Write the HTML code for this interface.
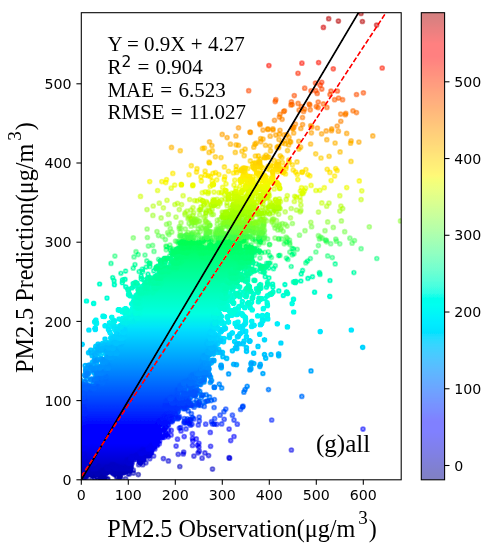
<!DOCTYPE html><html><head><meta charset="utf-8"><title>PM2.5 scatter</title><style>
html,body{margin:0;padding:0;background:#fff}svg{display:block}
.t{font-family:"DejaVu Sans","Liberation Sans",sans-serif;font-size:14.2px;fill:#000}
.s{font-family:"Liberation Serif","Times New Roman",serif;fill:#000}
</style></head><body>
<svg width="489" height="550" viewBox="0 0 489 550">
<rect width="489" height="550" fill="#fff"/>
<defs>
<linearGradient id="cb" gradientUnits="userSpaceOnUse" x1="0" y1="479.8" x2="0" y2="12.7">
<stop offset="0.0000" stop-color="#8080bf"/>
<stop offset="0.0156" stop-color="#8080c8"/>
<stop offset="0.0312" stop-color="#8080d1"/>
<stop offset="0.0469" stop-color="#8080db"/>
<stop offset="0.0625" stop-color="#8080e4"/>
<stop offset="0.0781" stop-color="#8080ed"/>
<stop offset="0.0938" stop-color="#8080f6"/>
<stop offset="0.1094" stop-color="#8080ff"/>
<stop offset="0.1250" stop-color="#8080ff"/>
<stop offset="0.1406" stop-color="#8088ff"/>
<stop offset="0.1562" stop-color="#8090ff"/>
<stop offset="0.1719" stop-color="#8098ff"/>
<stop offset="0.1875" stop-color="#80a0ff"/>
<stop offset="0.2031" stop-color="#80a8ff"/>
<stop offset="0.2188" stop-color="#80b0ff"/>
<stop offset="0.2344" stop-color="#80b8ff"/>
<stop offset="0.2500" stop-color="#80c0ff"/>
<stop offset="0.2656" stop-color="#80c8ff"/>
<stop offset="0.2812" stop-color="#80d0ff"/>
<stop offset="0.2969" stop-color="#80d8ff"/>
<stop offset="0.3125" stop-color="#80e0ff"/>
<stop offset="0.3281" stop-color="#80e8ff"/>
<stop offset="0.3438" stop-color="#80f0fd"/>
<stop offset="0.3594" stop-color="#84f8f6"/>
<stop offset="0.3750" stop-color="#8afff0"/>
<stop offset="0.3906" stop-color="#91ffea"/>
<stop offset="0.4062" stop-color="#97ffe3"/>
<stop offset="0.4219" stop-color="#9effdd"/>
<stop offset="0.4375" stop-color="#a4ffd6"/>
<stop offset="0.4531" stop-color="#abffd0"/>
<stop offset="0.4688" stop-color="#b1ffc9"/>
<stop offset="0.4844" stop-color="#b8ffc3"/>
<stop offset="0.5000" stop-color="#beffbc"/>
<stop offset="0.5156" stop-color="#c4ffb6"/>
<stop offset="0.5312" stop-color="#cbffaf"/>
<stop offset="0.5469" stop-color="#d1ffa9"/>
<stop offset="0.5625" stop-color="#d8ffa3"/>
<stop offset="0.5781" stop-color="#deff9c"/>
<stop offset="0.5938" stop-color="#e5ff96"/>
<stop offset="0.6094" stop-color="#ebff8f"/>
<stop offset="0.6250" stop-color="#f2ff89"/>
<stop offset="0.6406" stop-color="#f8fe82"/>
<stop offset="0.6562" stop-color="#fff680"/>
<stop offset="0.6719" stop-color="#ffef80"/>
<stop offset="0.6875" stop-color="#ffe780"/>
<stop offset="0.7031" stop-color="#ffe080"/>
<stop offset="0.7188" stop-color="#ffd880"/>
<stop offset="0.7344" stop-color="#ffd180"/>
<stop offset="0.7500" stop-color="#ffca80"/>
<stop offset="0.7656" stop-color="#ffc280"/>
<stop offset="0.7812" stop-color="#ffbb80"/>
<stop offset="0.7969" stop-color="#ffb380"/>
<stop offset="0.8125" stop-color="#ffac80"/>
<stop offset="0.8281" stop-color="#ffa580"/>
<stop offset="0.8438" stop-color="#ff9d80"/>
<stop offset="0.8594" stop-color="#ff9680"/>
<stop offset="0.8750" stop-color="#ff8e80"/>
<stop offset="0.8906" stop-color="#fd8780"/>
<stop offset="0.9062" stop-color="#f48080"/>
<stop offset="0.9219" stop-color="#ea8080"/>
<stop offset="0.9375" stop-color="#e18080"/>
<stop offset="0.9531" stop-color="#d88080"/>
<stop offset="0.9688" stop-color="#cf8080"/>
<stop offset="0.9844" stop-color="#c68080"/>
<stop offset="1.0000" stop-color="#bf8080"/>
</linearGradient>
<linearGradient id="jg" gradientUnits="userSpaceOnUse" x1="0" y1="494.21" x2="0" y2="12.28">
<stop offset="0.0000" stop-color="#000080"/>
<stop offset="0.0156" stop-color="#000092"/>
<stop offset="0.0312" stop-color="#0000a4"/>
<stop offset="0.0469" stop-color="#0000b6"/>
<stop offset="0.0625" stop-color="#0000c8"/>
<stop offset="0.0781" stop-color="#0000da"/>
<stop offset="0.0938" stop-color="#0000ed"/>
<stop offset="0.1094" stop-color="#0000ff"/>
<stop offset="0.1250" stop-color="#0000ff"/>
<stop offset="0.1406" stop-color="#0010ff"/>
<stop offset="0.1562" stop-color="#0020ff"/>
<stop offset="0.1719" stop-color="#0030ff"/>
<stop offset="0.1875" stop-color="#0040ff"/>
<stop offset="0.2031" stop-color="#0050ff"/>
<stop offset="0.2188" stop-color="#0060ff"/>
<stop offset="0.2344" stop-color="#0070ff"/>
<stop offset="0.2500" stop-color="#0080ff"/>
<stop offset="0.2656" stop-color="#0090ff"/>
<stop offset="0.2812" stop-color="#00a0ff"/>
<stop offset="0.2969" stop-color="#00b0ff"/>
<stop offset="0.3125" stop-color="#00c0ff"/>
<stop offset="0.3281" stop-color="#00d0ff"/>
<stop offset="0.3438" stop-color="#00e0fb"/>
<stop offset="0.3594" stop-color="#09f0ee"/>
<stop offset="0.3750" stop-color="#16ffe1"/>
<stop offset="0.3906" stop-color="#23ffd4"/>
<stop offset="0.4062" stop-color="#30ffc7"/>
<stop offset="0.4219" stop-color="#3cffba"/>
<stop offset="0.4375" stop-color="#49ffad"/>
<stop offset="0.4531" stop-color="#56ffa0"/>
<stop offset="0.4688" stop-color="#63ff94"/>
<stop offset="0.4844" stop-color="#70ff87"/>
<stop offset="0.5000" stop-color="#7dff7a"/>
<stop offset="0.5156" stop-color="#8aff6d"/>
<stop offset="0.5312" stop-color="#97ff60"/>
<stop offset="0.5469" stop-color="#a4ff53"/>
<stop offset="0.5625" stop-color="#b1ff46"/>
<stop offset="0.5781" stop-color="#beff39"/>
<stop offset="0.5938" stop-color="#caff2c"/>
<stop offset="0.6094" stop-color="#d7ff1f"/>
<stop offset="0.6250" stop-color="#e4ff13"/>
<stop offset="0.6406" stop-color="#f1fc06"/>
<stop offset="0.6562" stop-color="#feed00"/>
<stop offset="0.6719" stop-color="#ffde00"/>
<stop offset="0.6875" stop-color="#ffd000"/>
<stop offset="0.7031" stop-color="#ffc100"/>
<stop offset="0.7188" stop-color="#ffb200"/>
<stop offset="0.7344" stop-color="#ffa300"/>
<stop offset="0.7500" stop-color="#ff9400"/>
<stop offset="0.7656" stop-color="#ff8600"/>
<stop offset="0.7812" stop-color="#ff7700"/>
<stop offset="0.7969" stop-color="#ff6800"/>
<stop offset="0.8125" stop-color="#ff5900"/>
<stop offset="0.8281" stop-color="#ff4a00"/>
<stop offset="0.8438" stop-color="#ff3b00"/>
<stop offset="0.8594" stop-color="#ff2d00"/>
<stop offset="0.8750" stop-color="#ff1e00"/>
<stop offset="0.8906" stop-color="#fa0f00"/>
<stop offset="0.9062" stop-color="#e80000"/>
<stop offset="0.9219" stop-color="#d60000"/>
<stop offset="0.9375" stop-color="#c40000"/>
<stop offset="0.9531" stop-color="#b20000"/>
<stop offset="0.9688" stop-color="#9f0000"/>
<stop offset="0.9844" stop-color="#8d0000"/>
<stop offset="1.0000" stop-color="#800000"/>
</linearGradient>
<filter id="ad" filterUnits="userSpaceOnUse" x="0" y="0" width="489" height="550" color-interpolation-filters="sRGB"><feComponentTransfer><feFuncR type="gamma" exponent="2.2"/><feFuncG type="gamma" exponent="2.2"/><feFuncB type="gamma" exponent="2.2"/></feComponentTransfer><feColorMatrix type="matrix" values="1.39828 -0.39828 0 0 0  0 1 0 0 0  0 -0.04294 1.04294 0 0  0 0 0 1 0"/><feComponentTransfer><feFuncR type="gamma" amplitude="1.057" exponent="0.41667" offset="-0.055"/><feFuncG type="gamma" amplitude="1.057" exponent="0.41667" offset="-0.055"/><feFuncB type="gamma" amplitude="1.057" exponent="0.41667" offset="-0.055"/></feComponentTransfer></filter>
<clipPath id="ax"><rect x="81.3" y="12.7" width="319.9" height="467.1"/></clipPath>
</defs>
<g filter="url(#ad)">
<g clip-path="url(#ax)">
<rect x="79.3" y="10.7" width="323.9" height="471.1" fill="#fff"/>
<path d="M238 207h1v1.2h-1zM237 208h3v1.2h-3zM236 209h5v1.2h-5zM236 210h5v1.2h-5zM235 211h6v1.2h-6zM234 212h7v1.2h-7zM234 213h7v1.2h-7zM233 214h8v1.2h-8zM233 215h8v1.2h-8zM232 216h8v1.2h-8zM231 217h9v1.2h-9zM231 218h9v1.2h-9zM231 219h9v1.2h-9zM230 220h10v1.2h-10zM230 221h10v1.2h-10zM227 222h13v1.2h-13zM226 223h13v1.2h-13zM246 223h5v1.2h-5zM227 224h11v1.2h-11zM244 224h8v1.2h-8zM228 225h10v1.2h-10zM243 225h10v1.2h-10zM230 226h8v1.2h-8zM243 226h10v1.2h-10zM232 227h6v1.2h-6zM243 227h10v1.2h-10zM234 228h4v1.2h-4zM243 228h10v1.2h-10zM235 229h2v1.2h-2zM243 229h9v1.2h-9zM217 230h4v1.2h-4zM243 230h8v1.2h-8zM216 231h6v1.2h-6zM244 231h6v1.2h-6zM216 232h7v1.2h-7zM245 232h3v1.2h-3zM217 233h6v1.2h-6zM217 234h6v1.2h-6zM218 235h4v1.2h-4zM219 236h2v1.2h-2zM243 237h1v1.2h-1zM242 238h3v1.2h-3zM243 239h1v1.2h-1zM189 241h2v1.2h-2zM187 242h5v1.2h-5zM185 243h9v1.2h-9zM184 244h12v1.2h-12zM185 245h12v1.2h-12zM226 245h3v1.2h-3zM187 246h11v1.2h-11zM225 246h6v1.2h-6zM188 247h11v1.2h-11zM211 247h5v1.2h-5zM224 247h10v1.2h-10zM188 248h11v1.2h-11zM210 248h7v1.2h-7zM223 248h12v1.2h-12zM178 249h3v1.2h-3zM188 249h14v1.2h-14zM210 249h8v1.2h-8zM223 249h12v1.2h-12zM177 250h5v1.2h-5zM187 250h16v1.2h-16zM211 250h24v1.2h-24zM176 251h7v1.2h-7zM187 251h16v1.2h-16zM214 251h21v1.2h-21zM176 252h27v1.2h-27zM215 252h20v1.2h-20zM177 253h26v1.2h-26zM215 253h20v1.2h-20zM177 254h27v1.2h-27zM213 254h24v1.2h-24zM239 254h5v1.2h-5zM178 255h67v1.2h-67zM179 256h65v1.2h-65zM180 257h64v1.2h-64zM180 258h64v1.2h-64zM179 259h64v1.2h-64zM177 260h66v1.2h-66zM175 261h67v1.2h-67zM174 262h68v1.2h-68zM173 263h69v1.2h-69zM173 264h69v1.2h-69zM173 265h69v1.2h-69zM165 266h4v1.2h-4zM173 266h68v1.2h-68zM164 267h7v1.2h-7zM173 267h68v1.2h-68zM164 268h77v1.2h-77zM164 269h76v1.2h-76zM164 270h73v1.2h-73zM165 271h70v1.2h-70zM165 272h69v1.2h-69zM164 273h70v1.2h-70zM161 274h73v1.2h-73zM159 275h75v1.2h-75zM158 276h76v1.2h-76zM158 277h76v1.2h-76zM157 278h78v1.2h-78zM157 279h78v1.2h-78zM157 280h78v1.2h-78zM157 281h78v1.2h-78zM157 282h77v1.2h-77zM157 283h69v1.2h-69zM228 283h5v1.2h-5zM156 284h69v1.2h-69zM229 284h2v1.2h-2zM155 285h70v1.2h-70zM155 286h70v1.2h-70zM154 287h72v1.2h-72zM144 288h3v1.2h-3zM154 288h72v1.2h-72zM143 289h6v1.2h-6zM153 289h74v1.2h-74zM142 290h85v1.2h-85zM141 291h86v1.2h-86zM140 292h88v1.2h-88zM140 293h88v1.2h-88zM139 294h88v1.2h-88zM139 295h88v1.2h-88zM138 296h88v1.2h-88zM138 297h88v1.2h-88zM138 298h88v1.2h-88zM138 299h88v1.2h-88zM138 300h87v1.2h-87zM137 301h88v1.2h-88zM137 302h87v1.2h-87zM137 303h87v1.2h-87zM137 304h87v1.2h-87zM137 305h87v1.2h-87zM137 306h88v1.2h-88zM137 307h87v1.2h-87zM137 308h86v1.2h-86zM136 309h86v1.2h-86zM136 310h84v1.2h-84zM136 311h83v1.2h-83zM136 312h82v1.2h-82zM136 313h82v1.2h-82zM136 314h82v1.2h-82zM136 315h82v1.2h-82zM136 316h82v1.2h-82zM135 317h84v1.2h-84zM133 318h86v1.2h-86zM127 319h92v1.2h-92zM126 320h93v1.2h-93zM125 321h93v1.2h-93zM124 322h94v1.2h-94zM123 323h94v1.2h-94zM122 324h95v1.2h-95zM121 325h96v1.2h-96zM121 326h95v1.2h-95zM121 327h95v1.2h-95zM121 328h94v1.2h-94zM121 329h94v1.2h-94zM121 330h93v1.2h-93zM121 331h93v1.2h-93zM121 332h93v1.2h-93zM121 333h94v1.2h-94zM121 334h94v1.2h-94zM121 335h94v1.2h-94zM121 336h93v1.2h-93zM121 337h91v1.2h-91zM120 338h91v1.2h-91zM120 339h91v1.2h-91zM120 340h91v1.2h-91zM112 341h5v1.2h-5zM120 341h91v1.2h-91zM111 342h100v1.2h-100zM110 343h101v1.2h-101zM110 344h102v1.2h-102zM110 345h102v1.2h-102zM110 346h102v1.2h-102zM111 347h102v1.2h-102zM112 348h101v1.2h-101zM113 349h99v1.2h-99zM113 350h99v1.2h-99zM114 351h97v1.2h-97zM114 352h96v1.2h-96zM114 353h95v1.2h-95zM113 354h95v1.2h-95zM108 355h99v1.2h-99zM107 356h100v1.2h-100zM106 357h100v1.2h-100zM105 358h101v1.2h-101zM104 359h102v1.2h-102zM104 360h102v1.2h-102zM104 361h103v1.2h-103zM104 362h103v1.2h-103zM104 363h104v1.2h-104zM105 364h103v1.2h-103zM105 365h102v1.2h-102zM105 366h101v1.2h-101zM106 367h99v1.2h-99zM105 368h100v1.2h-100zM105 369h100v1.2h-100zM103 370h101v1.2h-101zM102 371h102v1.2h-102zM101 372h102v1.2h-102zM100 373h103v1.2h-103zM100 374h102v1.2h-102zM101 375h100v1.2h-100zM102 376h98v1.2h-98zM102 377h93v1.2h-93zM103 378h89v1.2h-89zM103 379h88v1.2h-88zM98 380h3v1.2h-3zM102 380h89v1.2h-89zM97 381h94v1.2h-94zM96 382h95v1.2h-95zM95 383h96v1.2h-96zM94 384h97v1.2h-97zM93 385h92v1.2h-92zM186 385h5v1.2h-5zM82 386h101v1.2h-101zM187 386h3v1.2h-3zM81 387h102v1.2h-102zM81 388h101v1.2h-101zM81 389h100v1.2h-100zM81 390h100v1.2h-100zM81 391h100v1.2h-100zM81 392h99v1.2h-99zM81 393h99v1.2h-99zM81 394h99v1.2h-99zM81 395h98v1.2h-98zM81 396h98v1.2h-98zM81 397h98v1.2h-98zM81 398h99v1.2h-99zM81 399h99v1.2h-99zM81 400h99v1.2h-99zM81 401h89v1.2h-89zM173 401h8v1.2h-8zM81 402h88v1.2h-88zM173 402h8v1.2h-8zM81 403h88v1.2h-88zM173 403h7v1.2h-7zM81 404h87v1.2h-87zM173 404h7v1.2h-7zM81 405h87v1.2h-87zM173 405h7v1.2h-7zM81 406h87v1.2h-87zM173 406h6v1.2h-6zM81 407h87v1.2h-87zM173 407h5v1.2h-5zM81 408h87v1.2h-87zM172 408h5v1.2h-5zM81 409h88v1.2h-88zM172 409h4v1.2h-4zM81 410h90v1.2h-90zM173 410h1v1.2h-1zM81 411h91v1.2h-91zM81 412h91v1.2h-91zM81 413h90v1.2h-90zM81 414h90v1.2h-90zM81 415h90v1.2h-90zM81 416h89v1.2h-89zM81 417h89v1.2h-89zM81 418h88v1.2h-88zM81 419h84v1.2h-84zM81 420h83v1.2h-83zM81 421h82v1.2h-82zM81 422h82v1.2h-82zM81 423h81v1.2h-81zM81 424h80v1.2h-80zM81 425h79v1.2h-79zM81 426h79v1.2h-79zM81 427h79v1.2h-79zM81 428h79v1.2h-79zM81 429h79v1.2h-79zM81 430h79v1.2h-79zM81 431h78v1.2h-78zM81 432h77v1.2h-77zM81 433h77v1.2h-77zM81 434h77v1.2h-77zM81 435h77v1.2h-77zM81 436h77v1.2h-77zM81 437h77v1.2h-77zM81 438h77v1.2h-77zM81 439h77v1.2h-77zM81 440h76v1.2h-76zM81 441h76v1.2h-76zM81 442h75v1.2h-75zM81 443h75v1.2h-75zM81 444h75v1.2h-75zM81 445h74v1.2h-74zM81 446h73v1.2h-73zM81 447h71v1.2h-71zM81 448h70v1.2h-70zM81 449h69v1.2h-69zM81 450h68v1.2h-68zM81 451h68v1.2h-68zM81 452h67v1.2h-67zM81 453h61v1.2h-61zM81 454h60v1.2h-60zM81 455h60v1.2h-60zM81 456h60v1.2h-60zM81 457h59v1.2h-59zM81 458h51v1.2h-51zM81 459h50v1.2h-50zM81 460h50v1.2h-50zM81 461h49v1.2h-49zM81 462h48v1.2h-48zM81 463h47v1.2h-47zM81 464h47v1.2h-47zM81 465h13v1.2h-13zM95 465h34v1.2h-34zM81 466h13v1.2h-13zM96 466h33v1.2h-33zM81 467h48v1.2h-48zM81 468h30v1.2h-30zM116 468h12v1.2h-12zM81 469h28v1.2h-28zM117 469h10v1.2h-10zM81 470h27v1.2h-27zM120 470h6v1.2h-6zM81 471h25v1.2h-25zM121 471h2v1.2h-2zM81 472h25v1.2h-25zM81 473h14v1.2h-14zM97 473h8v1.2h-8zM81 474h7v1.2h-7zM100 474h5v1.2h-5zM82 475h3v1.2h-3zM101 475h3v1.2h-3zM101 476h4v1.2h-4zM101 477h4v1.2h-4zM102 478h2v1.2h-2z" fill="url(#jg)"/>
<g class="p" fill-opacity=".5" stroke-opacity=".5" stroke-width="1.6">
<g fill="#00009b" stroke="#00009b"><circle cx="81.3" cy="479.8" r="2.05"/><circle cx="83.4" cy="479.6" r="2.05"/><circle cx="98.2" cy="479.9" r="2.05"/><circle cx="101.4" cy="479.5" r="2.05"/><circle cx="86.6" cy="479.6" r="2.05"/><circle cx="107.9" cy="479.2" r="2.05"/><circle cx="103.6" cy="479.6" r="2.05"/><circle cx="91.9" cy="479.5" r="2.05"/></g>
<g fill="#0000a8" stroke="#0000a8"><circle cx="83.8" cy="478.5" r="2.05"/><circle cx="138.3" cy="474.6" r="2.05"/><circle cx="125.6" cy="478.8" r="2.05"/><circle cx="100.1" cy="477.6" r="2.05"/><circle cx="94.2" cy="478.0" r="2.05"/><circle cx="82.7" cy="476.1" r="2.05"/><circle cx="83.1" cy="475.9" r="2.05"/><circle cx="85.5" cy="477.9" r="2.05"/><circle cx="100.9" cy="475.8" r="2.05"/><circle cx="97.0" cy="477.5" r="2.05"/><circle cx="104.7" cy="475.6" r="2.05"/><circle cx="81.2" cy="475.3" r="2.05"/><circle cx="83.6" cy="476.1" r="2.05"/><circle cx="107.2" cy="478.9" r="2.05"/><circle cx="103.5" cy="478.7" r="2.05"/><circle cx="84.5" cy="475.8" r="2.05"/><circle cx="82.5" cy="477.7" r="2.05"/><circle cx="99.7" cy="474.9" r="2.05"/><circle cx="101.3" cy="475.7" r="2.05"/><circle cx="83.8" cy="474.7" r="2.05"/><circle cx="120.4" cy="474.7" r="2.05"/><circle cx="101.6" cy="475.4" r="2.05"/><circle cx="103.4" cy="477.2" r="2.05"/><circle cx="92.6" cy="475.5" r="2.05"/><circle cx="120.5" cy="477.8" r="2.05"/><circle cx="102.1" cy="477.9" r="2.05"/><circle cx="100.7" cy="477.9" r="2.05"/><circle cx="99.7" cy="474.4" r="2.05"/><circle cx="101.6" cy="478.8" r="2.05"/><circle cx="95.4" cy="474.5" r="2.05"/><circle cx="87.1" cy="475.3" r="2.05"/><circle cx="95.7" cy="474.2" r="2.05"/><circle cx="101.9" cy="475.6" r="2.05"/><circle cx="87.0" cy="474.9" r="2.05"/><circle cx="84.7" cy="476.3" r="2.05"/><circle cx="119.7" cy="476.7" r="2.05"/><circle cx="90.5" cy="474.5" r="2.05"/><circle cx="101.3" cy="476.3" r="2.05"/><circle cx="103.2" cy="475.0" r="2.05"/><circle cx="84.5" cy="474.8" r="2.05"/><circle cx="114.6" cy="474.2" r="2.05"/><circle cx="91.4" cy="474.8" r="2.05"/><circle cx="88.5" cy="474.5" r="2.05"/><circle cx="104.8" cy="478.9" r="2.05"/><circle cx="117.3" cy="477.2" r="2.05"/><circle cx="101.1" cy="474.3" r="2.05"/><circle cx="119.8" cy="476.4" r="2.05"/><circle cx="94.6" cy="475.1" r="2.05"/><circle cx="116.3" cy="476.4" r="2.05"/></g>
<g fill="#0000b6" stroke="#0000b6"><circle cx="84.3" cy="471.1" r="2.05"/><circle cx="85.3" cy="473.7" r="2.05"/><circle cx="106.6" cy="472.7" r="2.05"/><circle cx="124.4" cy="471.4" r="2.05"/><circle cx="106.2" cy="469.1" r="2.05"/><circle cx="106.9" cy="472.6" r="2.05"/><circle cx="113.5" cy="473.8" r="2.05"/><circle cx="107.2" cy="471.5" r="2.05"/><circle cx="129.3" cy="474.0" r="2.05"/><circle cx="93.3" cy="471.5" r="2.05"/><circle cx="99.3" cy="472.4" r="2.05"/><circle cx="87.9" cy="472.3" r="2.05"/><circle cx="122.4" cy="472.1" r="2.05"/><circle cx="107.4" cy="469.4" r="2.05"/><circle cx="96.4" cy="472.2" r="2.05"/><circle cx="117.1" cy="469.8" r="2.05"/><circle cx="119.8" cy="469.8" r="2.05"/><circle cx="93.3" cy="471.2" r="2.05"/><circle cx="93.5" cy="471.0" r="2.05"/><circle cx="123.9" cy="472.6" r="2.05"/><circle cx="90.8" cy="473.4" r="2.05"/><circle cx="133.4" cy="473.1" r="2.05"/><circle cx="111.6" cy="471.1" r="2.05"/><circle cx="90.8" cy="472.9" r="2.05"/><circle cx="120.2" cy="473.4" r="2.05"/><circle cx="82.1" cy="471.3" r="2.05"/><circle cx="87.9" cy="471.6" r="2.05"/><circle cx="86.7" cy="471.5" r="2.05"/><circle cx="119.5" cy="471.4" r="2.05"/><circle cx="116.1" cy="472.0" r="2.05"/><circle cx="120.5" cy="472.2" r="2.05"/><circle cx="126.2" cy="471.4" r="2.05"/><circle cx="133.3" cy="470.2" r="2.05"/><circle cx="91.7" cy="470.2" r="2.05"/><circle cx="103.9" cy="470.6" r="2.05"/><circle cx="119.4" cy="469.4" r="2.05"/><circle cx="124.9" cy="471.6" r="2.05"/><circle cx="110.0" cy="470.6" r="2.05"/><circle cx="84.8" cy="473.7" r="2.05"/><circle cx="120.7" cy="471.2" r="2.05"/><circle cx="107.0" cy="471.0" r="2.05"/><circle cx="118.4" cy="469.3" r="2.05"/><circle cx="126.8" cy="470.4" r="2.05"/><circle cx="81.9" cy="473.9" r="2.05"/><circle cx="88.9" cy="470.4" r="2.05"/><circle cx="128.3" cy="470.2" r="2.05"/><circle cx="117.3" cy="469.8" r="2.05"/><circle cx="88.1" cy="473.4" r="2.05"/><circle cx="90.4" cy="470.8" r="2.05"/><circle cx="128.3" cy="470.4" r="2.05"/><circle cx="113.1" cy="472.4" r="2.05"/><circle cx="96.9" cy="474.0" r="2.05"/><circle cx="96.1" cy="469.5" r="2.05"/><circle cx="122.2" cy="470.1" r="2.05"/><circle cx="112.8" cy="470.6" r="2.05"/><circle cx="88.8" cy="470.3" r="2.05"/><circle cx="104.1" cy="472.8" r="2.05"/><circle cx="89.8" cy="473.3" r="2.05"/><circle cx="111.3" cy="472.6" r="2.05"/><circle cx="95.1" cy="470.0" r="2.05"/><circle cx="97.5" cy="473.8" r="2.05"/><circle cx="123.4" cy="472.8" r="2.05"/><circle cx="86.5" cy="472.6" r="2.05"/><circle cx="119.7" cy="471.0" r="2.05"/><circle cx="108.1" cy="471.2" r="2.05"/><circle cx="109.9" cy="470.3" r="2.05"/><circle cx="112.9" cy="472.4" r="2.05"/><circle cx="91.4" cy="471.4" r="2.05"/><circle cx="128.2" cy="473.8" r="2.05"/><circle cx="119.9" cy="471.3" r="2.05"/><circle cx="130.1" cy="470.6" r="2.05"/><circle cx="121.2" cy="469.8" r="2.05"/><circle cx="91.5" cy="470.1" r="2.05"/><circle cx="106.0" cy="473.3" r="2.05"/><circle cx="103.0" cy="470.2" r="2.05"/><circle cx="118.5" cy="472.6" r="2.05"/><circle cx="120.0" cy="469.7" r="2.05"/></g>
<g fill="#0000bf" stroke="#0000bf"><circle cx="82.2" cy="468.9" r="2.05"/><circle cx="93.1" cy="469.1" r="2.05"/><circle cx="93.1" cy="467.5" r="2.05"/><circle cx="94.4" cy="467.5" r="2.05"/><circle cx="95.0" cy="464.5" r="2.05"/><circle cx="130.5" cy="466.1" r="2.05"/><circle cx="118.5" cy="469.0" r="2.05"/><circle cx="116.3" cy="467.8" r="2.05"/><circle cx="112.3" cy="464.3" r="2.05"/><circle cx="114.6" cy="467.9" r="2.05"/><circle cx="107.8" cy="468.4" r="2.05"/><circle cx="93.7" cy="468.4" r="2.05"/><circle cx="138.7" cy="464.7" r="2.05"/><circle cx="119.5" cy="467.3" r="2.05"/><circle cx="129.0" cy="467.9" r="2.05"/><circle cx="116.8" cy="466.2" r="2.05"/><circle cx="116.4" cy="467.9" r="2.05"/><circle cx="91.3" cy="467.0" r="2.05"/><circle cx="92.9" cy="465.7" r="2.05"/><circle cx="121.6" cy="468.7" r="2.05"/><circle cx="111.1" cy="465.7" r="2.05"/><circle cx="127.8" cy="464.5" r="2.05"/><circle cx="126.4" cy="467.7" r="2.05"/><circle cx="127.3" cy="465.0" r="2.05"/><circle cx="118.9" cy="468.8" r="2.05"/><circle cx="109.2" cy="468.6" r="2.05"/><circle cx="93.0" cy="468.7" r="2.05"/><circle cx="130.9" cy="468.7" r="2.05"/><circle cx="125.8" cy="469.1" r="2.05"/><circle cx="142.7" cy="464.7" r="2.05"/><circle cx="97.1" cy="467.9" r="2.05"/><circle cx="128.7" cy="468.0" r="2.05"/><circle cx="127.4" cy="466.0" r="2.05"/><circle cx="93.3" cy="466.0" r="2.05"/><circle cx="106.3" cy="467.2" r="2.05"/><circle cx="106.7" cy="467.3" r="2.05"/><circle cx="107.0" cy="467.9" r="2.05"/><circle cx="125.1" cy="468.3" r="2.05"/><circle cx="115.6" cy="468.1" r="2.05"/><circle cx="129.6" cy="469.0" r="2.05"/><circle cx="117.2" cy="467.1" r="2.05"/><circle cx="114.3" cy="465.2" r="2.05"/><circle cx="93.3" cy="464.8" r="2.05"/><circle cx="122.7" cy="468.9" r="2.05"/><circle cx="96.4" cy="468.1" r="2.05"/><circle cx="92.0" cy="465.5" r="2.05"/><circle cx="126.6" cy="467.4" r="2.05"/><circle cx="91.1" cy="465.7" r="2.05"/><circle cx="107.3" cy="468.3" r="2.05"/><circle cx="129.7" cy="467.4" r="2.05"/><circle cx="116.0" cy="468.1" r="2.05"/><circle cx="95.6" cy="468.8" r="2.05"/><circle cx="131.1" cy="466.6" r="2.05"/><circle cx="130.7" cy="466.2" r="2.05"/><circle cx="113.4" cy="465.0" r="2.05"/><circle cx="110.3" cy="467.3" r="2.05"/><circle cx="130.8" cy="464.8" r="2.05"/><circle cx="94.8" cy="466.1" r="2.05"/><circle cx="81.4" cy="465.5" r="2.05"/><circle cx="129.8" cy="466.1" r="2.05"/><circle cx="129.1" cy="465.1" r="2.05"/><circle cx="98.1" cy="465.9" r="2.05"/><circle cx="120.8" cy="468.7" r="2.05"/><circle cx="95.4" cy="468.4" r="2.05"/><circle cx="179.8" cy="466.5" r="2.05"/><circle cx="212.5" cy="469.1" r="2.05"/></g>
<g fill="#0000cd" stroke="#0000cd"><circle cx="140.5" cy="462.4" r="2.05"/><circle cx="127.1" cy="459.8" r="2.05"/><circle cx="143.1" cy="460.1" r="2.05"/><circle cx="93.2" cy="463.6" r="2.05"/><circle cx="82.9" cy="463.9" r="2.05"/><circle cx="144.2" cy="459.4" r="2.05"/><circle cx="127.8" cy="460.8" r="2.05"/><circle cx="128.8" cy="461.8" r="2.05"/><circle cx="83.7" cy="460.7" r="2.05"/><circle cx="140.3" cy="459.1" r="2.05"/><circle cx="140.2" cy="459.4" r="2.05"/><circle cx="139.4" cy="461.0" r="2.05"/><circle cx="134.3" cy="459.3" r="2.05"/><circle cx="139.8" cy="459.5" r="2.05"/><circle cx="81.4" cy="462.8" r="2.05"/><circle cx="94.8" cy="461.8" r="2.05"/><circle cx="83.8" cy="459.6" r="2.05"/><circle cx="140.3" cy="463.0" r="2.05"/><circle cx="145.9" cy="462.8" r="2.05"/><circle cx="129.0" cy="459.3" r="2.05"/><circle cx="130.4" cy="459.4" r="2.05"/><circle cx="81.4" cy="459.2" r="2.05"/><circle cx="84.8" cy="463.7" r="2.05"/><circle cx="129.4" cy="461.2" r="2.05"/><circle cx="94.8" cy="462.4" r="2.05"/><circle cx="82.7" cy="460.4" r="2.05"/><circle cx="84.1" cy="459.7" r="2.05"/><circle cx="92.3" cy="463.4" r="2.05"/><circle cx="81.4" cy="459.9" r="2.05"/><circle cx="82.2" cy="463.2" r="2.05"/><circle cx="132.2" cy="463.1" r="2.05"/><circle cx="128.3" cy="463.5" r="2.05"/><circle cx="81.1" cy="462.6" r="2.05"/><circle cx="131.4" cy="461.6" r="2.05"/><circle cx="130.4" cy="460.3" r="2.05"/><circle cx="83.7" cy="462.8" r="2.05"/><circle cx="94.9" cy="462.6" r="2.05"/><circle cx="139.8" cy="461.7" r="2.05"/><circle cx="93.7" cy="463.3" r="2.05"/><circle cx="84.5" cy="461.0" r="2.05"/><circle cx="130.6" cy="463.2" r="2.05"/><circle cx="81.0" cy="462.3" r="2.05"/><circle cx="85.0" cy="460.7" r="2.05"/><circle cx="136.0" cy="459.4" r="2.05"/><circle cx="130.7" cy="462.9" r="2.05"/><circle cx="129.5" cy="463.1" r="2.05"/><circle cx="129.9" cy="461.1" r="2.05"/><circle cx="126.5" cy="461.9" r="2.05"/><circle cx="168.4" cy="460.9" r="2.05"/></g>
<g fill="#0000da" stroke="#0000da"><circle cx="84.0" cy="454.6" r="2.05"/><circle cx="84.2" cy="456.9" r="2.05"/><circle cx="136.1" cy="457.4" r="2.05"/><circle cx="143.4" cy="456.6" r="2.05"/><circle cx="148.3" cy="455.9" r="2.05"/><circle cx="149.7" cy="458.7" r="2.05"/><circle cx="132.2" cy="457.7" r="2.05"/><circle cx="83.7" cy="454.4" r="2.05"/><circle cx="142.3" cy="457.0" r="2.05"/><circle cx="142.8" cy="456.8" r="2.05"/><circle cx="134.6" cy="457.5" r="2.05"/><circle cx="84.5" cy="456.3" r="2.05"/><circle cx="146.2" cy="454.9" r="2.05"/><circle cx="130.5" cy="458.5" r="2.05"/><circle cx="153.6" cy="456.0" r="2.05"/><circle cx="144.6" cy="456.2" r="2.05"/><circle cx="82.6" cy="456.3" r="2.05"/><circle cx="147.9" cy="454.6" r="2.05"/><circle cx="141.2" cy="456.1" r="2.05"/><circle cx="137.8" cy="456.9" r="2.05"/><circle cx="137.2" cy="456.3" r="2.05"/><circle cx="83.6" cy="457.0" r="2.05"/><circle cx="136.7" cy="456.3" r="2.05"/><circle cx="83.1" cy="458.4" r="2.05"/><circle cx="131.4" cy="457.0" r="2.05"/><circle cx="81.1" cy="456.9" r="2.05"/><circle cx="83.6" cy="455.3" r="2.05"/><circle cx="141.1" cy="457.9" r="2.05"/><circle cx="148.5" cy="455.2" r="2.05"/><circle cx="136.9" cy="455.4" r="2.05"/><circle cx="138.7" cy="456.0" r="2.05"/><circle cx="143.7" cy="458.2" r="2.05"/><circle cx="149.7" cy="455.3" r="2.05"/><circle cx="144.4" cy="454.5" r="2.05"/><circle cx="135.7" cy="455.6" r="2.05"/><circle cx="131.8" cy="456.6" r="2.05"/><circle cx="147.7" cy="454.9" r="2.05"/><circle cx="132.2" cy="456.8" r="2.05"/><circle cx="138.2" cy="454.7" r="2.05"/><circle cx="82.9" cy="455.2" r="2.05"/><circle cx="193.9" cy="456.1" r="2.05"/><circle cx="208.6" cy="455.6" r="2.05"/><circle cx="202.1" cy="458.2" r="2.05"/><circle cx="229.1" cy="457.7" r="2.05"/><circle cx="229.6" cy="458.2" r="2.05"/><circle cx="163.4" cy="458.6" r="2.05"/><circle cx="178.2" cy="454.3" r="2.05"/></g>
<g fill="#0000e3" stroke="#0000e3"><circle cx="144.1" cy="451.9" r="2.05"/><circle cx="142.4" cy="452.4" r="2.05"/><circle cx="140.0" cy="452.0" r="2.05"/><circle cx="144.3" cy="451.2" r="2.05"/><circle cx="146.2" cy="452.2" r="2.05"/><circle cx="150.4" cy="451.6" r="2.05"/><circle cx="149.2" cy="449.0" r="2.05"/><circle cx="83.2" cy="452.2" r="2.05"/><circle cx="150.0" cy="452.3" r="2.05"/><circle cx="142.6" cy="449.3" r="2.05"/><circle cx="204.9" cy="452.9" r="2.05"/><circle cx="141.0" cy="453.5" r="2.05"/><circle cx="144.4" cy="452.3" r="2.05"/><circle cx="141.6" cy="451.4" r="2.05"/><circle cx="198.1" cy="452.8" r="2.05"/><circle cx="142.1" cy="452.7" r="2.05"/><circle cx="146.4" cy="450.2" r="2.05"/><circle cx="146.1" cy="451.2" r="2.05"/><circle cx="183.7" cy="452.1" r="2.05"/><circle cx="82.2" cy="451.4" r="2.05"/><circle cx="82.0" cy="449.5" r="2.05"/><circle cx="151.3" cy="452.6" r="2.05"/><circle cx="141.2" cy="453.0" r="2.05"/><circle cx="82.0" cy="453.5" r="2.05"/><circle cx="144.6" cy="450.9" r="2.05"/><circle cx="141.5" cy="453.6" r="2.05"/><circle cx="183.3" cy="454.0" r="2.05"/><circle cx="149.0" cy="451.9" r="2.05"/><circle cx="145.2" cy="450.7" r="2.05"/><circle cx="151.5" cy="452.2" r="2.05"/><circle cx="82.0" cy="453.4" r="2.05"/><circle cx="291.4" cy="450.0" r="2.05"/><circle cx="199.3" cy="451.2" r="2.05"/></g>
<g fill="#0000f1" stroke="#0000f1"><circle cx="148.3" cy="449.0" r="2.05"/><circle cx="176.1" cy="446.1" r="2.05"/><circle cx="150.7" cy="446.4" r="2.05"/><circle cx="154.5" cy="446.6" r="2.05"/><circle cx="148.8" cy="448.7" r="2.05"/><circle cx="154.7" cy="444.3" r="2.05"/><circle cx="153.1" cy="446.1" r="2.05"/><circle cx="151.7" cy="445.1" r="2.05"/><circle cx="83.0" cy="448.9" r="2.05"/><circle cx="152.9" cy="448.9" r="2.05"/><circle cx="192.5" cy="445.5" r="2.05"/><circle cx="153.2" cy="444.5" r="2.05"/><circle cx="157.3" cy="445.5" r="2.05"/><circle cx="153.9" cy="447.5" r="2.05"/><circle cx="81.5" cy="447.8" r="2.05"/><circle cx="154.6" cy="445.1" r="2.05"/><circle cx="151.5" cy="445.7" r="2.05"/><circle cx="148.2" cy="448.8" r="2.05"/><circle cx="154.9" cy="449.0" r="2.05"/><circle cx="197.5" cy="445.3" r="2.05"/><circle cx="81.6" cy="446.3" r="2.05"/><circle cx="153.1" cy="445.1" r="2.05"/><circle cx="157.0" cy="444.5" r="2.05"/><circle cx="83.9" cy="447.6" r="2.05"/><circle cx="154.3" cy="446.3" r="2.05"/><circle cx="82.4" cy="448.8" r="2.05"/><circle cx="198.9" cy="447.0" r="2.05"/><circle cx="151.3" cy="448.5" r="2.05"/><circle cx="152.5" cy="446.7" r="2.05"/><circle cx="150.1" cy="447.2" r="2.05"/><circle cx="83.3" cy="446.2" r="2.05"/><circle cx="83.1" cy="448.3" r="2.05"/><circle cx="210.6" cy="446.3" r="2.05"/></g>
<g fill="#0000ff" stroke="#0000ff"><circle cx="82.6" cy="441.0" r="2.05"/><circle cx="84.8" cy="439.2" r="2.05"/><circle cx="159.3" cy="443.7" r="2.05"/><circle cx="154.4" cy="441.2" r="2.05"/><circle cx="157.1" cy="439.5" r="2.05"/><circle cx="159.7" cy="441.0" r="2.05"/><circle cx="155.0" cy="443.5" r="2.05"/><circle cx="177.5" cy="439.2" r="2.05"/><circle cx="84.3" cy="442.8" r="2.05"/><circle cx="157.8" cy="440.8" r="2.05"/><circle cx="156.2" cy="441.7" r="2.05"/><circle cx="85.0" cy="439.4" r="2.05"/><circle cx="157.5" cy="441.6" r="2.05"/><circle cx="155.3" cy="440.9" r="2.05"/><circle cx="155.8" cy="440.5" r="2.05"/><circle cx="153.4" cy="440.1" r="2.05"/><circle cx="82.0" cy="441.5" r="2.05"/><circle cx="192.8" cy="440.8" r="2.05"/><circle cx="156.1" cy="442.7" r="2.05"/><circle cx="198.9" cy="443.3" r="2.05"/><circle cx="157.8" cy="439.6" r="2.05"/><circle cx="154.8" cy="442.6" r="2.05"/><circle cx="155.1" cy="443.6" r="2.05"/><circle cx="230.7" cy="440.6" r="2.05"/></g>
<g fill="#0000ff" stroke="#0000ff"><circle cx="83.2" cy="434.3" r="2.05"/><circle cx="196.3" cy="438.9" r="2.05"/><circle cx="157.7" cy="437.0" r="2.05"/><circle cx="167.3" cy="434.7" r="2.05"/><circle cx="162.0" cy="437.2" r="2.05"/><circle cx="162.2" cy="436.5" r="2.05"/><circle cx="83.7" cy="435.0" r="2.05"/><circle cx="159.3" cy="434.2" r="2.05"/><circle cx="83.5" cy="436.0" r="2.05"/><circle cx="156.7" cy="434.5" r="2.05"/><circle cx="154.2" cy="434.4" r="2.05"/><circle cx="83.3" cy="435.4" r="2.05"/><circle cx="168.2" cy="436.8" r="2.05"/><circle cx="192.5" cy="438.4" r="2.05"/><circle cx="155.3" cy="436.7" r="2.05"/><circle cx="164.3" cy="437.3" r="2.05"/><circle cx="158.5" cy="434.9" r="2.05"/><circle cx="84.6" cy="437.4" r="2.05"/><circle cx="82.0" cy="437.4" r="2.05"/><circle cx="84.5" cy="434.4" r="2.05"/><circle cx="83.1" cy="435.7" r="2.05"/><circle cx="83.1" cy="438.6" r="2.05"/><circle cx="82.2" cy="435.8" r="2.05"/><circle cx="162.5" cy="437.4" r="2.05"/><circle cx="83.0" cy="437.7" r="2.05"/><circle cx="156.5" cy="436.9" r="2.05"/><circle cx="166.0" cy="434.9" r="2.05"/><circle cx="158.3" cy="437.0" r="2.05"/><circle cx="184.2" cy="436.6" r="2.05"/><circle cx="83.1" cy="434.1" r="2.05"/><circle cx="171.1" cy="435.0" r="2.05"/><circle cx="158.4" cy="437.6" r="2.05"/><circle cx="82.4" cy="438.2" r="2.05"/><circle cx="81.2" cy="437.6" r="2.05"/><circle cx="155.8" cy="434.4" r="2.05"/><circle cx="234.0" cy="436.5" r="2.05"/></g>
<g fill="#0004ff" stroke="#0004ff"><circle cx="154.4" cy="432.1" r="2.05"/><circle cx="162.7" cy="432.2" r="2.05"/><circle cx="82.9" cy="429.6" r="2.05"/><circle cx="156.2" cy="430.8" r="2.05"/><circle cx="82.5" cy="430.5" r="2.05"/><circle cx="192.4" cy="433.7" r="2.05"/><circle cx="165.8" cy="433.0" r="2.05"/><circle cx="164.2" cy="429.2" r="2.05"/><circle cx="156.8" cy="433.2" r="2.05"/><circle cx="161.7" cy="430.6" r="2.05"/><circle cx="84.8" cy="431.6" r="2.05"/><circle cx="157.8" cy="431.1" r="2.05"/><circle cx="168.4" cy="430.3" r="2.05"/><circle cx="82.6" cy="432.7" r="2.05"/><circle cx="157.7" cy="433.0" r="2.05"/><circle cx="159.2" cy="433.8" r="2.05"/><circle cx="83.6" cy="430.8" r="2.05"/><circle cx="158.9" cy="433.1" r="2.05"/><circle cx="157.1" cy="431.9" r="2.05"/><circle cx="155.5" cy="433.4" r="2.05"/><circle cx="84.0" cy="429.6" r="2.05"/><circle cx="81.5" cy="430.3" r="2.05"/><circle cx="171.3" cy="430.4" r="2.05"/><circle cx="82.6" cy="433.4" r="2.05"/><circle cx="84.4" cy="432.8" r="2.05"/><circle cx="83.3" cy="433.8" r="2.05"/><circle cx="163.7" cy="430.0" r="2.05"/><circle cx="156.4" cy="431.5" r="2.05"/><circle cx="159.0" cy="433.6" r="2.05"/><circle cx="83.3" cy="433.6" r="2.05"/><circle cx="83.0" cy="429.3" r="2.05"/><circle cx="82.0" cy="432.7" r="2.05"/><circle cx="181.0" cy="430.9" r="2.05"/><circle cx="82.3" cy="432.1" r="2.05"/><circle cx="83.2" cy="431.9" r="2.05"/><circle cx="83.2" cy="433.7" r="2.05"/><circle cx="158.5" cy="430.2" r="2.05"/><circle cx="363.0" cy="429.1" r="2.05"/><circle cx="229.1" cy="429.1" r="2.05"/><circle cx="210.3" cy="432.4" r="2.05"/></g>
<g fill="#0010ff" stroke="#0010ff"><circle cx="216.8" cy="424.3" r="2.05"/><circle cx="179.4" cy="428.0" r="2.05"/><circle cx="159.3" cy="424.6" r="2.05"/><circle cx="159.4" cy="425.6" r="2.05"/><circle cx="190.5" cy="425.2" r="2.05"/><circle cx="159.3" cy="424.6" r="2.05"/><circle cx="156.9" cy="426.4" r="2.05"/><circle cx="83.2" cy="425.6" r="2.05"/><circle cx="168.4" cy="425.2" r="2.05"/><circle cx="84.3" cy="425.9" r="2.05"/><circle cx="186.0" cy="428.9" r="2.05"/><circle cx="157.0" cy="427.2" r="2.05"/><circle cx="192.0" cy="424.3" r="2.05"/><circle cx="83.5" cy="425.5" r="2.05"/><circle cx="158.2" cy="428.4" r="2.05"/><circle cx="158.2" cy="427.2" r="2.05"/><circle cx="165.9" cy="427.0" r="2.05"/><circle cx="158.6" cy="424.2" r="2.05"/><circle cx="158.3" cy="428.7" r="2.05"/><circle cx="180.7" cy="427.6" r="2.05"/><circle cx="82.3" cy="426.2" r="2.05"/><circle cx="167.8" cy="425.1" r="2.05"/><circle cx="163.8" cy="428.3" r="2.05"/><circle cx="162.1" cy="424.4" r="2.05"/><circle cx="84.9" cy="428.6" r="2.05"/><circle cx="81.1" cy="426.2" r="2.05"/><circle cx="165.5" cy="426.9" r="2.05"/><circle cx="160.3" cy="424.1" r="2.05"/><circle cx="237.3" cy="424.2" r="2.05"/><circle cx="205.7" cy="424.2" r="2.05"/><circle cx="198.3" cy="425.0" r="2.05"/><circle cx="214.4" cy="424.2" r="2.05"/></g>
<g fill="#0018ff" stroke="#0018ff"><circle cx="184.0" cy="423.0" r="2.05"/><circle cx="164.4" cy="423.3" r="2.05"/><circle cx="159.2" cy="421.9" r="2.05"/><circle cx="189.8" cy="419.5" r="2.05"/><circle cx="83.6" cy="420.5" r="2.05"/><circle cx="163.2" cy="422.7" r="2.05"/><circle cx="160.7" cy="422.5" r="2.05"/><circle cx="81.6" cy="420.1" r="2.05"/><circle cx="168.5" cy="421.1" r="2.05"/><circle cx="172.1" cy="421.8" r="2.05"/><circle cx="188.1" cy="420.9" r="2.05"/><circle cx="162.6" cy="423.3" r="2.05"/><circle cx="159.5" cy="421.2" r="2.05"/><circle cx="164.5" cy="423.4" r="2.05"/><circle cx="212.5" cy="423.9" r="2.05"/><circle cx="164.2" cy="420.2" r="2.05"/><circle cx="193.9" cy="418.9" r="2.05"/><circle cx="163.9" cy="421.9" r="2.05"/><circle cx="165.9" cy="421.8" r="2.05"/><circle cx="82.9" cy="421.2" r="2.05"/><circle cx="189.4" cy="423.5" r="2.05"/><circle cx="83.6" cy="419.4" r="2.05"/><circle cx="159.4" cy="421.5" r="2.05"/><circle cx="166.7" cy="420.1" r="2.05"/><circle cx="164.7" cy="422.6" r="2.05"/><circle cx="82.9" cy="419.7" r="2.05"/><circle cx="199.3" cy="420.9" r="2.05"/><circle cx="190.6" cy="420.4" r="2.05"/><circle cx="159.8" cy="422.9" r="2.05"/><circle cx="185.8" cy="422.7" r="2.05"/><circle cx="83.8" cy="423.3" r="2.05"/><circle cx="170.6" cy="421.4" r="2.05"/><circle cx="172.9" cy="420.3" r="2.05"/><circle cx="165.3" cy="418.9" r="2.05"/><circle cx="164.0" cy="419.4" r="2.05"/><circle cx="184.4" cy="421.4" r="2.05"/><circle cx="163.9" cy="420.9" r="2.05"/><circle cx="83.9" cy="422.4" r="2.05"/><circle cx="84.2" cy="421.7" r="2.05"/><circle cx="187.7" cy="422.6" r="2.05"/><circle cx="162.8" cy="419.0" r="2.05"/><circle cx="82.2" cy="423.6" r="2.05"/><circle cx="166.7" cy="423.2" r="2.05"/><circle cx="211.5" cy="421.7" r="2.05"/><circle cx="166.0" cy="420.4" r="2.05"/><circle cx="167.2" cy="420.2" r="2.05"/><circle cx="271.7" cy="420.0" r="2.05"/><circle cx="224.2" cy="419.3" r="2.05"/><circle cx="234.0" cy="420.1" r="2.05"/><circle cx="221.7" cy="423.9" r="2.05"/></g>
<g fill="#0024ff" stroke="#0024ff"><circle cx="179.5" cy="416.7" r="2.05"/><circle cx="165.0" cy="415.7" r="2.05"/><circle cx="169.9" cy="416.3" r="2.05"/><circle cx="175.2" cy="414.3" r="2.05"/><circle cx="84.2" cy="416.0" r="2.05"/><circle cx="170.0" cy="416.1" r="2.05"/><circle cx="83.6" cy="418.9" r="2.05"/><circle cx="170.7" cy="417.9" r="2.05"/><circle cx="178.0" cy="417.7" r="2.05"/><circle cx="169.9" cy="416.6" r="2.05"/><circle cx="175.4" cy="414.3" r="2.05"/><circle cx="178.7" cy="417.7" r="2.05"/><circle cx="184.3" cy="418.6" r="2.05"/><circle cx="81.1" cy="416.5" r="2.05"/><circle cx="81.4" cy="418.8" r="2.05"/><circle cx="168.8" cy="417.6" r="2.05"/><circle cx="171.0" cy="415.0" r="2.05"/><circle cx="83.7" cy="415.1" r="2.05"/><circle cx="174.2" cy="416.8" r="2.05"/><circle cx="171.9" cy="416.9" r="2.05"/><circle cx="172.2" cy="414.9" r="2.05"/><circle cx="162.3" cy="418.5" r="2.05"/><circle cx="187.4" cy="418.8" r="2.05"/><circle cx="163.3" cy="417.1" r="2.05"/><circle cx="199.2" cy="417.0" r="2.05"/><circle cx="166.9" cy="418.0" r="2.05"/><circle cx="177.8" cy="418.9" r="2.05"/><circle cx="84.4" cy="418.9" r="2.05"/><circle cx="171.4" cy="413.9" r="2.05"/><circle cx="82.9" cy="417.3" r="2.05"/><circle cx="167.7" cy="414.5" r="2.05"/><circle cx="174.4" cy="418.6" r="2.05"/><circle cx="168.1" cy="417.9" r="2.05"/><circle cx="169.4" cy="414.1" r="2.05"/><circle cx="192.5" cy="417.6" r="2.05"/><circle cx="220.1" cy="415.2" r="2.05"/><circle cx="232.4" cy="415.2" r="2.05"/><circle cx="214.7" cy="418.5" r="2.05"/></g>
<g fill="#0030ff" stroke="#0030ff"><circle cx="84.4" cy="413.6" r="2.05"/><circle cx="174.3" cy="412.0" r="2.05"/><circle cx="82.9" cy="409.9" r="2.05"/><circle cx="170.9" cy="409.2" r="2.05"/><circle cx="177.6" cy="412.3" r="2.05"/><circle cx="171.0" cy="409.2" r="2.05"/><circle cx="173.6" cy="412.0" r="2.05"/><circle cx="172.7" cy="411.4" r="2.05"/><circle cx="178.3" cy="411.3" r="2.05"/><circle cx="84.9" cy="413.4" r="2.05"/><circle cx="83.5" cy="409.0" r="2.05"/><circle cx="83.7" cy="409.2" r="2.05"/><circle cx="82.9" cy="413.7" r="2.05"/><circle cx="176.8" cy="409.6" r="2.05"/><circle cx="171.3" cy="411.1" r="2.05"/><circle cx="84.8" cy="413.3" r="2.05"/><circle cx="170.9" cy="411.3" r="2.05"/><circle cx="81.5" cy="412.5" r="2.05"/><circle cx="174.9" cy="412.7" r="2.05"/><circle cx="171.0" cy="411.1" r="2.05"/><circle cx="223.9" cy="411.7" r="2.05"/><circle cx="188.2" cy="410.9" r="2.05"/><circle cx="81.4" cy="409.0" r="2.05"/><circle cx="167.5" cy="411.8" r="2.05"/><circle cx="170.3" cy="410.8" r="2.05"/><circle cx="170.5" cy="410.4" r="2.05"/><circle cx="173.3" cy="410.7" r="2.05"/><circle cx="191.4" cy="413.7" r="2.05"/><circle cx="81.9" cy="412.5" r="2.05"/><circle cx="84.5" cy="409.9" r="2.05"/><circle cx="174.6" cy="409.1" r="2.05"/><circle cx="169.4" cy="411.0" r="2.05"/><circle cx="225.8" cy="409.1" r="2.05"/><circle cx="240.6" cy="409.5" r="2.05"/></g>
<g fill="#0038ff" stroke="#0038ff"><circle cx="165.6" cy="407.8" r="2.05"/><circle cx="177.8" cy="407.0" r="2.05"/><circle cx="183.7" cy="406.7" r="2.05"/><circle cx="167.4" cy="405.8" r="2.05"/><circle cx="173.3" cy="407.8" r="2.05"/><circle cx="84.3" cy="403.9" r="2.05"/><circle cx="81.5" cy="404.1" r="2.05"/><circle cx="166.5" cy="408.3" r="2.05"/><circle cx="187.5" cy="405.1" r="2.05"/><circle cx="177.6" cy="405.3" r="2.05"/><circle cx="178.8" cy="407.3" r="2.05"/><circle cx="174.5" cy="406.9" r="2.05"/><circle cx="174.8" cy="408.2" r="2.05"/><circle cx="172.4" cy="404.4" r="2.05"/><circle cx="168.9" cy="408.1" r="2.05"/><circle cx="165.0" cy="405.0" r="2.05"/><circle cx="183.4" cy="408.7" r="2.05"/><circle cx="174.4" cy="406.3" r="2.05"/><circle cx="173.5" cy="405.7" r="2.05"/><circle cx="190.9" cy="405.4" r="2.05"/><circle cx="177.6" cy="406.8" r="2.05"/><circle cx="169.4" cy="405.0" r="2.05"/><circle cx="187.8" cy="404.3" r="2.05"/><circle cx="179.7" cy="407.1" r="2.05"/><circle cx="167.5" cy="405.5" r="2.05"/><circle cx="181.9" cy="404.8" r="2.05"/><circle cx="192.8" cy="405.4" r="2.05"/><circle cx="176.2" cy="404.0" r="2.05"/><circle cx="168.1" cy="404.6" r="2.05"/><circle cx="176.0" cy="405.5" r="2.05"/><circle cx="176.0" cy="404.0" r="2.05"/><circle cx="178.7" cy="408.5" r="2.05"/><circle cx="173.1" cy="408.8" r="2.05"/><circle cx="171.5" cy="408.0" r="2.05"/><circle cx="185.7" cy="405.1" r="2.05"/><circle cx="214.1" cy="407.5" r="2.05"/><circle cx="184.3" cy="408.0" r="2.05"/><circle cx="185.1" cy="408.7" r="2.05"/><circle cx="186.5" cy="407.1" r="2.05"/><circle cx="82.8" cy="408.0" r="2.05"/><circle cx="191.1" cy="404.8" r="2.05"/><circle cx="82.3" cy="404.5" r="2.05"/><circle cx="172.6" cy="405.1" r="2.05"/><circle cx="198.3" cy="405.3" r="2.05"/><circle cx="171.4" cy="405.8" r="2.05"/><circle cx="166.0" cy="405.9" r="2.05"/><circle cx="194.1" cy="407.2" r="2.05"/><circle cx="183.7" cy="405.3" r="2.05"/><circle cx="204.3" cy="406.4" r="2.05"/><circle cx="188.6" cy="405.3" r="2.05"/><circle cx="198.8" cy="404.2" r="2.05"/><circle cx="242.6" cy="406.9" r="2.05"/><circle cx="243.0" cy="406.2" r="2.05"/><circle cx="200.8" cy="405.4" r="2.05"/></g>
<g fill="#0044ff" stroke="#0044ff"><circle cx="188.9" cy="399.4" r="2.05"/><circle cx="183.0" cy="400.1" r="2.05"/><circle cx="171.9" cy="403.0" r="2.05"/><circle cx="171.4" cy="399.6" r="2.05"/><circle cx="183.1" cy="399.8" r="2.05"/><circle cx="172.1" cy="400.9" r="2.05"/><circle cx="188.8" cy="402.6" r="2.05"/><circle cx="166.3" cy="401.0" r="2.05"/><circle cx="173.9" cy="400.1" r="2.05"/><circle cx="211.2" cy="400.6" r="2.05"/><circle cx="179.4" cy="400.8" r="2.05"/><circle cx="179.2" cy="403.8" r="2.05"/><circle cx="183.6" cy="403.7" r="2.05"/><circle cx="84.4" cy="400.1" r="2.05"/><circle cx="175.3" cy="402.3" r="2.05"/><circle cx="186.6" cy="398.9" r="2.05"/><circle cx="174.2" cy="402.3" r="2.05"/><circle cx="167.7" cy="400.1" r="2.05"/><circle cx="84.4" cy="401.5" r="2.05"/><circle cx="172.3" cy="399.4" r="2.05"/><circle cx="173.2" cy="401.9" r="2.05"/><circle cx="188.7" cy="403.0" r="2.05"/><circle cx="81.3" cy="400.1" r="2.05"/><circle cx="173.1" cy="401.8" r="2.05"/><circle cx="84.5" cy="401.5" r="2.05"/><circle cx="204.6" cy="402.0" r="2.05"/><circle cx="196.7" cy="399.9" r="2.05"/><circle cx="174.3" cy="399.4" r="2.05"/><circle cx="188.1" cy="401.2" r="2.05"/><circle cx="83.3" cy="401.5" r="2.05"/><circle cx="189.6" cy="402.8" r="2.05"/><circle cx="173.2" cy="403.3" r="2.05"/><circle cx="178.5" cy="399.5" r="2.05"/><circle cx="199.1" cy="402.2" r="2.05"/><circle cx="193.7" cy="402.7" r="2.05"/><circle cx="178.8" cy="403.4" r="2.05"/><circle cx="180.4" cy="400.2" r="2.05"/><circle cx="185.6" cy="399.5" r="2.05"/><circle cx="199.3" cy="402.2" r="2.05"/><circle cx="197.1" cy="403.6" r="2.05"/><circle cx="172.2" cy="402.6" r="2.05"/><circle cx="184.2" cy="402.4" r="2.05"/><circle cx="207.9" cy="401.0" r="2.05"/><circle cx="188.7" cy="400.8" r="2.05"/><circle cx="182.5" cy="402.7" r="2.05"/><circle cx="214.4" cy="399.6" r="2.05"/><circle cx="206.5" cy="401.0" r="2.05"/></g>
<g fill="#0050ff" stroke="#0050ff"><circle cx="179.4" cy="398.2" r="2.05"/><circle cx="82.9" cy="394.1" r="2.05"/><circle cx="201.6" cy="395.2" r="2.05"/><circle cx="190.7" cy="397.4" r="2.05"/><circle cx="182.0" cy="397.6" r="2.05"/><circle cx="172.4" cy="397.5" r="2.05"/><circle cx="190.5" cy="393.9" r="2.05"/><circle cx="183.8" cy="395.1" r="2.05"/><circle cx="83.6" cy="397.1" r="2.05"/><circle cx="170.5" cy="398.2" r="2.05"/><circle cx="195.2" cy="395.3" r="2.05"/><circle cx="81.9" cy="395.9" r="2.05"/><circle cx="202.9" cy="395.0" r="2.05"/><circle cx="201.4" cy="397.7" r="2.05"/><circle cx="83.4" cy="393.8" r="2.05"/><circle cx="187.1" cy="394.8" r="2.05"/><circle cx="83.4" cy="397.7" r="2.05"/><circle cx="186.7" cy="394.4" r="2.05"/><circle cx="206.1" cy="394.7" r="2.05"/><circle cx="195.2" cy="394.9" r="2.05"/><circle cx="184.1" cy="396.3" r="2.05"/><circle cx="193.2" cy="395.5" r="2.05"/><circle cx="171.2" cy="397.0" r="2.05"/><circle cx="194.5" cy="395.3" r="2.05"/><circle cx="170.1" cy="398.8" r="2.05"/><circle cx="170.3" cy="398.2" r="2.05"/><circle cx="187.3" cy="394.7" r="2.05"/><circle cx="181.0" cy="396.4" r="2.05"/><circle cx="209.6" cy="396.9" r="2.05"/><circle cx="184.8" cy="396.1" r="2.05"/><circle cx="188.3" cy="395.2" r="2.05"/><circle cx="171.0" cy="398.7" r="2.05"/><circle cx="184.9" cy="394.3" r="2.05"/><circle cx="82.8" cy="395.3" r="2.05"/><circle cx="179.2" cy="397.4" r="2.05"/><circle cx="83.6" cy="395.4" r="2.05"/><circle cx="177.2" cy="394.6" r="2.05"/><circle cx="301.8" cy="396.4" r="2.05"/></g>
<g fill="#0058ff" stroke="#0058ff"><circle cx="178.8" cy="390.2" r="2.05"/><circle cx="197.8" cy="390.4" r="2.05"/><circle cx="81.4" cy="393.0" r="2.05"/><circle cx="190.4" cy="390.5" r="2.05"/><circle cx="183.7" cy="393.1" r="2.05"/><circle cx="189.2" cy="392.8" r="2.05"/><circle cx="194.9" cy="392.2" r="2.05"/><circle cx="83.6" cy="391.7" r="2.05"/><circle cx="180.7" cy="389.3" r="2.05"/><circle cx="181.9" cy="388.8" r="2.05"/><circle cx="183.3" cy="393.8" r="2.05"/><circle cx="177.2" cy="390.1" r="2.05"/><circle cx="82.9" cy="390.1" r="2.05"/><circle cx="180.2" cy="390.0" r="2.05"/><circle cx="199.8" cy="391.3" r="2.05"/><circle cx="90.5" cy="389.7" r="2.05"/><circle cx="81.3" cy="390.1" r="2.05"/><circle cx="82.3" cy="390.8" r="2.05"/><circle cx="82.3" cy="392.6" r="2.05"/><circle cx="195.0" cy="392.2" r="2.05"/><circle cx="191.8" cy="389.8" r="2.05"/><circle cx="197.1" cy="393.6" r="2.05"/><circle cx="192.0" cy="391.6" r="2.05"/><circle cx="89.2" cy="389.2" r="2.05"/><circle cx="84.8" cy="391.3" r="2.05"/><circle cx="83.2" cy="390.2" r="2.05"/><circle cx="186.8" cy="393.5" r="2.05"/><circle cx="82.1" cy="393.3" r="2.05"/><circle cx="82.8" cy="388.8" r="2.05"/><circle cx="177.7" cy="390.1" r="2.05"/><circle cx="186.2" cy="393.8" r="2.05"/><circle cx="192.8" cy="392.5" r="2.05"/><circle cx="82.1" cy="391.2" r="2.05"/><circle cx="179.5" cy="392.7" r="2.05"/><circle cx="188.2" cy="388.8" r="2.05"/><circle cx="83.8" cy="391.4" r="2.05"/><circle cx="88.6" cy="389.8" r="2.05"/><circle cx="192.6" cy="393.8" r="2.05"/><circle cx="183.1" cy="392.2" r="2.05"/><circle cx="191.6" cy="392.2" r="2.05"/><circle cx="82.4" cy="390.4" r="2.05"/><circle cx="194.8" cy="390.9" r="2.05"/><circle cx="196.1" cy="390.1" r="2.05"/><circle cx="184.2" cy="390.7" r="2.05"/><circle cx="83.7" cy="392.9" r="2.05"/><circle cx="245.1" cy="389.5" r="2.05"/><circle cx="184.3" cy="390.2" r="2.05"/><circle cx="268.5" cy="389.6" r="2.05"/><circle cx="243.9" cy="392.2" r="2.05"/></g>
<g fill="#0064ff" stroke="#0064ff"><circle cx="83.8" cy="387.2" r="2.05"/><circle cx="86.4" cy="388.7" r="2.05"/><circle cx="191.7" cy="386.3" r="2.05"/><circle cx="196.1" cy="387.1" r="2.05"/><circle cx="91.3" cy="386.4" r="2.05"/><circle cx="219.3" cy="384.2" r="2.05"/><circle cx="83.5" cy="388.0" r="2.05"/><circle cx="86.3" cy="384.1" r="2.05"/><circle cx="188.8" cy="386.9" r="2.05"/><circle cx="180.2" cy="385.7" r="2.05"/><circle cx="84.2" cy="386.8" r="2.05"/><circle cx="96.0" cy="384.7" r="2.05"/><circle cx="89.2" cy="387.3" r="2.05"/><circle cx="91.9" cy="388.2" r="2.05"/><circle cx="185.8" cy="385.7" r="2.05"/><circle cx="91.9" cy="386.7" r="2.05"/><circle cx="81.6" cy="385.6" r="2.05"/><circle cx="81.6" cy="387.9" r="2.05"/><circle cx="183.6" cy="387.9" r="2.05"/><circle cx="214.3" cy="387.4" r="2.05"/><circle cx="185.8" cy="384.0" r="2.05"/><circle cx="199.5" cy="383.9" r="2.05"/><circle cx="88.2" cy="385.3" r="2.05"/><circle cx="85.8" cy="385.6" r="2.05"/><circle cx="96.8" cy="383.9" r="2.05"/><circle cx="87.4" cy="386.9" r="2.05"/><circle cx="189.3" cy="384.8" r="2.05"/><circle cx="179.7" cy="388.7" r="2.05"/><circle cx="94.1" cy="387.9" r="2.05"/><circle cx="190.6" cy="387.6" r="2.05"/><circle cx="180.3" cy="386.7" r="2.05"/><circle cx="200.7" cy="384.6" r="2.05"/><circle cx="94.5" cy="386.9" r="2.05"/><circle cx="81.6" cy="387.5" r="2.05"/><circle cx="87.7" cy="386.4" r="2.05"/><circle cx="85.7" cy="386.5" r="2.05"/><circle cx="85.9" cy="386.2" r="2.05"/><circle cx="83.2" cy="385.8" r="2.05"/><circle cx="193.4" cy="385.6" r="2.05"/><circle cx="190.6" cy="386.0" r="2.05"/><circle cx="191.7" cy="385.3" r="2.05"/><circle cx="194.9" cy="384.5" r="2.05"/><circle cx="95.1" cy="386.0" r="2.05"/><circle cx="196.4" cy="386.8" r="2.05"/><circle cx="191.0" cy="385.3" r="2.05"/><circle cx="82.6" cy="384.1" r="2.05"/><circle cx="214.4" cy="387.2" r="2.05"/><circle cx="184.5" cy="387.3" r="2.05"/><circle cx="85.7" cy="385.9" r="2.05"/><circle cx="94.6" cy="387.6" r="2.05"/><circle cx="91.4" cy="386.5" r="2.05"/><circle cx="94.3" cy="387.7" r="2.05"/><circle cx="93.2" cy="387.8" r="2.05"/><circle cx="83.1" cy="384.3" r="2.05"/><circle cx="90.7" cy="386.2" r="2.05"/><circle cx="247.2" cy="386.3" r="2.05"/><circle cx="221.7" cy="387.9" r="2.05"/></g>
<g fill="#0070ff" stroke="#0070ff"><circle cx="189.2" cy="379.8" r="2.05"/><circle cx="98.3" cy="380.7" r="2.05"/><circle cx="105.1" cy="380.7" r="2.05"/><circle cx="190.4" cy="379.3" r="2.05"/><circle cx="101.5" cy="379.4" r="2.05"/><circle cx="93.6" cy="383.5" r="2.05"/><circle cx="194.8" cy="383.3" r="2.05"/><circle cx="198.7" cy="378.8" r="2.05"/><circle cx="203.4" cy="379.2" r="2.05"/><circle cx="191.2" cy="382.0" r="2.05"/><circle cx="85.1" cy="381.9" r="2.05"/><circle cx="203.1" cy="380.1" r="2.05"/><circle cx="194.6" cy="378.9" r="2.05"/><circle cx="191.4" cy="379.3" r="2.05"/><circle cx="100.0" cy="379.5" r="2.05"/><circle cx="204.1" cy="382.1" r="2.05"/><circle cx="211.6" cy="380.6" r="2.05"/><circle cx="204.3" cy="379.1" r="2.05"/><circle cx="189.9" cy="382.2" r="2.05"/><circle cx="183.8" cy="382.9" r="2.05"/><circle cx="103.3" cy="382.3" r="2.05"/><circle cx="194.4" cy="382.8" r="2.05"/><circle cx="91.5" cy="378.9" r="2.05"/><circle cx="199.3" cy="381.2" r="2.05"/><circle cx="190.5" cy="383.4" r="2.05"/><circle cx="102.3" cy="383.1" r="2.05"/><circle cx="90.7" cy="380.2" r="2.05"/><circle cx="103.5" cy="378.8" r="2.05"/><circle cx="192.3" cy="381.2" r="2.05"/><circle cx="100.8" cy="381.8" r="2.05"/><circle cx="184.6" cy="382.1" r="2.05"/><circle cx="210.4" cy="382.5" r="2.05"/><circle cx="187.8" cy="381.2" r="2.05"/><circle cx="103.1" cy="379.6" r="2.05"/><circle cx="203.8" cy="380.4" r="2.05"/><circle cx="97.2" cy="379.0" r="2.05"/><circle cx="193.3" cy="379.0" r="2.05"/><circle cx="103.1" cy="378.9" r="2.05"/><circle cx="86.6" cy="379.2" r="2.05"/><circle cx="191.5" cy="382.7" r="2.05"/><circle cx="94.2" cy="379.9" r="2.05"/><circle cx="103.2" cy="381.0" r="2.05"/><circle cx="105.3" cy="379.9" r="2.05"/><circle cx="196.1" cy="380.0" r="2.05"/><circle cx="102.6" cy="381.4" r="2.05"/><circle cx="97.0" cy="379.4" r="2.05"/><circle cx="95.4" cy="381.4" r="2.05"/><circle cx="98.1" cy="381.4" r="2.05"/><circle cx="100.7" cy="381.3" r="2.05"/><circle cx="194.1" cy="379.9" r="2.05"/><circle cx="185.2" cy="381.7" r="2.05"/><circle cx="201.1" cy="381.0" r="2.05"/><circle cx="81.1" cy="380.3" r="2.05"/><circle cx="100.2" cy="379.8" r="2.05"/><circle cx="103.5" cy="380.9" r="2.05"/><circle cx="189.8" cy="383.6" r="2.05"/><circle cx="183.6" cy="383.5" r="2.05"/></g>
<g fill="#0078ff" stroke="#0078ff"><circle cx="98.0" cy="375.3" r="2.05"/><circle cx="204.0" cy="374.2" r="2.05"/><circle cx="200.9" cy="378.5" r="2.05"/><circle cx="84.4" cy="375.2" r="2.05"/><circle cx="196.3" cy="374.0" r="2.05"/><circle cx="210.6" cy="377.0" r="2.05"/><circle cx="104.4" cy="376.7" r="2.05"/><circle cx="196.0" cy="375.8" r="2.05"/><circle cx="101.9" cy="378.0" r="2.05"/><circle cx="203.0" cy="374.9" r="2.05"/><circle cx="100.6" cy="375.5" r="2.05"/><circle cx="87.5" cy="374.9" r="2.05"/><circle cx="99.0" cy="374.4" r="2.05"/><circle cx="196.9" cy="376.0" r="2.05"/><circle cx="191.2" cy="375.5" r="2.05"/><circle cx="200.4" cy="373.8" r="2.05"/><circle cx="100.6" cy="374.7" r="2.05"/><circle cx="193.1" cy="374.5" r="2.05"/><circle cx="203.6" cy="374.8" r="2.05"/><circle cx="195.0" cy="377.7" r="2.05"/><circle cx="201.7" cy="373.8" r="2.05"/><circle cx="105.8" cy="376.8" r="2.05"/><circle cx="209.4" cy="375.6" r="2.05"/><circle cx="105.1" cy="376.5" r="2.05"/><circle cx="85.7" cy="375.7" r="2.05"/><circle cx="228.6" cy="373.9" r="2.05"/><circle cx="97.7" cy="375.1" r="2.05"/><circle cx="96.2" cy="376.6" r="2.05"/><circle cx="102.4" cy="376.5" r="2.05"/><circle cx="101.3" cy="375.3" r="2.05"/><circle cx="204.5" cy="376.8" r="2.05"/><circle cx="105.5" cy="376.6" r="2.05"/><circle cx="95.2" cy="378.2" r="2.05"/><circle cx="96.7" cy="378.5" r="2.05"/><circle cx="102.3" cy="375.6" r="2.05"/><circle cx="209.3" cy="374.4" r="2.05"/><circle cx="190.7" cy="377.5" r="2.05"/><circle cx="101.6" cy="375.7" r="2.05"/><circle cx="198.8" cy="374.5" r="2.05"/><circle cx="205.6" cy="374.6" r="2.05"/><circle cx="194.5" cy="377.1" r="2.05"/><circle cx="101.8" cy="376.5" r="2.05"/><circle cx="204.9" cy="374.2" r="2.05"/><circle cx="195.9" cy="375.1" r="2.05"/></g>
<g fill="#0084ff" stroke="#0084ff"><circle cx="200.7" cy="371.0" r="2.05"/><circle cx="98.6" cy="372.4" r="2.05"/><circle cx="103.2" cy="372.1" r="2.05"/><circle cx="196.3" cy="373.3" r="2.05"/><circle cx="99.4" cy="372.0" r="2.05"/><circle cx="102.3" cy="371.1" r="2.05"/><circle cx="208.8" cy="369.2" r="2.05"/><circle cx="97.0" cy="372.6" r="2.05"/><circle cx="90.5" cy="370.7" r="2.05"/><circle cx="87.2" cy="373.7" r="2.05"/><circle cx="92.9" cy="369.9" r="2.05"/><circle cx="105.7" cy="369.4" r="2.05"/><circle cx="93.5" cy="368.8" r="2.05"/><circle cx="207.8" cy="371.4" r="2.05"/><circle cx="202.7" cy="368.8" r="2.05"/><circle cx="95.6" cy="370.1" r="2.05"/><circle cx="205.9" cy="371.8" r="2.05"/><circle cx="200.0" cy="373.3" r="2.05"/><circle cx="98.3" cy="372.2" r="2.05"/><circle cx="198.8" cy="373.7" r="2.05"/><circle cx="85.7" cy="370.1" r="2.05"/><circle cx="205.7" cy="372.4" r="2.05"/><circle cx="204.5" cy="372.5" r="2.05"/><circle cx="106.9" cy="370.6" r="2.05"/><circle cx="97.1" cy="372.6" r="2.05"/><circle cx="94.2" cy="372.9" r="2.05"/><circle cx="99.5" cy="371.5" r="2.05"/><circle cx="204.3" cy="371.4" r="2.05"/><circle cx="106.6" cy="368.8" r="2.05"/><circle cx="88.6" cy="373.2" r="2.05"/><circle cx="100.0" cy="369.7" r="2.05"/><circle cx="87.2" cy="373.0" r="2.05"/><circle cx="102.4" cy="371.9" r="2.05"/><circle cx="100.6" cy="373.2" r="2.05"/><circle cx="96.4" cy="372.8" r="2.05"/><circle cx="96.7" cy="373.6" r="2.05"/><circle cx="200.6" cy="372.9" r="2.05"/><circle cx="204.6" cy="372.1" r="2.05"/><circle cx="203.1" cy="372.6" r="2.05"/><circle cx="198.5" cy="373.6" r="2.05"/><circle cx="205.1" cy="369.5" r="2.05"/><circle cx="201.1" cy="369.3" r="2.05"/><circle cx="207.4" cy="368.8" r="2.05"/><circle cx="99.4" cy="372.7" r="2.05"/><circle cx="208.7" cy="369.3" r="2.05"/><circle cx="204.7" cy="372.7" r="2.05"/><circle cx="96.3" cy="372.0" r="2.05"/><circle cx="85.8" cy="371.6" r="2.05"/><circle cx="103.8" cy="373.0" r="2.05"/><circle cx="101.2" cy="373.4" r="2.05"/><circle cx="104.9" cy="370.2" r="2.05"/><circle cx="204.0" cy="369.2" r="2.05"/><circle cx="311.0" cy="370.9" r="2.05"/><circle cx="262.9" cy="373.5" r="2.05"/><circle cx="249.8" cy="369.9" r="2.05"/></g>
<g fill="#0090ff" stroke="#0090ff"><circle cx="96.1" cy="367.5" r="2.05"/><circle cx="221.1" cy="365.0" r="2.05"/><circle cx="104.7" cy="365.4" r="2.05"/><circle cx="88.3" cy="365.3" r="2.05"/><circle cx="207.9" cy="366.2" r="2.05"/><circle cx="85.1" cy="365.5" r="2.05"/><circle cx="259.8" cy="366.6" r="2.05"/><circle cx="100.9" cy="366.7" r="2.05"/><circle cx="96.7" cy="368.1" r="2.05"/><circle cx="206.5" cy="366.3" r="2.05"/><circle cx="221.3" cy="367.8" r="2.05"/><circle cx="205.8" cy="367.1" r="2.05"/><circle cx="101.6" cy="366.0" r="2.05"/><circle cx="203.2" cy="366.1" r="2.05"/><circle cx="94.0" cy="363.9" r="2.05"/><circle cx="208.1" cy="366.1" r="2.05"/><circle cx="91.0" cy="367.3" r="2.05"/><circle cx="90.2" cy="368.4" r="2.05"/><circle cx="204.3" cy="363.8" r="2.05"/><circle cx="207.6" cy="364.0" r="2.05"/><circle cx="99.7" cy="367.7" r="2.05"/><circle cx="105.9" cy="368.5" r="2.05"/><circle cx="98.6" cy="366.4" r="2.05"/><circle cx="103.3" cy="365.2" r="2.05"/><circle cx="86.2" cy="368.5" r="2.05"/><circle cx="250.9" cy="364.0" r="2.05"/><circle cx="108.4" cy="365.4" r="2.05"/><circle cx="108.6" cy="367.9" r="2.05"/><circle cx="105.7" cy="365.3" r="2.05"/><circle cx="107.3" cy="363.8" r="2.05"/><circle cx="107.0" cy="367.4" r="2.05"/><circle cx="221.1" cy="366.3" r="2.05"/><circle cx="94.8" cy="368.7" r="2.05"/><circle cx="203.4" cy="365.1" r="2.05"/><circle cx="90.8" cy="367.2" r="2.05"/><circle cx="236.5" cy="364.7" r="2.05"/><circle cx="203.4" cy="365.2" r="2.05"/><circle cx="99.9" cy="368.3" r="2.05"/><circle cx="104.5" cy="365.5" r="2.05"/><circle cx="201.2" cy="368.3" r="2.05"/><circle cx="107.2" cy="366.7" r="2.05"/><circle cx="251.0" cy="368.7" r="2.05"/><circle cx="108.5" cy="368.1" r="2.05"/><circle cx="208.6" cy="368.1" r="2.05"/><circle cx="233.6" cy="364.3" r="2.05"/><circle cx="209.2" cy="363.8" r="2.05"/><circle cx="89.7" cy="365.1" r="2.05"/><circle cx="205.4" cy="366.9" r="2.05"/><circle cx="260.3" cy="364.4" r="2.05"/></g>
<g fill="#0098ff" stroke="#0098ff"><circle cx="214.0" cy="360.7" r="2.05"/><circle cx="94.5" cy="360.6" r="2.05"/><circle cx="103.9" cy="360.6" r="2.05"/><circle cx="96.8" cy="360.3" r="2.05"/><circle cx="97.3" cy="359.6" r="2.05"/><circle cx="106.7" cy="359.5" r="2.05"/><circle cx="104.7" cy="360.1" r="2.05"/><circle cx="213.4" cy="360.3" r="2.05"/><circle cx="92.5" cy="362.2" r="2.05"/><circle cx="106.2" cy="362.2" r="2.05"/><circle cx="103.1" cy="362.2" r="2.05"/><circle cx="101.2" cy="359.0" r="2.05"/><circle cx="102.2" cy="361.1" r="2.05"/><circle cx="202.5" cy="360.8" r="2.05"/><circle cx="211.4" cy="362.8" r="2.05"/><circle cx="109.3" cy="358.9" r="2.05"/><circle cx="105.2" cy="362.0" r="2.05"/><circle cx="208.0" cy="363.2" r="2.05"/><circle cx="103.4" cy="361.7" r="2.05"/><circle cx="204.6" cy="358.7" r="2.05"/><circle cx="104.5" cy="361.4" r="2.05"/><circle cx="205.9" cy="358.8" r="2.05"/><circle cx="94.8" cy="358.7" r="2.05"/><circle cx="103.4" cy="362.2" r="2.05"/><circle cx="104.2" cy="359.8" r="2.05"/><circle cx="205.3" cy="363.6" r="2.05"/><circle cx="102.6" cy="359.3" r="2.05"/><circle cx="206.6" cy="361.1" r="2.05"/><circle cx="102.5" cy="362.5" r="2.05"/><circle cx="105.2" cy="360.7" r="2.05"/><circle cx="207.2" cy="358.9" r="2.05"/><circle cx="96.1" cy="363.0" r="2.05"/><circle cx="105.5" cy="361.0" r="2.05"/><circle cx="101.7" cy="359.2" r="2.05"/><circle cx="253.9" cy="363.5" r="2.05"/><circle cx="204.6" cy="359.8" r="2.05"/><circle cx="211.9" cy="360.3" r="2.05"/><circle cx="97.0" cy="360.5" r="2.05"/><circle cx="251.5" cy="362.7" r="2.05"/></g>
<g fill="#00a4ff" stroke="#00a4ff"><circle cx="209.1" cy="354.7" r="2.05"/><circle cx="204.9" cy="355.7" r="2.05"/><circle cx="222.9" cy="356.7" r="2.05"/><circle cx="203.9" cy="357.2" r="2.05"/><circle cx="94.4" cy="354.5" r="2.05"/><circle cx="112.5" cy="356.8" r="2.05"/><circle cx="108.4" cy="357.4" r="2.05"/><circle cx="107.1" cy="356.2" r="2.05"/><circle cx="110.0" cy="357.0" r="2.05"/><circle cx="109.5" cy="356.6" r="2.05"/><circle cx="110.9" cy="355.1" r="2.05"/><circle cx="265.7" cy="358.2" r="2.05"/><circle cx="107.3" cy="356.5" r="2.05"/><circle cx="209.1" cy="354.6" r="2.05"/><circle cx="109.2" cy="357.3" r="2.05"/><circle cx="206.4" cy="355.8" r="2.05"/><circle cx="206.3" cy="355.1" r="2.05"/><circle cx="204.0" cy="357.3" r="2.05"/><circle cx="208.8" cy="354.4" r="2.05"/><circle cx="92.2" cy="355.7" r="2.05"/><circle cx="109.4" cy="355.0" r="2.05"/><circle cx="110.0" cy="354.3" r="2.05"/><circle cx="203.5" cy="357.8" r="2.05"/><circle cx="113.9" cy="355.4" r="2.05"/><circle cx="205.8" cy="355.1" r="2.05"/><circle cx="206.4" cy="355.6" r="2.05"/><circle cx="110.9" cy="357.7" r="2.05"/><circle cx="107.3" cy="356.0" r="2.05"/><circle cx="278.7" cy="355.8" r="2.05"/><circle cx="206.9" cy="355.3" r="2.05"/><circle cx="203.5" cy="355.9" r="2.05"/><circle cx="213.4" cy="354.1" r="2.05"/><circle cx="113.8" cy="356.1" r="2.05"/><circle cx="207.2" cy="358.0" r="2.05"/><circle cx="226.7" cy="358.4" r="2.05"/><circle cx="98.7" cy="357.3" r="2.05"/><circle cx="108.9" cy="355.7" r="2.05"/><circle cx="110.2" cy="357.2" r="2.05"/><circle cx="112.6" cy="354.9" r="2.05"/><circle cx="203.5" cy="357.4" r="2.05"/><circle cx="278.6" cy="353.9" r="2.05"/><circle cx="271.0" cy="354.5" r="2.05"/><circle cx="264.5" cy="354.5" r="2.05"/></g>
<g fill="#00b0ff" stroke="#00b0ff"><circle cx="114.2" cy="349.7" r="2.05"/><circle cx="96.6" cy="353.1" r="2.05"/><circle cx="110.5" cy="353.4" r="2.05"/><circle cx="108.1" cy="352.2" r="2.05"/><circle cx="116.5" cy="353.2" r="2.05"/><circle cx="102.0" cy="349.5" r="2.05"/><circle cx="212.4" cy="352.3" r="2.05"/><circle cx="210.8" cy="351.2" r="2.05"/><circle cx="95.1" cy="349.7" r="2.05"/><circle cx="107.1" cy="351.0" r="2.05"/><circle cx="217.4" cy="352.3" r="2.05"/><circle cx="116.3" cy="351.7" r="2.05"/><circle cx="100.7" cy="350.2" r="2.05"/><circle cx="222.4" cy="352.3" r="2.05"/><circle cx="110.1" cy="353.2" r="2.05"/><circle cx="113.6" cy="349.1" r="2.05"/><circle cx="212.4" cy="351.3" r="2.05"/><circle cx="114.4" cy="351.2" r="2.05"/><circle cx="211.8" cy="349.8" r="2.05"/><circle cx="113.3" cy="350.8" r="2.05"/><circle cx="91.2" cy="352.5" r="2.05"/><circle cx="115.9" cy="351.9" r="2.05"/><circle cx="232.4" cy="350.8" r="2.05"/><circle cx="88.6" cy="352.7" r="2.05"/><circle cx="253.7" cy="353.2" r="2.05"/><circle cx="216.0" cy="350.0" r="2.05"/><circle cx="116.3" cy="353.4" r="2.05"/><circle cx="212.7" cy="350.1" r="2.05"/><circle cx="218.7" cy="349.3" r="2.05"/><circle cx="115.4" cy="352.0" r="2.05"/><circle cx="98.0" cy="353.0" r="2.05"/><circle cx="90.8" cy="350.2" r="2.05"/><circle cx="207.3" cy="352.2" r="2.05"/><circle cx="207.9" cy="351.9" r="2.05"/><circle cx="106.2" cy="351.8" r="2.05"/><circle cx="114.5" cy="353.5" r="2.05"/><circle cx="117.2" cy="353.0" r="2.05"/><circle cx="115.9" cy="349.8" r="2.05"/><circle cx="213.0" cy="349.2" r="2.05"/><circle cx="211.9" cy="350.5" r="2.05"/><circle cx="210.1" cy="350.3" r="2.05"/><circle cx="105.0" cy="349.4" r="2.05"/><circle cx="220.3" cy="352.4" r="2.05"/><circle cx="98.0" cy="349.3" r="2.05"/><circle cx="213.1" cy="349.3" r="2.05"/><circle cx="106.1" cy="350.6" r="2.05"/><circle cx="99.6" cy="350.5" r="2.05"/><circle cx="213.3" cy="349.4" r="2.05"/><circle cx="209.7" cy="352.9" r="2.05"/><circle cx="213.3" cy="353.0" r="2.05"/><circle cx="209.0" cy="349.6" r="2.05"/><circle cx="116.0" cy="352.6" r="2.05"/><circle cx="113.2" cy="350.3" r="2.05"/><circle cx="107.7" cy="351.7" r="2.05"/><circle cx="210.2" cy="350.5" r="2.05"/><circle cx="110.2" cy="351.7" r="2.05"/><circle cx="105.8" cy="349.9" r="2.05"/><circle cx="110.7" cy="352.1" r="2.05"/><circle cx="102.6" cy="353.2" r="2.05"/><circle cx="96.0" cy="352.3" r="2.05"/><circle cx="110.8" cy="349.2" r="2.05"/><circle cx="246.5" cy="351.3" r="2.05"/></g>
<g fill="#00b8ff" stroke="#00b8ff"><circle cx="103.9" cy="344.5" r="2.05"/><circle cx="208.9" cy="345.5" r="2.05"/><circle cx="113.0" cy="347.7" r="2.05"/><circle cx="110.4" cy="348.3" r="2.05"/><circle cx="114.9" cy="344.5" r="2.05"/><circle cx="99.6" cy="345.6" r="2.05"/><circle cx="82.2" cy="344.3" r="2.05"/><circle cx="209.3" cy="346.4" r="2.05"/><circle cx="97.5" cy="347.3" r="2.05"/><circle cx="235.5" cy="347.9" r="2.05"/><circle cx="113.4" cy="348.0" r="2.05"/><circle cx="243.1" cy="343.8" r="2.05"/><circle cx="239.3" cy="343.8" r="2.05"/><circle cx="236.9" cy="348.6" r="2.05"/><circle cx="110.7" cy="346.3" r="2.05"/><circle cx="98.2" cy="344.0" r="2.05"/><circle cx="236.9" cy="344.1" r="2.05"/><circle cx="108.1" cy="344.4" r="2.05"/><circle cx="215.9" cy="344.9" r="2.05"/><circle cx="119.0" cy="344.5" r="2.05"/><circle cx="119.9" cy="344.7" r="2.05"/><circle cx="214.3" cy="346.2" r="2.05"/><circle cx="100.3" cy="346.1" r="2.05"/><circle cx="107.0" cy="345.8" r="2.05"/><circle cx="211.6" cy="347.9" r="2.05"/><circle cx="213.5" cy="346.1" r="2.05"/><circle cx="112.9" cy="343.6" r="2.05"/><circle cx="118.0" cy="344.5" r="2.05"/><circle cx="121.4" cy="343.9" r="2.05"/><circle cx="211.3" cy="348.2" r="2.05"/><circle cx="214.5" cy="347.0" r="2.05"/><circle cx="210.3" cy="347.3" r="2.05"/><circle cx="104.5" cy="345.3" r="2.05"/><circle cx="212.1" cy="348.3" r="2.05"/><circle cx="117.8" cy="343.7" r="2.05"/><circle cx="113.9" cy="347.4" r="2.05"/><circle cx="112.5" cy="348.1" r="2.05"/><circle cx="119.7" cy="344.4" r="2.05"/><circle cx="95.8" cy="346.3" r="2.05"/><circle cx="246.4" cy="347.7" r="2.05"/><circle cx="112.9" cy="348.5" r="2.05"/><circle cx="108.1" cy="346.0" r="2.05"/><circle cx="207.3" cy="343.7" r="2.05"/><circle cx="105.7" cy="345.1" r="2.05"/><circle cx="107.3" cy="346.7" r="2.05"/><circle cx="120.6" cy="344.2" r="2.05"/><circle cx="101.7" cy="348.4" r="2.05"/><circle cx="118.3" cy="344.2" r="2.05"/><circle cx="108.4" cy="347.8" r="2.05"/><circle cx="362.7" cy="347.3" r="2.05"/><circle cx="258.0" cy="346.4" r="2.05"/></g>
<g fill="#00c4ff" stroke="#00c4ff"><circle cx="111.7" cy="341.4" r="2.05"/><circle cx="119.0" cy="342.5" r="2.05"/><circle cx="112.7" cy="342.3" r="2.05"/><circle cx="207.7" cy="341.3" r="2.05"/><circle cx="211.3" cy="338.9" r="2.05"/><circle cx="208.9" cy="341.5" r="2.05"/><circle cx="108.9" cy="343.1" r="2.05"/><circle cx="212.9" cy="340.2" r="2.05"/><circle cx="215.5" cy="342.1" r="2.05"/><circle cx="118.4" cy="341.3" r="2.05"/><circle cx="116.3" cy="340.8" r="2.05"/><circle cx="112.2" cy="338.8" r="2.05"/><circle cx="116.8" cy="342.7" r="2.05"/><circle cx="114.5" cy="340.7" r="2.05"/><circle cx="117.0" cy="340.4" r="2.05"/><circle cx="210.6" cy="340.8" r="2.05"/><circle cx="209.8" cy="342.0" r="2.05"/><circle cx="116.0" cy="340.8" r="2.05"/><circle cx="211.4" cy="343.1" r="2.05"/><circle cx="115.8" cy="343.5" r="2.05"/><circle cx="122.5" cy="339.8" r="2.05"/><circle cx="210.2" cy="343.0" r="2.05"/><circle cx="116.4" cy="341.4" r="2.05"/><circle cx="220.6" cy="341.3" r="2.05"/><circle cx="105.0" cy="339.0" r="2.05"/><circle cx="114.5" cy="340.8" r="2.05"/><circle cx="115.2" cy="342.8" r="2.05"/><circle cx="249.9" cy="341.1" r="2.05"/><circle cx="214.6" cy="341.3" r="2.05"/><circle cx="121.0" cy="341.3" r="2.05"/><circle cx="116.7" cy="343.2" r="2.05"/><circle cx="120.7" cy="340.3" r="2.05"/><circle cx="244.1" cy="341.0" r="2.05"/><circle cx="234.7" cy="341.6" r="2.05"/><circle cx="121.5" cy="341.8" r="2.05"/><circle cx="208.1" cy="343.2" r="2.05"/><circle cx="209.7" cy="342.1" r="2.05"/><circle cx="217.8" cy="343.4" r="2.05"/><circle cx="102.4" cy="343.5" r="2.05"/><circle cx="123.0" cy="341.3" r="2.05"/><circle cx="210.6" cy="341.2" r="2.05"/><circle cx="223.5" cy="341.8" r="2.05"/><circle cx="106.2" cy="342.5" r="2.05"/><circle cx="122.1" cy="341.1" r="2.05"/><circle cx="219.9" cy="340.1" r="2.05"/><circle cx="249.6" cy="341.1" r="2.05"/><circle cx="280.9" cy="343.0" r="2.05"/><circle cx="264.5" cy="339.8" r="2.05"/></g>
<g fill="#00d0ff" stroke="#00d0ff"><circle cx="122.6" cy="337.0" r="2.05"/><circle cx="210.2" cy="338.3" r="2.05"/><circle cx="217.7" cy="335.2" r="2.05"/><circle cx="122.2" cy="336.0" r="2.05"/><circle cx="119.8" cy="338.0" r="2.05"/><circle cx="259.7" cy="334.2" r="2.05"/><circle cx="119.9" cy="337.6" r="2.05"/><circle cx="123.7" cy="337.8" r="2.05"/><circle cx="114.2" cy="336.8" r="2.05"/><circle cx="229.5" cy="337.5" r="2.05"/><circle cx="240.0" cy="333.7" r="2.05"/><circle cx="212.8" cy="338.1" r="2.05"/><circle cx="237.4" cy="336.6" r="2.05"/><circle cx="209.1" cy="336.1" r="2.05"/><circle cx="212.9" cy="337.1" r="2.05"/><circle cx="229.5" cy="335.2" r="2.05"/><circle cx="220.6" cy="338.1" r="2.05"/><circle cx="124.4" cy="336.4" r="2.05"/><circle cx="122.7" cy="337.7" r="2.05"/><circle cx="117.4" cy="337.6" r="2.05"/><circle cx="114.2" cy="337.5" r="2.05"/><circle cx="118.6" cy="337.9" r="2.05"/><circle cx="210.3" cy="338.6" r="2.05"/><circle cx="217.1" cy="337.8" r="2.05"/><circle cx="246.4" cy="336.7" r="2.05"/><circle cx="110.7" cy="338.0" r="2.05"/><circle cx="214.0" cy="338.2" r="2.05"/><circle cx="214.7" cy="336.2" r="2.05"/><circle cx="112.4" cy="336.4" r="2.05"/><circle cx="212.7" cy="336.7" r="2.05"/><circle cx="117.2" cy="333.7" r="2.05"/><circle cx="122.7" cy="335.0" r="2.05"/><circle cx="215.7" cy="337.1" r="2.05"/><circle cx="224.1" cy="338.5" r="2.05"/><circle cx="212.9" cy="337.3" r="2.05"/><circle cx="213.0" cy="334.5" r="2.05"/><circle cx="116.6" cy="333.8" r="2.05"/><circle cx="121.4" cy="338.5" r="2.05"/><circle cx="119.2" cy="334.9" r="2.05"/><circle cx="216.0" cy="335.4" r="2.05"/><circle cx="238.2" cy="336.6" r="2.05"/></g>
<g fill="#00d8ff" stroke="#00d8ff"><circle cx="211.7" cy="332.7" r="2.05"/><circle cx="212.4" cy="331.0" r="2.05"/><circle cx="124.3" cy="331.4" r="2.05"/><circle cx="115.9" cy="331.0" r="2.05"/><circle cx="122.4" cy="330.7" r="2.05"/><circle cx="214.3" cy="329.0" r="2.05"/><circle cx="95.3" cy="329.4" r="2.05"/><circle cx="120.6" cy="329.5" r="2.05"/><circle cx="211.9" cy="331.0" r="2.05"/><circle cx="245.8" cy="331.4" r="2.05"/><circle cx="210.4" cy="332.5" r="2.05"/><circle cx="122.1" cy="328.7" r="2.05"/><circle cx="124.7" cy="329.3" r="2.05"/><circle cx="242.5" cy="331.7" r="2.05"/><circle cx="123.8" cy="332.2" r="2.05"/><circle cx="220.8" cy="331.7" r="2.05"/><circle cx="124.0" cy="329.2" r="2.05"/><circle cx="214.3" cy="333.3" r="2.05"/><circle cx="218.7" cy="329.1" r="2.05"/><circle cx="220.7" cy="331.4" r="2.05"/><circle cx="122.7" cy="328.7" r="2.05"/><circle cx="211.5" cy="332.3" r="2.05"/><circle cx="108.5" cy="329.5" r="2.05"/><circle cx="122.6" cy="332.1" r="2.05"/><circle cx="232.3" cy="332.9" r="2.05"/><circle cx="221.0" cy="330.4" r="2.05"/><circle cx="211.4" cy="331.7" r="2.05"/><circle cx="123.9" cy="332.4" r="2.05"/><circle cx="116.9" cy="328.9" r="2.05"/><circle cx="124.6" cy="330.5" r="2.05"/><circle cx="110.0" cy="332.6" r="2.05"/><circle cx="225.4" cy="328.6" r="2.05"/><circle cx="88.9" cy="330.0" r="2.05"/><circle cx="121.4" cy="328.9" r="2.05"/><circle cx="124.5" cy="330.7" r="2.05"/><circle cx="223.7" cy="329.1" r="2.05"/><circle cx="320.2" cy="331.6" r="2.05"/><circle cx="351.3" cy="330.0" r="2.05"/></g>
<g fill="#00e4f8" stroke="#00e4f8"><circle cx="119.1" cy="328.0" r="2.05"/><circle cx="105.0" cy="325.8" r="2.05"/><circle cx="120.2" cy="326.0" r="2.05"/><circle cx="114.1" cy="328.3" r="2.05"/><circle cx="119.8" cy="326.1" r="2.05"/><circle cx="215.0" cy="325.0" r="2.05"/><circle cx="95.2" cy="328.2" r="2.05"/><circle cx="251.6" cy="326.4" r="2.05"/><circle cx="261.6" cy="323.6" r="2.05"/><circle cx="212.6" cy="326.2" r="2.05"/><circle cx="236.8" cy="326.5" r="2.05"/><circle cx="242.6" cy="326.0" r="2.05"/><circle cx="214.8" cy="324.8" r="2.05"/><circle cx="239.9" cy="327.2" r="2.05"/><circle cx="242.5" cy="327.2" r="2.05"/><circle cx="224.7" cy="327.7" r="2.05"/><circle cx="245.0" cy="323.9" r="2.05"/><circle cx="121.4" cy="326.9" r="2.05"/><circle cx="122.5" cy="324.9" r="2.05"/><circle cx="215.1" cy="324.7" r="2.05"/><circle cx="287.4" cy="326.9" r="2.05"/><circle cx="217.2" cy="327.3" r="2.05"/><circle cx="109.1" cy="325.6" r="2.05"/><circle cx="113.8" cy="326.1" r="2.05"/><circle cx="126.5" cy="323.7" r="2.05"/><circle cx="217.6" cy="328.3" r="2.05"/><circle cx="213.4" cy="327.0" r="2.05"/><circle cx="213.6" cy="324.1" r="2.05"/><circle cx="213.9" cy="327.7" r="2.05"/><circle cx="126.0" cy="324.7" r="2.05"/><circle cx="216.1" cy="324.9" r="2.05"/><circle cx="254.1" cy="325.3" r="2.05"/><circle cx="260.4" cy="324.7" r="2.05"/><circle cx="125.1" cy="323.6" r="2.05"/><circle cx="114.5" cy="326.4" r="2.05"/><circle cx="214.8" cy="327.3" r="2.05"/><circle cx="121.5" cy="325.8" r="2.05"/><circle cx="214.9" cy="323.6" r="2.05"/><circle cx="125.6" cy="324.2" r="2.05"/><circle cx="277.3" cy="323.8" r="2.05"/></g>
<g fill="#09f0ee" stroke="#09f0ee"><circle cx="134.3" cy="320.9" r="2.05"/><circle cx="245.7" cy="322.1" r="2.05"/><circle cx="126.5" cy="320.9" r="2.05"/><circle cx="218.1" cy="320.8" r="2.05"/><circle cx="245.5" cy="318.8" r="2.05"/><circle cx="109.6" cy="322.9" r="2.05"/><circle cx="124.5" cy="319.6" r="2.05"/><circle cx="215.4" cy="322.5" r="2.05"/><circle cx="216.3" cy="321.1" r="2.05"/><circle cx="221.3" cy="320.9" r="2.05"/><circle cx="218.4" cy="320.4" r="2.05"/><circle cx="95.9" cy="320.2" r="2.05"/><circle cx="96.5" cy="323.4" r="2.05"/><circle cx="238.0" cy="322.1" r="2.05"/><circle cx="216.6" cy="319.5" r="2.05"/><circle cx="217.0" cy="321.9" r="2.05"/><circle cx="113.6" cy="321.7" r="2.05"/><circle cx="126.4" cy="321.2" r="2.05"/><circle cx="114.0" cy="321.8" r="2.05"/><circle cx="124.8" cy="321.1" r="2.05"/><circle cx="125.5" cy="322.7" r="2.05"/><circle cx="267.8" cy="318.9" r="2.05"/><circle cx="215.2" cy="322.8" r="2.05"/><circle cx="119.1" cy="319.0" r="2.05"/><circle cx="126.3" cy="319.4" r="2.05"/><circle cx="217.5" cy="319.0" r="2.05"/><circle cx="215.2" cy="321.5" r="2.05"/><circle cx="123.1" cy="321.8" r="2.05"/><circle cx="221.7" cy="323.4" r="2.05"/><circle cx="235.1" cy="323.4" r="2.05"/><circle cx="263.1" cy="320.4" r="2.05"/><circle cx="125.8" cy="320.7" r="2.05"/><circle cx="228.5" cy="322.1" r="2.05"/><circle cx="126.8" cy="322.9" r="2.05"/><circle cx="114.0" cy="320.5" r="2.05"/><circle cx="134.0" cy="320.2" r="2.05"/><circle cx="123.6" cy="322.4" r="2.05"/><circle cx="125.0" cy="321.1" r="2.05"/><circle cx="251.8" cy="321.3" r="2.05"/><circle cx="94.7" cy="321.9" r="2.05"/><circle cx="224.1" cy="323.0" r="2.05"/><circle cx="262.4" cy="319.9" r="2.05"/><circle cx="122.4" cy="321.7" r="2.05"/><circle cx="214.8" cy="323.4" r="2.05"/><circle cx="131.6" cy="321.3" r="2.05"/></g>
<g fill="#0ff8e7" stroke="#0ff8e7"><circle cx="129.0" cy="317.3" r="2.05"/><circle cx="217.3" cy="314.1" r="2.05"/><circle cx="227.6" cy="317.3" r="2.05"/><circle cx="262.2" cy="315.5" r="2.05"/><circle cx="231.9" cy="315.2" r="2.05"/><circle cx="137.4" cy="318.5" r="2.05"/><circle cx="241.9" cy="313.5" r="2.05"/><circle cx="237.8" cy="314.0" r="2.05"/><circle cx="133.5" cy="315.1" r="2.05"/><circle cx="219.5" cy="318.1" r="2.05"/><circle cx="267.3" cy="314.9" r="2.05"/><circle cx="266.9" cy="315.6" r="2.05"/><circle cx="242.8" cy="315.2" r="2.05"/><circle cx="111.8" cy="317.3" r="2.05"/><circle cx="216.0" cy="317.1" r="2.05"/><circle cx="134.2" cy="313.5" r="2.05"/><circle cx="214.7" cy="316.7" r="2.05"/><circle cx="135.5" cy="316.0" r="2.05"/><circle cx="245.1" cy="317.1" r="2.05"/><circle cx="138.5" cy="314.4" r="2.05"/><circle cx="236.7" cy="314.6" r="2.05"/><circle cx="136.5" cy="316.5" r="2.05"/><circle cx="127.6" cy="317.9" r="2.05"/><circle cx="214.3" cy="314.6" r="2.05"/><circle cx="129.9" cy="318.2" r="2.05"/><circle cx="136.4" cy="315.4" r="2.05"/><circle cx="214.3" cy="316.2" r="2.05"/><circle cx="219.6" cy="314.4" r="2.05"/><circle cx="220.4" cy="318.0" r="2.05"/><circle cx="227.2" cy="316.9" r="2.05"/><circle cx="215.3" cy="317.0" r="2.05"/><circle cx="131.6" cy="315.2" r="2.05"/><circle cx="217.6" cy="313.7" r="2.05"/><circle cx="214.2" cy="316.2" r="2.05"/><circle cx="123.1" cy="318.3" r="2.05"/><circle cx="103.0" cy="316.2" r="2.05"/><circle cx="104.3" cy="316.5" r="2.05"/><circle cx="126.1" cy="316.4" r="2.05"/><circle cx="257.7" cy="315.9" r="2.05"/><circle cx="135.6" cy="315.2" r="2.05"/><circle cx="221.3" cy="316.3" r="2.05"/><circle cx="133.0" cy="314.2" r="2.05"/><circle cx="214.5" cy="316.3" r="2.05"/><circle cx="136.3" cy="317.4" r="2.05"/></g>
<g fill="#19ffde" stroke="#19ffde"><circle cx="227.3" cy="309.4" r="2.05"/><circle cx="252.2" cy="309.9" r="2.05"/><circle cx="127.3" cy="312.1" r="2.05"/><circle cx="124.6" cy="309.0" r="2.05"/><circle cx="134.3" cy="309.1" r="2.05"/><circle cx="138.9" cy="310.9" r="2.05"/><circle cx="136.5" cy="312.8" r="2.05"/><circle cx="139.6" cy="313.3" r="2.05"/><circle cx="233.7" cy="311.9" r="2.05"/><circle cx="224.5" cy="309.2" r="2.05"/><circle cx="226.8" cy="308.8" r="2.05"/><circle cx="125.9" cy="312.7" r="2.05"/><circle cx="118.3" cy="309.9" r="2.05"/><circle cx="135.1" cy="309.9" r="2.05"/><circle cx="214.4" cy="312.0" r="2.05"/><circle cx="140.6" cy="308.6" r="2.05"/><circle cx="230.7" cy="310.5" r="2.05"/><circle cx="231.0" cy="311.3" r="2.05"/><circle cx="136.0" cy="310.8" r="2.05"/><circle cx="136.0" cy="312.9" r="2.05"/><circle cx="220.9" cy="308.5" r="2.05"/><circle cx="217.1" cy="312.9" r="2.05"/><circle cx="230.5" cy="312.8" r="2.05"/><circle cx="220.2" cy="308.8" r="2.05"/><circle cx="126.0" cy="310.0" r="2.05"/><circle cx="126.1" cy="312.0" r="2.05"/><circle cx="122.2" cy="311.8" r="2.05"/><circle cx="218.4" cy="313.2" r="2.05"/><circle cx="235.4" cy="310.0" r="2.05"/><circle cx="230.2" cy="312.7" r="2.05"/><circle cx="235.4" cy="309.1" r="2.05"/><circle cx="131.7" cy="310.5" r="2.05"/><circle cx="216.5" cy="311.1" r="2.05"/><circle cx="293.7" cy="312.0" r="2.05"/><circle cx="214.0" cy="313.0" r="2.05"/><circle cx="135.2" cy="312.0" r="2.05"/><circle cx="119.7" cy="309.8" r="2.05"/><circle cx="126.1" cy="308.8" r="2.05"/><circle cx="139.5" cy="310.6" r="2.05"/><circle cx="138.6" cy="309.5" r="2.05"/><circle cx="125.9" cy="312.0" r="2.05"/><circle cx="138.8" cy="309.3" r="2.05"/><circle cx="233.8" cy="312.8" r="2.05"/><circle cx="138.4" cy="311.7" r="2.05"/><circle cx="263.3" cy="308.7" r="2.05"/><circle cx="238.1" cy="310.1" r="2.05"/><circle cx="135.5" cy="313.5" r="2.05"/><circle cx="132.5" cy="308.5" r="2.05"/><circle cx="137.8" cy="309.0" r="2.05"/><circle cx="217.4" cy="309.9" r="2.05"/><circle cx="127.0" cy="310.4" r="2.05"/><circle cx="124.1" cy="311.7" r="2.05"/><circle cx="129.1" cy="313.1" r="2.05"/><circle cx="232.8" cy="312.9" r="2.05"/></g>
<g fill="#23ffd4" stroke="#23ffd4"><circle cx="238.9" cy="306.5" r="2.05"/><circle cx="220.2" cy="306.2" r="2.05"/><circle cx="223.7" cy="304.4" r="2.05"/><circle cx="135.4" cy="306.2" r="2.05"/><circle cx="224.9" cy="308.1" r="2.05"/><circle cx="250.1" cy="307.6" r="2.05"/><circle cx="139.9" cy="303.8" r="2.05"/><circle cx="140.3" cy="306.5" r="2.05"/><circle cx="247.9" cy="303.6" r="2.05"/><circle cx="225.1" cy="306.7" r="2.05"/><circle cx="224.4" cy="308.0" r="2.05"/><circle cx="139.2" cy="306.0" r="2.05"/><circle cx="139.6" cy="307.7" r="2.05"/><circle cx="221.2" cy="303.5" r="2.05"/><circle cx="222.4" cy="305.9" r="2.05"/><circle cx="220.7" cy="306.0" r="2.05"/><circle cx="137.6" cy="308.1" r="2.05"/><circle cx="136.7" cy="307.3" r="2.05"/><circle cx="242.0" cy="305.2" r="2.05"/><circle cx="226.8" cy="304.1" r="2.05"/><circle cx="137.2" cy="306.4" r="2.05"/><circle cx="140.3" cy="306.9" r="2.05"/><circle cx="223.0" cy="304.5" r="2.05"/><circle cx="220.7" cy="307.4" r="2.05"/><circle cx="223.0" cy="307.8" r="2.05"/><circle cx="228.0" cy="306.8" r="2.05"/><circle cx="131.7" cy="303.8" r="2.05"/><circle cx="135.6" cy="303.7" r="2.05"/><circle cx="226.5" cy="306.0" r="2.05"/><circle cx="292.1" cy="303.6" r="2.05"/><circle cx="224.8" cy="305.0" r="2.05"/><circle cx="137.8" cy="304.1" r="2.05"/><circle cx="137.6" cy="305.3" r="2.05"/><circle cx="250.0" cy="304.5" r="2.05"/><circle cx="244.7" cy="307.7" r="2.05"/><circle cx="135.2" cy="306.3" r="2.05"/><circle cx="140.9" cy="306.5" r="2.05"/><circle cx="138.8" cy="307.8" r="2.05"/><circle cx="267.4" cy="305.7" r="2.05"/></g>
<g fill="#29ffce" stroke="#29ffce"><circle cx="137.8" cy="302.6" r="2.05"/><circle cx="138.2" cy="302.7" r="2.05"/><circle cx="248.4" cy="303.3" r="2.05"/><circle cx="222.5" cy="303.0" r="2.05"/><circle cx="261.1" cy="299.0" r="2.05"/><circle cx="264.9" cy="298.5" r="2.05"/><circle cx="133.5" cy="302.0" r="2.05"/><circle cx="226.6" cy="301.1" r="2.05"/><circle cx="140.6" cy="298.8" r="2.05"/><circle cx="222.7" cy="302.7" r="2.05"/><circle cx="232.4" cy="300.8" r="2.05"/><circle cx="229.3" cy="300.7" r="2.05"/><circle cx="233.8" cy="303.0" r="2.05"/><circle cx="134.0" cy="300.0" r="2.05"/><circle cx="136.2" cy="302.1" r="2.05"/><circle cx="134.8" cy="298.5" r="2.05"/><circle cx="293.5" cy="299.2" r="2.05"/><circle cx="138.2" cy="302.8" r="2.05"/><circle cx="233.1" cy="302.9" r="2.05"/><circle cx="258.4" cy="301.8" r="2.05"/><circle cx="135.8" cy="302.8" r="2.05"/><circle cx="139.6" cy="303.2" r="2.05"/><circle cx="137.7" cy="301.5" r="2.05"/><circle cx="251.6" cy="302.0" r="2.05"/><circle cx="260.7" cy="298.6" r="2.05"/><circle cx="242.3" cy="301.5" r="2.05"/><circle cx="248.3" cy="302.8" r="2.05"/><circle cx="221.8" cy="300.7" r="2.05"/><circle cx="224.0" cy="301.1" r="2.05"/><circle cx="141.6" cy="300.4" r="2.05"/><circle cx="137.4" cy="303.0" r="2.05"/><circle cx="267.1" cy="302.7" r="2.05"/><circle cx="136.1" cy="301.1" r="2.05"/><circle cx="223.1" cy="301.7" r="2.05"/><circle cx="227.4" cy="300.2" r="2.05"/><circle cx="220.5" cy="302.4" r="2.05"/><circle cx="138.0" cy="300.1" r="2.05"/><circle cx="139.8" cy="300.3" r="2.05"/><circle cx="86.5" cy="301.0" r="2.05"/><circle cx="93.7" cy="303.4" r="2.05"/></g>
<g fill="#33ffc4" stroke="#33ffc4"><circle cx="258.9" cy="298.3" r="2.05"/><circle cx="129.2" cy="293.7" r="2.05"/><circle cx="252.0" cy="298.2" r="2.05"/><circle cx="222.6" cy="297.1" r="2.05"/><circle cx="138.6" cy="293.5" r="2.05"/><circle cx="225.1" cy="297.8" r="2.05"/><circle cx="128.6" cy="294.7" r="2.05"/><circle cx="237.1" cy="293.7" r="2.05"/><circle cx="137.6" cy="294.4" r="2.05"/><circle cx="252.9" cy="297.4" r="2.05"/><circle cx="267.5" cy="295.7" r="2.05"/><circle cx="329.8" cy="296.4" r="2.05"/><circle cx="237.0" cy="295.5" r="2.05"/><circle cx="235.9" cy="293.5" r="2.05"/><circle cx="138.4" cy="297.3" r="2.05"/><circle cx="283.3" cy="295.5" r="2.05"/><circle cx="138.4" cy="296.4" r="2.05"/><circle cx="246.2" cy="296.7" r="2.05"/><circle cx="142.6" cy="294.7" r="2.05"/><circle cx="224.2" cy="298.0" r="2.05"/><circle cx="270.5" cy="294.3" r="2.05"/><circle cx="239.8" cy="296.7" r="2.05"/><circle cx="224.7" cy="295.7" r="2.05"/><circle cx="138.9" cy="294.5" r="2.05"/><circle cx="237.0" cy="294.6" r="2.05"/><circle cx="240.0" cy="295.3" r="2.05"/><circle cx="230.9" cy="296.3" r="2.05"/><circle cx="225.7" cy="298.3" r="2.05"/><circle cx="234.1" cy="296.7" r="2.05"/><circle cx="139.9" cy="295.9" r="2.05"/><circle cx="140.3" cy="293.5" r="2.05"/><circle cx="271.7" cy="293.8" r="2.05"/><circle cx="226.7" cy="296.0" r="2.05"/><circle cx="246.8" cy="294.5" r="2.05"/><circle cx="222.5" cy="297.5" r="2.05"/><circle cx="253.5" cy="294.0" r="2.05"/><circle cx="139.4" cy="294.0" r="2.05"/><circle cx="136.3" cy="297.0" r="2.05"/><circle cx="137.1" cy="297.1" r="2.05"/><circle cx="287.6" cy="293.6" r="2.05"/><circle cx="140.1" cy="298.0" r="2.05"/><circle cx="107.0" cy="298.1" r="2.05"/><circle cx="130.4" cy="296.0" r="2.05"/><circle cx="224.0" cy="295.4" r="2.05"/><circle cx="224.7" cy="297.6" r="2.05"/><circle cx="245.3" cy="295.5" r="2.05"/><circle cx="222.1" cy="297.3" r="2.05"/><circle cx="135.9" cy="295.5" r="2.05"/><circle cx="141.2" cy="293.6" r="2.05"/><circle cx="228.6" cy="295.0" r="2.05"/><circle cx="227.3" cy="296.3" r="2.05"/><circle cx="270.2" cy="294.0" r="2.05"/></g>
<g fill="#3cffba" stroke="#3cffba"><circle cx="240.0" cy="292.2" r="2.05"/><circle cx="246.2" cy="288.6" r="2.05"/><circle cx="250.3" cy="290.8" r="2.05"/><circle cx="138.0" cy="289.1" r="2.05"/><circle cx="145.4" cy="289.1" r="2.05"/><circle cx="142.7" cy="293.2" r="2.05"/><circle cx="140.3" cy="291.8" r="2.05"/><circle cx="258.9" cy="289.1" r="2.05"/><circle cx="273.1" cy="292.1" r="2.05"/><circle cx="139.0" cy="290.4" r="2.05"/><circle cx="226.7" cy="288.9" r="2.05"/><circle cx="286.6" cy="291.8" r="2.05"/><circle cx="140.4" cy="293.2" r="2.05"/><circle cx="153.0" cy="288.5" r="2.05"/><circle cx="232.8" cy="291.7" r="2.05"/><circle cx="128.5" cy="289.3" r="2.05"/><circle cx="144.9" cy="290.1" r="2.05"/><circle cx="229.2" cy="290.2" r="2.05"/><circle cx="142.5" cy="291.9" r="2.05"/><circle cx="244.6" cy="291.4" r="2.05"/><circle cx="225.6" cy="290.3" r="2.05"/><circle cx="223.5" cy="289.4" r="2.05"/><circle cx="155.6" cy="289.3" r="2.05"/><circle cx="225.9" cy="289.8" r="2.05"/><circle cx="144.1" cy="291.3" r="2.05"/><circle cx="224.8" cy="290.5" r="2.05"/><circle cx="278.8" cy="290.9" r="2.05"/><circle cx="257.6" cy="290.8" r="2.05"/><circle cx="155.1" cy="289.5" r="2.05"/><circle cx="223.9" cy="289.9" r="2.05"/><circle cx="145.6" cy="291.1" r="2.05"/><circle cx="248.6" cy="289.8" r="2.05"/><circle cx="140.0" cy="289.2" r="2.05"/><circle cx="153.2" cy="289.8" r="2.05"/><circle cx="140.8" cy="290.6" r="2.05"/><circle cx="142.7" cy="290.7" r="2.05"/><circle cx="140.5" cy="292.5" r="2.05"/><circle cx="256.4" cy="288.7" r="2.05"/><circle cx="259.2" cy="288.8" r="2.05"/><circle cx="251.0" cy="291.6" r="2.05"/><circle cx="141.1" cy="289.8" r="2.05"/><circle cx="246.4" cy="289.8" r="2.05"/><circle cx="233.1" cy="288.4" r="2.05"/><circle cx="147.2" cy="292.7" r="2.05"/><circle cx="225.2" cy="293.1" r="2.05"/><circle cx="222.1" cy="288.7" r="2.05"/><circle cx="149.3" cy="290.8" r="2.05"/><circle cx="127.9" cy="289.7" r="2.05"/><circle cx="258.2" cy="292.6" r="2.05"/><circle cx="138.4" cy="290.7" r="2.05"/><circle cx="139.0" cy="291.3" r="2.05"/><circle cx="152.8" cy="292.6" r="2.05"/><circle cx="225.5" cy="290.4" r="2.05"/><circle cx="144.1" cy="289.1" r="2.05"/><circle cx="314.6" cy="292.2" r="2.05"/></g>
<g fill="#43ffb4" stroke="#43ffb4"><circle cx="228.7" cy="286.8" r="2.05"/><circle cx="154.2" cy="285.6" r="2.05"/><circle cx="154.2" cy="285.1" r="2.05"/><circle cx="226.3" cy="287.0" r="2.05"/><circle cx="153.8" cy="287.4" r="2.05"/><circle cx="272.9" cy="287.1" r="2.05"/><circle cx="158.1" cy="284.5" r="2.05"/><circle cx="145.0" cy="286.8" r="2.05"/><circle cx="156.7" cy="288.3" r="2.05"/><circle cx="233.2" cy="283.4" r="2.05"/><circle cx="248.9" cy="286.4" r="2.05"/><circle cx="138.9" cy="286.3" r="2.05"/><circle cx="155.2" cy="287.0" r="2.05"/><circle cx="247.8" cy="287.9" r="2.05"/><circle cx="272.6" cy="284.1" r="2.05"/><circle cx="158.9" cy="286.0" r="2.05"/><circle cx="249.5" cy="287.7" r="2.05"/><circle cx="227.8" cy="285.0" r="2.05"/><circle cx="131.9" cy="288.0" r="2.05"/><circle cx="266.4" cy="287.3" r="2.05"/><circle cx="232.3" cy="286.3" r="2.05"/><circle cx="147.4" cy="285.8" r="2.05"/><circle cx="260.7" cy="284.7" r="2.05"/><circle cx="234.8" cy="285.3" r="2.05"/><circle cx="157.3" cy="285.8" r="2.05"/><circle cx="155.0" cy="288.1" r="2.05"/><circle cx="226.5" cy="285.0" r="2.05"/><circle cx="232.9" cy="286.5" r="2.05"/><circle cx="228.1" cy="284.6" r="2.05"/><circle cx="147.2" cy="285.4" r="2.05"/><circle cx="158.9" cy="284.6" r="2.05"/><circle cx="239.8" cy="286.9" r="2.05"/><circle cx="145.3" cy="284.5" r="2.05"/><circle cx="230.8" cy="287.3" r="2.05"/><circle cx="158.8" cy="286.2" r="2.05"/><circle cx="225.9" cy="288.2" r="2.05"/><circle cx="284.9" cy="284.6" r="2.05"/><circle cx="152.9" cy="284.1" r="2.05"/><circle cx="267.7" cy="284.4" r="2.05"/><circle cx="144.5" cy="284.7" r="2.05"/><circle cx="145.0" cy="285.1" r="2.05"/><circle cx="159.5" cy="284.1" r="2.05"/><circle cx="125.7" cy="286.8" r="2.05"/><circle cx="225.6" cy="288.0" r="2.05"/><circle cx="155.9" cy="286.9" r="2.05"/><circle cx="232.0" cy="286.0" r="2.05"/><circle cx="223.5" cy="285.0" r="2.05"/><circle cx="148.6" cy="288.3" r="2.05"/><circle cx="155.8" cy="287.8" r="2.05"/><circle cx="147.5" cy="287.6" r="2.05"/><circle cx="157.6" cy="283.4" r="2.05"/><circle cx="159.0" cy="284.7" r="2.05"/><circle cx="227.0" cy="285.2" r="2.05"/><circle cx="227.3" cy="283.6" r="2.05"/><circle cx="143.4" cy="286.0" r="2.05"/><circle cx="248.7" cy="285.9" r="2.05"/><circle cx="259.5" cy="285.4" r="2.05"/><circle cx="145.3" cy="288.2" r="2.05"/><circle cx="148.8" cy="284.9" r="2.05"/><circle cx="133.7" cy="286.0" r="2.05"/><circle cx="133.1" cy="283.6" r="2.05"/><circle cx="224.8" cy="288.1" r="2.05"/><circle cx="147.5" cy="288.0" r="2.05"/><circle cx="237.6" cy="286.4" r="2.05"/><circle cx="260.9" cy="288.2" r="2.05"/><circle cx="230.2" cy="284.8" r="2.05"/><circle cx="248.4" cy="286.7" r="2.05"/><circle cx="222.6" cy="285.7" r="2.05"/><circle cx="153.5" cy="286.7" r="2.05"/><circle cx="99.6" cy="284.0" r="2.05"/><circle cx="114.4" cy="284.7" r="2.05"/></g>
<g fill="#4dffaa" stroke="#4dffaa"><circle cx="150.6" cy="281.5" r="2.05"/><circle cx="114.1" cy="280.8" r="2.05"/><circle cx="237.0" cy="280.4" r="2.05"/><circle cx="227.2" cy="281.9" r="2.05"/><circle cx="147.8" cy="278.4" r="2.05"/><circle cx="236.3" cy="282.2" r="2.05"/><circle cx="158.6" cy="279.5" r="2.05"/><circle cx="242.6" cy="280.0" r="2.05"/><circle cx="253.9" cy="280.2" r="2.05"/><circle cx="155.2" cy="283.2" r="2.05"/><circle cx="152.8" cy="280.7" r="2.05"/><circle cx="158.6" cy="283.3" r="2.05"/><circle cx="242.3" cy="278.8" r="2.05"/><circle cx="295.4" cy="282.7" r="2.05"/><circle cx="157.7" cy="281.5" r="2.05"/><circle cx="293.5" cy="281.9" r="2.05"/><circle cx="143.9" cy="279.9" r="2.05"/><circle cx="156.2" cy="282.9" r="2.05"/><circle cx="235.7" cy="280.3" r="2.05"/><circle cx="228.9" cy="282.6" r="2.05"/><circle cx="231.0" cy="278.4" r="2.05"/><circle cx="233.9" cy="280.6" r="2.05"/><circle cx="158.2" cy="281.2" r="2.05"/><circle cx="157.5" cy="280.6" r="2.05"/><circle cx="233.0" cy="279.1" r="2.05"/><circle cx="231.1" cy="280.9" r="2.05"/><circle cx="236.8" cy="282.3" r="2.05"/><circle cx="141.2" cy="278.9" r="2.05"/><circle cx="227.3" cy="280.6" r="2.05"/><circle cx="122.3" cy="282.7" r="2.05"/><circle cx="158.2" cy="283.0" r="2.05"/><circle cx="245.6" cy="281.4" r="2.05"/><circle cx="235.1" cy="279.5" r="2.05"/><circle cx="154.6" cy="281.7" r="2.05"/><circle cx="147.7" cy="278.4" r="2.05"/><circle cx="237.0" cy="282.2" r="2.05"/><circle cx="241.2" cy="278.6" r="2.05"/><circle cx="159.5" cy="280.3" r="2.05"/><circle cx="157.7" cy="281.6" r="2.05"/><circle cx="295.9" cy="281.3" r="2.05"/><circle cx="239.6" cy="279.1" r="2.05"/><circle cx="151.8" cy="278.5" r="2.05"/><circle cx="153.8" cy="282.8" r="2.05"/><circle cx="159.1" cy="280.4" r="2.05"/><circle cx="125.1" cy="279.4" r="2.05"/><circle cx="246.5" cy="278.8" r="2.05"/><circle cx="151.8" cy="281.2" r="2.05"/><circle cx="137.1" cy="283.3" r="2.05"/><circle cx="267.5" cy="282.3" r="2.05"/><circle cx="247.5" cy="281.8" r="2.05"/><circle cx="226.6" cy="279.9" r="2.05"/><circle cx="236.3" cy="282.0" r="2.05"/><circle cx="229.8" cy="283.0" r="2.05"/><circle cx="234.6" cy="281.6" r="2.05"/><circle cx="227.9" cy="281.1" r="2.05"/><circle cx="160.7" cy="282.8" r="2.05"/><circle cx="135.5" cy="282.3" r="2.05"/><circle cx="255.0" cy="280.5" r="2.05"/><circle cx="307.9" cy="278.4" r="2.05"/><circle cx="151.0" cy="283.3" r="2.05"/><circle cx="236.9" cy="280.6" r="2.05"/><circle cx="145.7" cy="282.4" r="2.05"/><circle cx="300.9" cy="281.0" r="2.05"/><circle cx="150.9" cy="282.7" r="2.05"/><circle cx="247.9" cy="279.1" r="2.05"/><circle cx="159.4" cy="279.9" r="2.05"/><circle cx="147.4" cy="281.7" r="2.05"/><circle cx="153.6" cy="280.6" r="2.05"/><circle cx="229.5" cy="281.4" r="2.05"/><circle cx="155.2" cy="281.4" r="2.05"/><circle cx="154.2" cy="281.0" r="2.05"/><circle cx="241.6" cy="279.1" r="2.05"/><circle cx="235.0" cy="280.4" r="2.05"/><circle cx="330.0" cy="280.5" r="2.05"/><circle cx="122.5" cy="279.8" r="2.05"/></g>
<g fill="#56ffa0" stroke="#56ffa0"><circle cx="301.2" cy="273.9" r="2.05"/><circle cx="236.8" cy="275.4" r="2.05"/><circle cx="230.4" cy="276.8" r="2.05"/><circle cx="234.8" cy="275.8" r="2.05"/><circle cx="238.7" cy="275.0" r="2.05"/><circle cx="157.3" cy="275.4" r="2.05"/><circle cx="158.0" cy="278.0" r="2.05"/><circle cx="161.4" cy="274.8" r="2.05"/><circle cx="232.3" cy="273.5" r="2.05"/><circle cx="312.5" cy="276.7" r="2.05"/><circle cx="160.5" cy="278.2" r="2.05"/><circle cx="162.6" cy="274.7" r="2.05"/><circle cx="160.2" cy="278.0" r="2.05"/><circle cx="242.2" cy="277.6" r="2.05"/><circle cx="245.3" cy="275.9" r="2.05"/><circle cx="230.9" cy="275.1" r="2.05"/><circle cx="238.4" cy="276.2" r="2.05"/><circle cx="155.8" cy="277.6" r="2.05"/><circle cx="231.5" cy="278.3" r="2.05"/><circle cx="156.8" cy="277.7" r="2.05"/><circle cx="157.1" cy="278.2" r="2.05"/><circle cx="154.8" cy="276.7" r="2.05"/><circle cx="157.1" cy="277.0" r="2.05"/><circle cx="230.1" cy="276.2" r="2.05"/><circle cx="160.0" cy="277.5" r="2.05"/><circle cx="150.1" cy="277.6" r="2.05"/><circle cx="159.2" cy="278.2" r="2.05"/><circle cx="240.0" cy="274.1" r="2.05"/><circle cx="158.5" cy="274.6" r="2.05"/><circle cx="234.8" cy="276.2" r="2.05"/><circle cx="148.0" cy="274.2" r="2.05"/><circle cx="163.0" cy="274.6" r="2.05"/><circle cx="241.7" cy="277.6" r="2.05"/><circle cx="234.8" cy="278.3" r="2.05"/><circle cx="232.4" cy="274.5" r="2.05"/><circle cx="248.6" cy="273.6" r="2.05"/><circle cx="232.7" cy="274.5" r="2.05"/><circle cx="240.7" cy="274.8" r="2.05"/><circle cx="232.5" cy="277.7" r="2.05"/><circle cx="320.0" cy="274.4" r="2.05"/><circle cx="235.5" cy="277.9" r="2.05"/><circle cx="234.4" cy="277.8" r="2.05"/><circle cx="141.2" cy="276.3" r="2.05"/><circle cx="248.0" cy="275.4" r="2.05"/><circle cx="234.5" cy="275.0" r="2.05"/><circle cx="265.2" cy="276.7" r="2.05"/><circle cx="235.9" cy="275.6" r="2.05"/><circle cx="232.5" cy="277.3" r="2.05"/><circle cx="236.3" cy="277.8" r="2.05"/><circle cx="269.0" cy="277.8" r="2.05"/><circle cx="166.3" cy="274.1" r="2.05"/><circle cx="246.4" cy="274.1" r="2.05"/><circle cx="160.4" cy="276.4" r="2.05"/><circle cx="234.3" cy="275.0" r="2.05"/><circle cx="155.8" cy="276.5" r="2.05"/><circle cx="160.9" cy="273.5" r="2.05"/><circle cx="162.3" cy="275.5" r="2.05"/><circle cx="112.7" cy="277.5" r="2.05"/></g>
<g fill="#5dff9a" stroke="#5dff9a"><circle cx="175.8" cy="268.5" r="2.05"/><circle cx="153.7" cy="270.9" r="2.05"/><circle cx="167.6" cy="268.6" r="2.05"/><circle cx="263.4" cy="272.3" r="2.05"/><circle cx="160.4" cy="272.1" r="2.05"/><circle cx="233.7" cy="273.0" r="2.05"/><circle cx="158.6" cy="268.8" r="2.05"/><circle cx="162.2" cy="272.3" r="2.05"/><circle cx="230.1" cy="273.1" r="2.05"/><circle cx="157.5" cy="268.5" r="2.05"/><circle cx="252.9" cy="269.8" r="2.05"/><circle cx="166.8" cy="268.7" r="2.05"/><circle cx="237.8" cy="270.4" r="2.05"/><circle cx="302.6" cy="270.4" r="2.05"/><circle cx="125.6" cy="271.1" r="2.05"/><circle cx="164.5" cy="270.4" r="2.05"/><circle cx="233.2" cy="269.2" r="2.05"/><circle cx="174.6" cy="268.5" r="2.05"/><circle cx="264.6" cy="272.1" r="2.05"/><circle cx="167.1" cy="268.3" r="2.05"/><circle cx="230.9" cy="272.6" r="2.05"/><circle cx="142.6" cy="271.8" r="2.05"/><circle cx="169.0" cy="271.1" r="2.05"/><circle cx="273.5" cy="268.7" r="2.05"/><circle cx="234.9" cy="271.8" r="2.05"/><circle cx="167.3" cy="268.4" r="2.05"/><circle cx="162.4" cy="270.8" r="2.05"/><circle cx="260.4" cy="271.4" r="2.05"/><circle cx="161.5" cy="270.7" r="2.05"/><circle cx="168.7" cy="272.2" r="2.05"/><circle cx="139.1" cy="271.6" r="2.05"/><circle cx="159.1" cy="270.9" r="2.05"/><circle cx="236.6" cy="271.5" r="2.05"/><circle cx="164.5" cy="268.7" r="2.05"/><circle cx="232.1" cy="271.2" r="2.05"/><circle cx="165.0" cy="270.2" r="2.05"/><circle cx="161.0" cy="271.1" r="2.05"/><circle cx="250.7" cy="269.4" r="2.05"/><circle cx="234.7" cy="269.1" r="2.05"/><circle cx="234.2" cy="271.7" r="2.05"/><circle cx="234.7" cy="273.0" r="2.05"/><circle cx="244.4" cy="268.6" r="2.05"/><circle cx="255.8" cy="270.2" r="2.05"/><circle cx="244.0" cy="272.1" r="2.05"/><circle cx="236.0" cy="268.4" r="2.05"/><circle cx="263.6" cy="268.6" r="2.05"/><circle cx="232.1" cy="271.6" r="2.05"/><circle cx="250.6" cy="273.3" r="2.05"/><circle cx="142.3" cy="269.2" r="2.05"/><circle cx="160.1" cy="270.5" r="2.05"/><circle cx="167.0" cy="271.1" r="2.05"/><circle cx="248.5" cy="268.5" r="2.05"/><circle cx="253.9" cy="271.4" r="2.05"/><circle cx="238.7" cy="268.7" r="2.05"/><circle cx="234.0" cy="270.9" r="2.05"/><circle cx="232.1" cy="270.8" r="2.05"/><circle cx="233.6" cy="272.1" r="2.05"/><circle cx="232.0" cy="272.9" r="2.05"/><circle cx="237.2" cy="272.8" r="2.05"/><circle cx="233.0" cy="272.1" r="2.05"/><circle cx="168.1" cy="269.0" r="2.05"/><circle cx="164.5" cy="270.6" r="2.05"/><circle cx="236.2" cy="271.0" r="2.05"/><circle cx="247.3" cy="270.1" r="2.05"/><circle cx="164.5" cy="268.5" r="2.05"/><circle cx="173.0" cy="268.9" r="2.05"/><circle cx="319.4" cy="272.5" r="2.05"/><circle cx="353.9" cy="272.6" r="2.05"/><circle cx="120.9" cy="273.3" r="2.05"/></g>
<g fill="#66ff90" stroke="#66ff90"><circle cx="266.6" cy="263.3" r="2.05"/><circle cx="172.6" cy="267.6" r="2.05"/><circle cx="175.9" cy="266.5" r="2.05"/><circle cx="173.4" cy="266.1" r="2.05"/><circle cx="259.2" cy="265.1" r="2.05"/><circle cx="160.3" cy="267.2" r="2.05"/><circle cx="261.7" cy="266.1" r="2.05"/><circle cx="176.4" cy="267.0" r="2.05"/><circle cx="246.9" cy="265.0" r="2.05"/><circle cx="238.4" cy="267.1" r="2.05"/><circle cx="267.1" cy="266.0" r="2.05"/><circle cx="275.3" cy="265.7" r="2.05"/><circle cx="172.8" cy="264.4" r="2.05"/><circle cx="176.5" cy="267.8" r="2.05"/><circle cx="175.8" cy="266.3" r="2.05"/><circle cx="239.9" cy="264.3" r="2.05"/><circle cx="261.8" cy="267.3" r="2.05"/><circle cx="173.6" cy="267.3" r="2.05"/><circle cx="291.2" cy="266.5" r="2.05"/><circle cx="240.2" cy="268.3" r="2.05"/><circle cx="242.4" cy="266.2" r="2.05"/><circle cx="241.1" cy="267.3" r="2.05"/><circle cx="261.1" cy="268.1" r="2.05"/><circle cx="240.8" cy="264.2" r="2.05"/><circle cx="335.2" cy="263.9" r="2.05"/><circle cx="264.9" cy="267.3" r="2.05"/><circle cx="268.8" cy="268.1" r="2.05"/><circle cx="158.5" cy="265.8" r="2.05"/><circle cx="260.7" cy="267.4" r="2.05"/><circle cx="135.0" cy="264.6" r="2.05"/><circle cx="162.9" cy="266.2" r="2.05"/><circle cx="245.4" cy="263.4" r="2.05"/><circle cx="164.2" cy="265.1" r="2.05"/><circle cx="245.8" cy="263.6" r="2.05"/><circle cx="256.2" cy="263.7" r="2.05"/><circle cx="156.0" cy="267.8" r="2.05"/><circle cx="156.1" cy="268.0" r="2.05"/><circle cx="262.8" cy="266.8" r="2.05"/><circle cx="149.3" cy="263.6" r="2.05"/><circle cx="238.0" cy="264.4" r="2.05"/><circle cx="242.5" cy="267.1" r="2.05"/><circle cx="170.9" cy="264.7" r="2.05"/><circle cx="150.0" cy="266.6" r="2.05"/><circle cx="247.8" cy="265.4" r="2.05"/><circle cx="156.8" cy="266.5" r="2.05"/><circle cx="241.3" cy="264.6" r="2.05"/><circle cx="133.2" cy="268.2" r="2.05"/><circle cx="165.1" cy="265.0" r="2.05"/><circle cx="175.6" cy="264.1" r="2.05"/><circle cx="235.4" cy="267.6" r="2.05"/><circle cx="268.7" cy="263.3" r="2.05"/><circle cx="251.9" cy="265.9" r="2.05"/><circle cx="169.4" cy="266.9" r="2.05"/><circle cx="146.2" cy="267.1" r="2.05"/><circle cx="245.8" cy="266.7" r="2.05"/><circle cx="111.0" cy="263.4" r="2.05"/></g>
<g fill="#70ff87" stroke="#70ff87"><circle cx="245.2" cy="259.3" r="2.05"/><circle cx="251.6" cy="260.5" r="2.05"/><circle cx="179.6" cy="262.9" r="2.05"/><circle cx="178.7" cy="260.2" r="2.05"/><circle cx="176.3" cy="263.0" r="2.05"/><circle cx="248.2" cy="262.0" r="2.05"/><circle cx="242.9" cy="261.9" r="2.05"/><circle cx="160.7" cy="261.2" r="2.05"/><circle cx="243.4" cy="258.4" r="2.05"/><circle cx="252.8" cy="261.9" r="2.05"/><circle cx="249.7" cy="258.5" r="2.05"/><circle cx="173.7" cy="262.7" r="2.05"/><circle cx="181.3" cy="259.2" r="2.05"/><circle cx="248.7" cy="262.1" r="2.05"/><circle cx="173.5" cy="262.1" r="2.05"/><circle cx="206.5" cy="258.8" r="2.05"/><circle cx="180.6" cy="261.7" r="2.05"/><circle cx="177.8" cy="260.2" r="2.05"/><circle cx="176.4" cy="259.7" r="2.05"/><circle cx="246.3" cy="260.6" r="2.05"/><circle cx="171.4" cy="259.3" r="2.05"/><circle cx="237.7" cy="258.4" r="2.05"/><circle cx="164.2" cy="258.3" r="2.05"/><circle cx="238.9" cy="262.3" r="2.05"/><circle cx="249.4" cy="259.6" r="2.05"/><circle cx="247.8" cy="258.5" r="2.05"/><circle cx="305.8" cy="262.9" r="2.05"/><circle cx="181.1" cy="260.9" r="2.05"/><circle cx="160.5" cy="260.9" r="2.05"/><circle cx="240.5" cy="260.7" r="2.05"/><circle cx="248.6" cy="261.9" r="2.05"/><circle cx="172.1" cy="260.9" r="2.05"/><circle cx="243.6" cy="262.8" r="2.05"/><circle cx="244.3" cy="261.1" r="2.05"/><circle cx="146.8" cy="260.9" r="2.05"/><circle cx="158.6" cy="259.3" r="2.05"/><circle cx="252.0" cy="259.5" r="2.05"/><circle cx="307.5" cy="261.0" r="2.05"/><circle cx="150.1" cy="263.1" r="2.05"/><circle cx="180.9" cy="259.3" r="2.05"/><circle cx="208.4" cy="258.7" r="2.05"/><circle cx="175.2" cy="260.5" r="2.05"/><circle cx="182.3" cy="259.9" r="2.05"/><circle cx="239.8" cy="261.3" r="2.05"/><circle cx="247.8" cy="260.5" r="2.05"/><circle cx="207.3" cy="259.0" r="2.05"/><circle cx="164.7" cy="261.3" r="2.05"/><circle cx="247.0" cy="258.4" r="2.05"/><circle cx="247.4" cy="260.3" r="2.05"/><circle cx="177.4" cy="260.2" r="2.05"/><circle cx="270.1" cy="263.0" r="2.05"/><circle cx="173.7" cy="262.7" r="2.05"/><circle cx="174.8" cy="262.7" r="2.05"/><circle cx="240.2" cy="258.6" r="2.05"/><circle cx="168.7" cy="261.2" r="2.05"/><circle cx="210.9" cy="258.8" r="2.05"/><circle cx="239.3" cy="259.1" r="2.05"/><circle cx="165.3" cy="259.2" r="2.05"/><circle cx="241.0" cy="262.8" r="2.05"/><circle cx="176.8" cy="260.9" r="2.05"/><circle cx="287.9" cy="259.5" r="2.05"/><circle cx="170.2" cy="258.5" r="2.05"/><circle cx="249.1" cy="259.3" r="2.05"/><circle cx="163.9" cy="259.4" r="2.05"/><circle cx="178.0" cy="261.6" r="2.05"/><circle cx="165.1" cy="258.7" r="2.05"/><circle cx="161.1" cy="262.6" r="2.05"/><circle cx="176.7" cy="263.1" r="2.05"/><circle cx="173.7" cy="262.0" r="2.05"/><circle cx="376.8" cy="258.5" r="2.05"/><circle cx="310.4" cy="258.5" r="2.05"/></g>
<g fill="#77ff80" stroke="#77ff80"><circle cx="178.8" cy="255.2" r="2.05"/><circle cx="202.5" cy="256.9" r="2.05"/><circle cx="212.0" cy="257.3" r="2.05"/><circle cx="246.8" cy="255.3" r="2.05"/><circle cx="188.9" cy="253.8" r="2.05"/><circle cx="249.2" cy="257.7" r="2.05"/><circle cx="280.0" cy="255.4" r="2.05"/><circle cx="210.6" cy="256.8" r="2.05"/><circle cx="249.1" cy="255.8" r="2.05"/><circle cx="248.3" cy="255.5" r="2.05"/><circle cx="173.1" cy="254.4" r="2.05"/><circle cx="260.0" cy="258.1" r="2.05"/><circle cx="247.8" cy="256.0" r="2.05"/><circle cx="207.4" cy="257.5" r="2.05"/><circle cx="237.4" cy="255.8" r="2.05"/><circle cx="237.5" cy="254.8" r="2.05"/><circle cx="269.7" cy="255.5" r="2.05"/><circle cx="202.6" cy="255.0" r="2.05"/><circle cx="177.6" cy="253.5" r="2.05"/><circle cx="217.3" cy="253.9" r="2.05"/><circle cx="246.6" cy="258.1" r="2.05"/><circle cx="179.4" cy="255.0" r="2.05"/><circle cx="201.2" cy="255.5" r="2.05"/><circle cx="217.2" cy="255.0" r="2.05"/><circle cx="278.6" cy="255.6" r="2.05"/><circle cx="294.0" cy="253.8" r="2.05"/><circle cx="248.4" cy="253.3" r="2.05"/><circle cx="211.7" cy="255.2" r="2.05"/><circle cx="247.7" cy="253.7" r="2.05"/><circle cx="210.0" cy="255.6" r="2.05"/><circle cx="175.9" cy="255.9" r="2.05"/><circle cx="176.4" cy="255.9" r="2.05"/><circle cx="176.3" cy="254.0" r="2.05"/><circle cx="216.9" cy="254.6" r="2.05"/><circle cx="183.2" cy="254.0" r="2.05"/><circle cx="178.5" cy="256.6" r="2.05"/><circle cx="176.3" cy="257.8" r="2.05"/><circle cx="205.0" cy="257.6" r="2.05"/><circle cx="172.9" cy="254.3" r="2.05"/><circle cx="181.4" cy="256.0" r="2.05"/><circle cx="215.7" cy="256.3" r="2.05"/><circle cx="215.1" cy="256.8" r="2.05"/><circle cx="211.8" cy="253.6" r="2.05"/><circle cx="181.5" cy="257.3" r="2.05"/><circle cx="239.8" cy="257.2" r="2.05"/><circle cx="251.0" cy="257.6" r="2.05"/><circle cx="245.7" cy="254.0" r="2.05"/><circle cx="241.9" cy="255.4" r="2.05"/><circle cx="201.4" cy="254.1" r="2.05"/><circle cx="242.9" cy="257.0" r="2.05"/><circle cx="220.6" cy="253.6" r="2.05"/><circle cx="214.0" cy="256.8" r="2.05"/><circle cx="246.3" cy="257.5" r="2.05"/><circle cx="185.4" cy="255.8" r="2.05"/><circle cx="208.9" cy="257.4" r="2.05"/><circle cx="212.5" cy="256.5" r="2.05"/><circle cx="234.2" cy="253.6" r="2.05"/><circle cx="241.7" cy="256.7" r="2.05"/><circle cx="218.6" cy="253.8" r="2.05"/><circle cx="175.0" cy="253.3" r="2.05"/><circle cx="145.0" cy="255.0" r="2.05"/><circle cx="271.4" cy="257.5" r="2.05"/><circle cx="249.0" cy="255.0" r="2.05"/><circle cx="169.7" cy="255.9" r="2.05"/><circle cx="247.4" cy="257.2" r="2.05"/><circle cx="238.7" cy="255.4" r="2.05"/><circle cx="177.5" cy="255.3" r="2.05"/><circle cx="236.4" cy="253.7" r="2.05"/><circle cx="214.1" cy="256.3" r="2.05"/><circle cx="172.9" cy="254.0" r="2.05"/><circle cx="292.2" cy="254.8" r="2.05"/><circle cx="180.3" cy="254.4" r="2.05"/><circle cx="247.7" cy="256.8" r="2.05"/><circle cx="240.0" cy="255.1" r="2.05"/><circle cx="234.0" cy="256.4" r="2.05"/><circle cx="202.5" cy="255.6" r="2.05"/><circle cx="179.5" cy="253.3" r="2.05"/><circle cx="210.3" cy="258.0" r="2.05"/><circle cx="252.0" cy="255.6" r="2.05"/><circle cx="186.6" cy="255.9" r="2.05"/><circle cx="241.2" cy="256.7" r="2.05"/><circle cx="236.6" cy="257.7" r="2.05"/><circle cx="203.7" cy="256.9" r="2.05"/><circle cx="176.5" cy="255.6" r="2.05"/><circle cx="245.5" cy="257.6" r="2.05"/><circle cx="216.2" cy="255.9" r="2.05"/><circle cx="254.3" cy="255.5" r="2.05"/><circle cx="247.4" cy="256.2" r="2.05"/><circle cx="213.4" cy="253.3" r="2.05"/><circle cx="232.6" cy="254.7" r="2.05"/><circle cx="250.1" cy="257.8" r="2.05"/><circle cx="201.1" cy="253.8" r="2.05"/><circle cx="241.6" cy="253.7" r="2.05"/><circle cx="250.9" cy="256.4" r="2.05"/><circle cx="211.6" cy="253.5" r="2.05"/><circle cx="212.1" cy="257.4" r="2.05"/><circle cx="205.7" cy="253.7" r="2.05"/><circle cx="251.3" cy="255.9" r="2.05"/><circle cx="244.7" cy="257.6" r="2.05"/><circle cx="114.9" cy="256.1" r="2.05"/><circle cx="212.2" cy="256.8" r="2.05"/><circle cx="250.6" cy="255.8" r="2.05"/><circle cx="248.9" cy="256.6" r="2.05"/><circle cx="233.0" cy="253.4" r="2.05"/><circle cx="182.4" cy="257.0" r="2.05"/><circle cx="202.8" cy="253.7" r="2.05"/><circle cx="205.1" cy="253.9" r="2.05"/><circle cx="208.2" cy="254.7" r="2.05"/><circle cx="286.4" cy="258.1" r="2.05"/><circle cx="166.9" cy="258.1" r="2.05"/><circle cx="332.3" cy="257.6" r="2.05"/><circle cx="327.7" cy="255.9" r="2.05"/><circle cx="134.0" cy="256.9" r="2.05"/><circle cx="138.2" cy="254.6" r="2.05"/></g>
<g fill="#80ff77" stroke="#80ff77"><circle cx="246.8" cy="249.0" r="2.05"/><circle cx="315.9" cy="252.0" r="2.05"/><circle cx="178.0" cy="248.7" r="2.05"/><circle cx="175.0" cy="250.5" r="2.05"/><circle cx="196.4" cy="248.7" r="2.05"/><circle cx="210.8" cy="251.4" r="2.05"/><circle cx="217.5" cy="248.3" r="2.05"/><circle cx="204.0" cy="252.7" r="2.05"/><circle cx="258.1" cy="252.5" r="2.05"/><circle cx="253.7" cy="249.1" r="2.05"/><circle cx="166.2" cy="249.8" r="2.05"/><circle cx="239.5" cy="252.5" r="2.05"/><circle cx="293.5" cy="248.8" r="2.05"/><circle cx="255.5" cy="250.8" r="2.05"/><circle cx="186.4" cy="251.5" r="2.05"/><circle cx="217.6" cy="253.1" r="2.05"/><circle cx="177.3" cy="249.3" r="2.05"/><circle cx="250.0" cy="251.2" r="2.05"/><circle cx="186.6" cy="252.1" r="2.05"/><circle cx="220.8" cy="252.4" r="2.05"/><circle cx="222.3" cy="248.2" r="2.05"/><circle cx="183.9" cy="248.3" r="2.05"/><circle cx="242.0" cy="251.4" r="2.05"/><circle cx="254.8" cy="248.3" r="2.05"/><circle cx="201.2" cy="250.3" r="2.05"/><circle cx="180.0" cy="250.7" r="2.05"/><circle cx="173.4" cy="253.0" r="2.05"/><circle cx="231.3" cy="250.8" r="2.05"/><circle cx="217.0" cy="250.9" r="2.05"/><circle cx="173.1" cy="249.0" r="2.05"/><circle cx="200.2" cy="249.0" r="2.05"/><circle cx="177.2" cy="250.9" r="2.05"/><circle cx="182.9" cy="252.1" r="2.05"/><circle cx="211.3" cy="248.2" r="2.05"/><circle cx="221.5" cy="250.0" r="2.05"/><circle cx="213.4" cy="251.5" r="2.05"/><circle cx="213.3" cy="252.4" r="2.05"/><circle cx="171.3" cy="252.6" r="2.05"/><circle cx="211.1" cy="250.9" r="2.05"/><circle cx="185.7" cy="249.1" r="2.05"/><circle cx="225.0" cy="249.1" r="2.05"/><circle cx="259.8" cy="251.3" r="2.05"/><circle cx="237.1" cy="248.2" r="2.05"/><circle cx="236.8" cy="251.5" r="2.05"/><circle cx="225.2" cy="249.8" r="2.05"/><circle cx="177.2" cy="248.6" r="2.05"/><circle cx="240.1" cy="248.7" r="2.05"/><circle cx="174.0" cy="251.9" r="2.05"/><circle cx="217.3" cy="249.0" r="2.05"/><circle cx="176.0" cy="249.9" r="2.05"/><circle cx="231.7" cy="251.3" r="2.05"/><circle cx="268.3" cy="251.8" r="2.05"/><circle cx="214.8" cy="251.5" r="2.05"/><circle cx="202.9" cy="248.5" r="2.05"/><circle cx="179.8" cy="250.5" r="2.05"/><circle cx="218.2" cy="250.1" r="2.05"/><circle cx="205.9" cy="248.8" r="2.05"/><circle cx="264.9" cy="252.3" r="2.05"/><circle cx="187.9" cy="250.4" r="2.05"/><circle cx="199.2" cy="248.8" r="2.05"/><circle cx="220.2" cy="249.4" r="2.05"/><circle cx="181.6" cy="251.6" r="2.05"/><circle cx="252.2" cy="252.3" r="2.05"/><circle cx="219.0" cy="249.7" r="2.05"/><circle cx="207.9" cy="252.9" r="2.05"/><circle cx="200.4" cy="250.6" r="2.05"/><circle cx="181.9" cy="251.6" r="2.05"/><circle cx="184.7" cy="251.1" r="2.05"/><circle cx="136.0" cy="251.7" r="2.05"/><circle cx="292.1" cy="248.4" r="2.05"/><circle cx="197.3" cy="248.3" r="2.05"/><circle cx="213.2" cy="249.3" r="2.05"/><circle cx="289.8" cy="252.1" r="2.05"/><circle cx="236.6" cy="250.8" r="2.05"/><circle cx="186.8" cy="253.0" r="2.05"/><circle cx="208.5" cy="248.8" r="2.05"/><circle cx="181.1" cy="248.7" r="2.05"/><circle cx="202.0" cy="252.9" r="2.05"/><circle cx="251.7" cy="249.8" r="2.05"/><circle cx="207.0" cy="249.1" r="2.05"/><circle cx="254.0" cy="251.7" r="2.05"/><circle cx="176.7" cy="251.6" r="2.05"/><circle cx="252.4" cy="248.8" r="2.05"/><circle cx="209.0" cy="251.6" r="2.05"/><circle cx="251.7" cy="252.5" r="2.05"/><circle cx="211.8" cy="251.0" r="2.05"/><circle cx="248.3" cy="251.7" r="2.05"/><circle cx="256.9" cy="248.7" r="2.05"/><circle cx="259.2" cy="250.7" r="2.05"/><circle cx="250.9" cy="248.7" r="2.05"/><circle cx="244.1" cy="250.9" r="2.05"/><circle cx="210.1" cy="249.0" r="2.05"/><circle cx="200.2" cy="253.2" r="2.05"/><circle cx="261.4" cy="252.9" r="2.05"/><circle cx="218.0" cy="252.3" r="2.05"/><circle cx="170.4" cy="250.2" r="2.05"/><circle cx="202.4" cy="250.6" r="2.05"/><circle cx="232.3" cy="248.9" r="2.05"/><circle cx="228.8" cy="248.8" r="2.05"/><circle cx="228.2" cy="248.6" r="2.05"/><circle cx="224.2" cy="248.3" r="2.05"/><circle cx="179.2" cy="249.6" r="2.05"/><circle cx="220.4" cy="252.2" r="2.05"/><circle cx="188.3" cy="249.4" r="2.05"/><circle cx="183.9" cy="251.7" r="2.05"/><circle cx="204.3" cy="253.2" r="2.05"/><circle cx="185.0" cy="249.7" r="2.05"/><circle cx="213.6" cy="251.3" r="2.05"/><circle cx="220.7" cy="252.4" r="2.05"/><circle cx="212.4" cy="248.8" r="2.05"/><circle cx="179.3" cy="250.9" r="2.05"/><circle cx="188.8" cy="252.3" r="2.05"/><circle cx="232.4" cy="251.6" r="2.05"/><circle cx="239.9" cy="252.6" r="2.05"/><circle cx="252.3" cy="249.6" r="2.05"/><circle cx="247.7" cy="251.7" r="2.05"/><circle cx="250.3" cy="251.0" r="2.05"/><circle cx="210.0" cy="252.7" r="2.05"/><circle cx="210.6" cy="250.7" r="2.05"/><circle cx="252.2" cy="249.3" r="2.05"/><circle cx="199.2" cy="249.0" r="2.05"/><circle cx="224.5" cy="249.2" r="2.05"/><circle cx="234.7" cy="251.8" r="2.05"/><circle cx="233.1" cy="250.4" r="2.05"/><circle cx="222.3" cy="252.9" r="2.05"/><circle cx="181.5" cy="250.0" r="2.05"/><circle cx="183.9" cy="250.2" r="2.05"/><circle cx="183.6" cy="249.2" r="2.05"/><circle cx="248.8" cy="249.6" r="2.05"/><circle cx="190.3" cy="248.9" r="2.05"/><circle cx="248.1" cy="248.9" r="2.05"/><circle cx="154.0" cy="251.4" r="2.05"/><circle cx="216.0" cy="251.2" r="2.05"/><circle cx="205.4" cy="250.2" r="2.05"/><circle cx="178.9" cy="251.2" r="2.05"/><circle cx="203.9" cy="251.9" r="2.05"/><circle cx="186.1" cy="252.8" r="2.05"/><circle cx="191.0" cy="248.3" r="2.05"/><circle cx="236.6" cy="248.8" r="2.05"/><circle cx="201.1" cy="252.7" r="2.05"/><circle cx="297.2" cy="249.3" r="2.05"/><circle cx="248.3" cy="248.9" r="2.05"/><circle cx="204.8" cy="251.6" r="2.05"/><circle cx="187.0" cy="251.3" r="2.05"/><circle cx="252.1" cy="250.6" r="2.05"/><circle cx="198.4" cy="251.2" r="2.05"/><circle cx="177.5" cy="250.6" r="2.05"/><circle cx="222.2" cy="249.4" r="2.05"/><circle cx="228.8" cy="248.5" r="2.05"/><circle cx="223.0" cy="252.2" r="2.05"/><circle cx="190.5" cy="251.0" r="2.05"/><circle cx="231.4" cy="252.8" r="2.05"/><circle cx="245.3" cy="252.7" r="2.05"/><circle cx="183.6" cy="249.0" r="2.05"/><circle cx="250.5" cy="248.6" r="2.05"/><circle cx="244.0" cy="250.5" r="2.05"/><circle cx="232.0" cy="249.3" r="2.05"/><circle cx="206.0" cy="251.1" r="2.05"/><circle cx="211.8" cy="251.2" r="2.05"/><circle cx="253.8" cy="250.8" r="2.05"/><circle cx="202.7" cy="248.6" r="2.05"/><circle cx="198.8" cy="248.4" r="2.05"/><circle cx="361.1" cy="248.7" r="2.05"/></g>
<g fill="#8aff6d" stroke="#8aff6d"><circle cx="225.3" cy="246.4" r="2.05"/><circle cx="223.6" cy="245.5" r="2.05"/><circle cx="247.6" cy="244.9" r="2.05"/><circle cx="289.8" cy="244.4" r="2.05"/><circle cx="226.7" cy="245.0" r="2.05"/><circle cx="232.0" cy="246.4" r="2.05"/><circle cx="249.3" cy="247.0" r="2.05"/><circle cx="189.2" cy="248.0" r="2.05"/><circle cx="187.8" cy="244.9" r="2.05"/><circle cx="238.6" cy="245.6" r="2.05"/><circle cx="227.7" cy="248.1" r="2.05"/><circle cx="236.9" cy="246.8" r="2.05"/><circle cx="218.4" cy="243.8" r="2.05"/><circle cx="181.3" cy="248.0" r="2.05"/><circle cx="198.3" cy="247.9" r="2.05"/><circle cx="246.5" cy="246.7" r="2.05"/><circle cx="209.3" cy="245.4" r="2.05"/><circle cx="233.6" cy="243.2" r="2.05"/><circle cx="269.7" cy="244.5" r="2.05"/><circle cx="235.4" cy="247.5" r="2.05"/><circle cx="193.5" cy="244.1" r="2.05"/><circle cx="148.4" cy="246.1" r="2.05"/><circle cx="229.0" cy="247.9" r="2.05"/><circle cx="190.4" cy="246.9" r="2.05"/><circle cx="181.2" cy="243.4" r="2.05"/><circle cx="239.7" cy="243.9" r="2.05"/><circle cx="250.7" cy="246.8" r="2.05"/><circle cx="210.4" cy="246.4" r="2.05"/><circle cx="169.9" cy="245.1" r="2.05"/><circle cx="213.5" cy="247.6" r="2.05"/><circle cx="226.3" cy="246.2" r="2.05"/><circle cx="183.0" cy="245.1" r="2.05"/><circle cx="284.3" cy="243.8" r="2.05"/><circle cx="233.5" cy="243.9" r="2.05"/><circle cx="189.9" cy="245.3" r="2.05"/><circle cx="187.8" cy="246.6" r="2.05"/><circle cx="183.5" cy="246.1" r="2.05"/><circle cx="166.0" cy="246.0" r="2.05"/><circle cx="199.7" cy="246.6" r="2.05"/><circle cx="211.6" cy="246.4" r="2.05"/><circle cx="251.7" cy="247.8" r="2.05"/><circle cx="213.7" cy="248.2" r="2.05"/><circle cx="189.2" cy="244.4" r="2.05"/><circle cx="216.4" cy="245.8" r="2.05"/><circle cx="203.6" cy="244.0" r="2.05"/><circle cx="197.8" cy="244.9" r="2.05"/><circle cx="230.0" cy="245.3" r="2.05"/><circle cx="233.7" cy="244.1" r="2.05"/><circle cx="238.2" cy="243.2" r="2.05"/><circle cx="205.1" cy="247.4" r="2.05"/><circle cx="178.7" cy="243.4" r="2.05"/><circle cx="210.6" cy="246.1" r="2.05"/><circle cx="196.4" cy="245.1" r="2.05"/><circle cx="170.5" cy="247.9" r="2.05"/><circle cx="269.4" cy="244.6" r="2.05"/><circle cx="238.0" cy="244.7" r="2.05"/><circle cx="226.5" cy="246.7" r="2.05"/><circle cx="182.3" cy="243.5" r="2.05"/><circle cx="166.5" cy="246.7" r="2.05"/><circle cx="199.0" cy="245.5" r="2.05"/><circle cx="183.0" cy="247.1" r="2.05"/><circle cx="223.8" cy="247.1" r="2.05"/><circle cx="219.1" cy="244.5" r="2.05"/><circle cx="184.9" cy="243.3" r="2.05"/><circle cx="215.0" cy="248.1" r="2.05"/><circle cx="199.0" cy="244.7" r="2.05"/><circle cx="223.8" cy="244.3" r="2.05"/><circle cx="216.4" cy="244.8" r="2.05"/><circle cx="189.4" cy="245.6" r="2.05"/><circle cx="330.7" cy="243.7" r="2.05"/><circle cx="211.3" cy="245.2" r="2.05"/><circle cx="219.1" cy="245.0" r="2.05"/><circle cx="186.8" cy="246.0" r="2.05"/><circle cx="228.8" cy="246.9" r="2.05"/><circle cx="231.7" cy="244.2" r="2.05"/><circle cx="232.2" cy="247.6" r="2.05"/><circle cx="185.7" cy="244.8" r="2.05"/><circle cx="201.6" cy="247.4" r="2.05"/><circle cx="221.2" cy="245.3" r="2.05"/><circle cx="184.6" cy="247.4" r="2.05"/><circle cx="185.1" cy="246.4" r="2.05"/><circle cx="239.9" cy="246.3" r="2.05"/><circle cx="210.6" cy="248.2" r="2.05"/><circle cx="259.0" cy="244.4" r="2.05"/><circle cx="239.5" cy="247.7" r="2.05"/><circle cx="251.1" cy="244.9" r="2.05"/><circle cx="242.6" cy="247.3" r="2.05"/><circle cx="195.9" cy="243.7" r="2.05"/><circle cx="187.6" cy="245.7" r="2.05"/><circle cx="318.4" cy="245.6" r="2.05"/><circle cx="189.3" cy="244.4" r="2.05"/><circle cx="181.4" cy="244.7" r="2.05"/><circle cx="184.0" cy="247.8" r="2.05"/><circle cx="208.0" cy="247.2" r="2.05"/><circle cx="231.4" cy="244.1" r="2.05"/><circle cx="180.3" cy="246.5" r="2.05"/><circle cx="191.4" cy="243.7" r="2.05"/><circle cx="188.3" cy="243.7" r="2.05"/><circle cx="214.9" cy="246.3" r="2.05"/><circle cx="232.9" cy="247.5" r="2.05"/><circle cx="194.3" cy="247.3" r="2.05"/><circle cx="231.7" cy="246.4" r="2.05"/><circle cx="229.5" cy="245.5" r="2.05"/><circle cx="199.6" cy="244.5" r="2.05"/><circle cx="245.9" cy="246.9" r="2.05"/><circle cx="211.1" cy="245.5" r="2.05"/><circle cx="180.9" cy="243.5" r="2.05"/><circle cx="209.6" cy="244.8" r="2.05"/><circle cx="189.6" cy="243.2" r="2.05"/><circle cx="339.8" cy="243.8" r="2.05"/><circle cx="152.6" cy="245.4" r="2.05"/></g>
<g fill="#90ff66" stroke="#90ff66"><circle cx="260.8" cy="242.1" r="2.05"/><circle cx="253.2" cy="239.7" r="2.05"/><circle cx="349.9" cy="238.2" r="2.05"/><circle cx="198.6" cy="241.9" r="2.05"/><circle cx="218.7" cy="238.7" r="2.05"/><circle cx="192.4" cy="241.7" r="2.05"/><circle cx="229.5" cy="239.1" r="2.05"/><circle cx="335.8" cy="239.1" r="2.05"/><circle cx="201.9" cy="239.0" r="2.05"/><circle cx="224.7" cy="241.5" r="2.05"/><circle cx="243.0" cy="239.3" r="2.05"/><circle cx="242.6" cy="240.8" r="2.05"/><circle cx="188.2" cy="240.7" r="2.05"/><circle cx="228.1" cy="242.0" r="2.05"/><circle cx="221.5" cy="241.9" r="2.05"/><circle cx="259.8" cy="241.9" r="2.05"/><circle cx="183.2" cy="241.2" r="2.05"/><circle cx="186.8" cy="242.9" r="2.05"/><circle cx="201.7" cy="242.5" r="2.05"/><circle cx="186.9" cy="241.0" r="2.05"/><circle cx="336.4" cy="241.2" r="2.05"/><circle cx="245.8" cy="238.3" r="2.05"/><circle cx="255.2" cy="239.3" r="2.05"/><circle cx="225.4" cy="242.1" r="2.05"/><circle cx="239.1" cy="239.4" r="2.05"/><circle cx="226.8" cy="243.0" r="2.05"/><circle cx="231.5" cy="241.8" r="2.05"/><circle cx="326.6" cy="241.8" r="2.05"/><circle cx="189.3" cy="238.8" r="2.05"/><circle cx="235.6" cy="238.5" r="2.05"/><circle cx="239.5" cy="239.4" r="2.05"/><circle cx="202.2" cy="242.5" r="2.05"/><circle cx="231.1" cy="238.6" r="2.05"/><circle cx="183.5" cy="242.8" r="2.05"/><circle cx="198.6" cy="239.9" r="2.05"/><circle cx="204.2" cy="239.1" r="2.05"/><circle cx="258.9" cy="238.7" r="2.05"/><circle cx="182.5" cy="241.1" r="2.05"/><circle cx="190.2" cy="240.4" r="2.05"/><circle cx="189.5" cy="241.5" r="2.05"/><circle cx="208.8" cy="241.7" r="2.05"/><circle cx="206.8" cy="240.3" r="2.05"/><circle cx="193.7" cy="241.3" r="2.05"/><circle cx="190.3" cy="242.8" r="2.05"/><circle cx="242.3" cy="239.0" r="2.05"/><circle cx="260.5" cy="239.5" r="2.05"/><circle cx="236.0" cy="239.6" r="2.05"/><circle cx="352.1" cy="243.2" r="2.05"/><circle cx="219.7" cy="238.3" r="2.05"/><circle cx="188.9" cy="239.1" r="2.05"/><circle cx="213.2" cy="242.7" r="2.05"/><circle cx="218.0" cy="241.8" r="2.05"/><circle cx="237.1" cy="239.6" r="2.05"/><circle cx="222.3" cy="242.1" r="2.05"/><circle cx="211.3" cy="240.8" r="2.05"/><circle cx="278.7" cy="238.5" r="2.05"/><circle cx="177.2" cy="241.7" r="2.05"/><circle cx="226.0" cy="241.7" r="2.05"/><circle cx="223.4" cy="239.3" r="2.05"/><circle cx="285.8" cy="241.7" r="2.05"/><circle cx="204.8" cy="238.2" r="2.05"/><circle cx="198.2" cy="243.1" r="2.05"/><circle cx="227.7" cy="242.8" r="2.05"/><circle cx="193.2" cy="240.4" r="2.05"/><circle cx="326.4" cy="240.3" r="2.05"/><circle cx="267.6" cy="238.9" r="2.05"/><circle cx="211.5" cy="241.4" r="2.05"/><circle cx="224.5" cy="240.5" r="2.05"/><circle cx="190.5" cy="242.8" r="2.05"/><circle cx="219.5" cy="240.3" r="2.05"/><circle cx="278.8" cy="239.3" r="2.05"/><circle cx="181.3" cy="241.9" r="2.05"/><circle cx="165.4" cy="239.6" r="2.05"/><circle cx="234.4" cy="242.1" r="2.05"/><circle cx="190.4" cy="239.2" r="2.05"/><circle cx="260.1" cy="241.7" r="2.05"/><circle cx="230.2" cy="242.1" r="2.05"/><circle cx="289.5" cy="240.1" r="2.05"/><circle cx="243.8" cy="240.7" r="2.05"/><circle cx="218.9" cy="240.3" r="2.05"/><circle cx="185.2" cy="243.0" r="2.05"/><circle cx="289.6" cy="242.7" r="2.05"/><circle cx="203.2" cy="241.5" r="2.05"/><circle cx="219.7" cy="238.2" r="2.05"/><circle cx="216.8" cy="240.3" r="2.05"/><circle cx="242.0" cy="239.9" r="2.05"/><circle cx="188.6" cy="238.7" r="2.05"/><circle cx="180.9" cy="243.0" r="2.05"/><circle cx="208.8" cy="239.6" r="2.05"/><circle cx="244.0" cy="239.3" r="2.05"/><circle cx="191.0" cy="239.4" r="2.05"/><circle cx="203.7" cy="239.7" r="2.05"/><circle cx="210.8" cy="238.3" r="2.05"/><circle cx="259.4" cy="239.5" r="2.05"/><circle cx="179.1" cy="241.5" r="2.05"/><circle cx="231.7" cy="238.7" r="2.05"/><circle cx="235.8" cy="238.4" r="2.05"/><circle cx="240.7" cy="239.6" r="2.05"/><circle cx="241.2" cy="238.3" r="2.05"/><circle cx="229.2" cy="242.2" r="2.05"/><circle cx="175.5" cy="241.0" r="2.05"/><circle cx="242.8" cy="242.0" r="2.05"/><circle cx="240.2" cy="243.0" r="2.05"/><circle cx="229.9" cy="241.3" r="2.05"/><circle cx="240.8" cy="238.6" r="2.05"/><circle cx="206.0" cy="238.9" r="2.05"/><circle cx="286.7" cy="242.3" r="2.05"/><circle cx="198.6" cy="242.2" r="2.05"/><circle cx="255.5" cy="241.3" r="2.05"/><circle cx="262.8" cy="238.4" r="2.05"/><circle cx="322.2" cy="238.2" r="2.05"/><circle cx="183.5" cy="240.5" r="2.05"/><circle cx="263.5" cy="242.7" r="2.05"/><circle cx="246.4" cy="240.6" r="2.05"/><circle cx="193.4" cy="243.1" r="2.05"/><circle cx="181.7" cy="241.9" r="2.05"/><circle cx="219.0" cy="239.9" r="2.05"/><circle cx="232.9" cy="238.7" r="2.05"/><circle cx="325.4" cy="240.2" r="2.05"/><circle cx="230.6" cy="241.1" r="2.05"/><circle cx="188.9" cy="239.5" r="2.05"/><circle cx="243.8" cy="240.6" r="2.05"/><circle cx="245.5" cy="242.9" r="2.05"/><circle cx="258.7" cy="238.8" r="2.05"/><circle cx="252.1" cy="238.4" r="2.05"/><circle cx="186.1" cy="240.0" r="2.05"/><circle cx="203.4" cy="239.9" r="2.05"/><circle cx="287.2" cy="238.4" r="2.05"/><circle cx="222.2" cy="240.9" r="2.05"/><circle cx="281.7" cy="238.9" r="2.05"/><circle cx="354.5" cy="240.5" r="2.05"/><circle cx="319.5" cy="238.9" r="2.05"/></g>
<g fill="#9aff5d" stroke="#9aff5d"><circle cx="220.4" cy="236.5" r="2.05"/><circle cx="219.2" cy="237.9" r="2.05"/><circle cx="217.5" cy="234.4" r="2.05"/><circle cx="232.4" cy="237.4" r="2.05"/><circle cx="250.1" cy="236.7" r="2.05"/><circle cx="221.9" cy="234.2" r="2.05"/><circle cx="207.2" cy="237.6" r="2.05"/><circle cx="264.3" cy="237.7" r="2.05"/><circle cx="180.4" cy="237.0" r="2.05"/><circle cx="209.9" cy="235.6" r="2.05"/><circle cx="222.2" cy="235.1" r="2.05"/><circle cx="226.7" cy="235.7" r="2.05"/><circle cx="147.4" cy="237.5" r="2.05"/><circle cx="222.7" cy="234.2" r="2.05"/><circle cx="252.4" cy="233.6" r="2.05"/><circle cx="216.9" cy="234.6" r="2.05"/><circle cx="188.7" cy="237.1" r="2.05"/><circle cx="237.6" cy="236.9" r="2.05"/><circle cx="193.6" cy="236.4" r="2.05"/><circle cx="224.3" cy="237.3" r="2.05"/><circle cx="194.0" cy="237.2" r="2.05"/><circle cx="206.6" cy="237.6" r="2.05"/><circle cx="201.9" cy="238.0" r="2.05"/><circle cx="233.9" cy="238.1" r="2.05"/><circle cx="228.2" cy="235.9" r="2.05"/><circle cx="233.4" cy="234.2" r="2.05"/><circle cx="162.5" cy="236.6" r="2.05"/><circle cx="320.4" cy="237.1" r="2.05"/><circle cx="247.6" cy="237.0" r="2.05"/><circle cx="233.1" cy="234.8" r="2.05"/><circle cx="240.0" cy="234.7" r="2.05"/><circle cx="240.0" cy="238.1" r="2.05"/><circle cx="243.2" cy="235.3" r="2.05"/><circle cx="192.9" cy="238.0" r="2.05"/><circle cx="242.9" cy="235.8" r="2.05"/><circle cx="231.0" cy="235.8" r="2.05"/><circle cx="245.5" cy="235.8" r="2.05"/><circle cx="233.1" cy="233.5" r="2.05"/><circle cx="258.7" cy="237.1" r="2.05"/><circle cx="180.8" cy="235.6" r="2.05"/><circle cx="215.5" cy="234.4" r="2.05"/><circle cx="184.1" cy="237.1" r="2.05"/><circle cx="182.1" cy="235.9" r="2.05"/><circle cx="262.5" cy="233.5" r="2.05"/><circle cx="233.6" cy="236.1" r="2.05"/><circle cx="247.9" cy="236.3" r="2.05"/><circle cx="232.4" cy="236.7" r="2.05"/><circle cx="318.4" cy="235.7" r="2.05"/><circle cx="197.5" cy="234.6" r="2.05"/><circle cx="207.1" cy="235.2" r="2.05"/><circle cx="220.0" cy="235.9" r="2.05"/><circle cx="189.4" cy="235.4" r="2.05"/><circle cx="187.8" cy="238.0" r="2.05"/><circle cx="223.9" cy="235.8" r="2.05"/><circle cx="286.1" cy="237.1" r="2.05"/><circle cx="232.1" cy="234.1" r="2.05"/><circle cx="232.0" cy="238.0" r="2.05"/><circle cx="246.6" cy="236.5" r="2.05"/><circle cx="234.8" cy="233.6" r="2.05"/><circle cx="226.4" cy="233.7" r="2.05"/><circle cx="239.5" cy="237.9" r="2.05"/><circle cx="243.0" cy="233.3" r="2.05"/><circle cx="260.2" cy="235.3" r="2.05"/><circle cx="216.4" cy="237.9" r="2.05"/><circle cx="168.9" cy="234.6" r="2.05"/><circle cx="191.0" cy="235.8" r="2.05"/><circle cx="184.8" cy="235.8" r="2.05"/><circle cx="299.5" cy="235.2" r="2.05"/><circle cx="192.3" cy="234.1" r="2.05"/><circle cx="224.7" cy="233.8" r="2.05"/><circle cx="233.2" cy="233.7" r="2.05"/><circle cx="221.0" cy="237.8" r="2.05"/><circle cx="187.3" cy="235.2" r="2.05"/><circle cx="243.7" cy="236.2" r="2.05"/><circle cx="275.0" cy="238.1" r="2.05"/><circle cx="252.8" cy="236.1" r="2.05"/><circle cx="246.8" cy="234.4" r="2.05"/><circle cx="236.9" cy="236.6" r="2.05"/><circle cx="186.4" cy="235.3" r="2.05"/><circle cx="212.8" cy="237.4" r="2.05"/><circle cx="198.5" cy="235.4" r="2.05"/><circle cx="231.6" cy="235.2" r="2.05"/><circle cx="235.2" cy="236.1" r="2.05"/><circle cx="186.4" cy="234.5" r="2.05"/><circle cx="133.3" cy="237.8" r="2.05"/><circle cx="215.9" cy="236.1" r="2.05"/><circle cx="264.1" cy="238.0" r="2.05"/><circle cx="242.9" cy="236.8" r="2.05"/><circle cx="258.6" cy="236.7" r="2.05"/><circle cx="240.9" cy="233.3" r="2.05"/><circle cx="259.2" cy="233.7" r="2.05"/><circle cx="221.6" cy="235.2" r="2.05"/><circle cx="264.6" cy="235.4" r="2.05"/><circle cx="205.9" cy="233.8" r="2.05"/><circle cx="259.7" cy="234.6" r="2.05"/><circle cx="225.8" cy="236.9" r="2.05"/><circle cx="179.6" cy="235.8" r="2.05"/><circle cx="243.0" cy="236.0" r="2.05"/><circle cx="248.9" cy="236.6" r="2.05"/><circle cx="239.1" cy="236.1" r="2.05"/><circle cx="230.7" cy="235.9" r="2.05"/><circle cx="234.0" cy="235.2" r="2.05"/><circle cx="235.0" cy="234.2" r="2.05"/><circle cx="206.1" cy="235.5" r="2.05"/><circle cx="241.6" cy="235.8" r="2.05"/><circle cx="238.3" cy="236.7" r="2.05"/><circle cx="191.8" cy="233.4" r="2.05"/><circle cx="237.2" cy="234.3" r="2.05"/><circle cx="224.4" cy="235.4" r="2.05"/><circle cx="239.4" cy="235.6" r="2.05"/><circle cx="189.1" cy="237.9" r="2.05"/><circle cx="237.5" cy="233.7" r="2.05"/><circle cx="191.7" cy="235.0" r="2.05"/><circle cx="221.8" cy="237.0" r="2.05"/><circle cx="158.5" cy="235.6" r="2.05"/></g>
<g fill="#a4ff53" stroke="#a4ff53"><circle cx="234.1" cy="231.8" r="2.05"/><circle cx="256.1" cy="232.7" r="2.05"/><circle cx="232.3" cy="229.1" r="2.05"/><circle cx="244.7" cy="231.6" r="2.05"/><circle cx="239.8" cy="231.8" r="2.05"/><circle cx="234.2" cy="229.9" r="2.05"/><circle cx="171.8" cy="232.1" r="2.05"/><circle cx="206.0" cy="229.0" r="2.05"/><circle cx="241.9" cy="229.1" r="2.05"/><circle cx="221.7" cy="233.0" r="2.05"/><circle cx="234.7" cy="228.6" r="2.05"/><circle cx="249.6" cy="228.3" r="2.05"/><circle cx="244.9" cy="230.0" r="2.05"/><circle cx="209.7" cy="231.5" r="2.05"/><circle cx="238.1" cy="228.6" r="2.05"/><circle cx="179.2" cy="228.5" r="2.05"/><circle cx="212.0" cy="231.8" r="2.05"/><circle cx="257.0" cy="228.6" r="2.05"/><circle cx="275.0" cy="228.1" r="2.05"/><circle cx="258.9" cy="231.7" r="2.05"/><circle cx="232.6" cy="229.5" r="2.05"/><circle cx="252.7" cy="228.9" r="2.05"/><circle cx="216.4" cy="228.9" r="2.05"/><circle cx="215.8" cy="233.0" r="2.05"/><circle cx="253.9" cy="231.4" r="2.05"/><circle cx="261.2" cy="230.1" r="2.05"/><circle cx="185.3" cy="229.0" r="2.05"/><circle cx="157.0" cy="231.6" r="2.05"/><circle cx="218.1" cy="231.0" r="2.05"/><circle cx="239.8" cy="231.6" r="2.05"/><circle cx="241.5" cy="230.4" r="2.05"/><circle cx="188.1" cy="232.6" r="2.05"/><circle cx="207.2" cy="230.7" r="2.05"/><circle cx="305.0" cy="230.7" r="2.05"/><circle cx="253.8" cy="232.3" r="2.05"/><circle cx="252.0" cy="230.9" r="2.05"/><circle cx="283.1" cy="231.3" r="2.05"/><circle cx="209.0" cy="232.4" r="2.05"/><circle cx="221.3" cy="230.4" r="2.05"/><circle cx="217.2" cy="233.1" r="2.05"/><circle cx="250.5" cy="229.3" r="2.05"/><circle cx="277.9" cy="230.0" r="2.05"/><circle cx="262.4" cy="231.9" r="2.05"/><circle cx="167.7" cy="232.7" r="2.05"/><circle cx="262.4" cy="232.6" r="2.05"/><circle cx="237.4" cy="232.4" r="2.05"/><circle cx="209.7" cy="231.9" r="2.05"/><circle cx="245.5" cy="231.8" r="2.05"/><circle cx="217.7" cy="229.3" r="2.05"/><circle cx="229.1" cy="230.6" r="2.05"/><circle cx="220.9" cy="228.4" r="2.05"/><circle cx="220.9" cy="228.6" r="2.05"/><circle cx="170.3" cy="228.5" r="2.05"/><circle cx="206.6" cy="232.8" r="2.05"/><circle cx="218.9" cy="229.3" r="2.05"/><circle cx="246.9" cy="230.7" r="2.05"/><circle cx="263.9" cy="231.3" r="2.05"/><circle cx="280.5" cy="229.4" r="2.05"/><circle cx="207.0" cy="228.5" r="2.05"/><circle cx="193.0" cy="232.3" r="2.05"/><circle cx="251.6" cy="230.9" r="2.05"/><circle cx="208.5" cy="231.7" r="2.05"/><circle cx="244.6" cy="229.4" r="2.05"/><circle cx="231.9" cy="229.6" r="2.05"/><circle cx="242.7" cy="230.9" r="2.05"/><circle cx="238.5" cy="232.6" r="2.05"/><circle cx="200.4" cy="231.5" r="2.05"/><circle cx="180.3" cy="232.2" r="2.05"/><circle cx="246.2" cy="230.9" r="2.05"/><circle cx="221.2" cy="231.9" r="2.05"/><circle cx="217.5" cy="232.0" r="2.05"/><circle cx="205.3" cy="230.1" r="2.05"/><circle cx="259.5" cy="229.6" r="2.05"/><circle cx="234.9" cy="229.4" r="2.05"/><circle cx="236.6" cy="230.1" r="2.05"/><circle cx="256.4" cy="233.1" r="2.05"/><circle cx="198.3" cy="228.9" r="2.05"/><circle cx="234.7" cy="229.1" r="2.05"/><circle cx="252.0" cy="230.8" r="2.05"/><circle cx="216.5" cy="230.9" r="2.05"/><circle cx="235.8" cy="228.8" r="2.05"/><circle cx="180.9" cy="228.2" r="2.05"/><circle cx="248.3" cy="230.8" r="2.05"/><circle cx="223.0" cy="232.7" r="2.05"/><circle cx="234.0" cy="230.9" r="2.05"/><circle cx="261.8" cy="233.1" r="2.05"/><circle cx="248.8" cy="230.6" r="2.05"/><circle cx="231.0" cy="231.8" r="2.05"/><circle cx="196.8" cy="232.1" r="2.05"/><circle cx="325.0" cy="230.7" r="2.05"/><circle cx="260.8" cy="233.1" r="2.05"/><circle cx="232.9" cy="232.1" r="2.05"/><circle cx="220.6" cy="231.4" r="2.05"/><circle cx="264.5" cy="230.4" r="2.05"/><circle cx="218.5" cy="232.7" r="2.05"/><circle cx="236.0" cy="230.6" r="2.05"/><circle cx="344.7" cy="231.7" r="2.05"/><circle cx="147.1" cy="229.0" r="2.05"/></g>
<g fill="#aaff4d" stroke="#aaff4d"><circle cx="200.4" cy="226.7" r="2.05"/><circle cx="209.8" cy="225.3" r="2.05"/><circle cx="231.6" cy="224.0" r="2.05"/><circle cx="263.7" cy="224.2" r="2.05"/><circle cx="235.8" cy="226.5" r="2.05"/><circle cx="279.6" cy="224.4" r="2.05"/><circle cx="169.3" cy="223.4" r="2.05"/><circle cx="189.1" cy="223.4" r="2.05"/><circle cx="281.1" cy="228.0" r="2.05"/><circle cx="276.3" cy="225.8" r="2.05"/><circle cx="243.5" cy="224.9" r="2.05"/><circle cx="262.9" cy="223.5" r="2.05"/><circle cx="235.3" cy="227.3" r="2.05"/><circle cx="311.6" cy="226.7" r="2.05"/><circle cx="246.5" cy="226.3" r="2.05"/><circle cx="242.5" cy="223.6" r="2.05"/><circle cx="224.7" cy="223.9" r="2.05"/><circle cx="246.4" cy="225.2" r="2.05"/><circle cx="252.8" cy="225.9" r="2.05"/><circle cx="223.7" cy="226.5" r="2.05"/><circle cx="225.0" cy="223.2" r="2.05"/><circle cx="250.8" cy="224.5" r="2.05"/><circle cx="226.7" cy="224.0" r="2.05"/><circle cx="264.0" cy="226.4" r="2.05"/><circle cx="246.9" cy="226.3" r="2.05"/><circle cx="247.6" cy="223.6" r="2.05"/><circle cx="226.4" cy="224.9" r="2.05"/><circle cx="258.4" cy="226.8" r="2.05"/><circle cx="240.1" cy="225.9" r="2.05"/><circle cx="228.1" cy="226.3" r="2.05"/><circle cx="195.0" cy="225.5" r="2.05"/><circle cx="237.8" cy="224.7" r="2.05"/><circle cx="273.9" cy="224.7" r="2.05"/><circle cx="224.9" cy="223.9" r="2.05"/><circle cx="243.6" cy="223.2" r="2.05"/><circle cx="233.8" cy="227.9" r="2.05"/><circle cx="278.8" cy="225.8" r="2.05"/><circle cx="285.3" cy="224.3" r="2.05"/><circle cx="191.1" cy="226.2" r="2.05"/><circle cx="239.9" cy="227.6" r="2.05"/><circle cx="243.4" cy="226.5" r="2.05"/><circle cx="209.4" cy="225.9" r="2.05"/><circle cx="220.6" cy="225.8" r="2.05"/><circle cx="201.7" cy="228.1" r="2.05"/><circle cx="252.4" cy="225.4" r="2.05"/><circle cx="254.4" cy="227.5" r="2.05"/><circle cx="244.3" cy="227.0" r="2.05"/><circle cx="241.0" cy="224.6" r="2.05"/><circle cx="256.8" cy="228.1" r="2.05"/><circle cx="166.5" cy="224.3" r="2.05"/><circle cx="240.0" cy="224.0" r="2.05"/><circle cx="237.8" cy="223.2" r="2.05"/><circle cx="242.3" cy="226.0" r="2.05"/><circle cx="229.6" cy="224.6" r="2.05"/><circle cx="250.6" cy="225.9" r="2.05"/><circle cx="292.4" cy="223.5" r="2.05"/><circle cx="250.2" cy="223.5" r="2.05"/><circle cx="235.8" cy="225.7" r="2.05"/><circle cx="250.0" cy="224.2" r="2.05"/><circle cx="252.0" cy="226.6" r="2.05"/><circle cx="252.8" cy="227.0" r="2.05"/><circle cx="204.4" cy="225.7" r="2.05"/><circle cx="256.9" cy="225.9" r="2.05"/><circle cx="231.8" cy="225.0" r="2.05"/><circle cx="242.9" cy="223.2" r="2.05"/><circle cx="237.1" cy="223.3" r="2.05"/><circle cx="262.8" cy="228.0" r="2.05"/><circle cx="252.5" cy="224.5" r="2.05"/><circle cx="237.1" cy="223.2" r="2.05"/><circle cx="252.3" cy="223.7" r="2.05"/><circle cx="238.5" cy="223.9" r="2.05"/><circle cx="224.3" cy="224.0" r="2.05"/><circle cx="244.9" cy="224.3" r="2.05"/><circle cx="241.2" cy="227.0" r="2.05"/><circle cx="258.3" cy="223.2" r="2.05"/><circle cx="229.4" cy="224.1" r="2.05"/><circle cx="231.4" cy="223.2" r="2.05"/><circle cx="208.6" cy="223.2" r="2.05"/><circle cx="263.9" cy="223.4" r="2.05"/><circle cx="239.7" cy="223.6" r="2.05"/><circle cx="282.4" cy="223.5" r="2.05"/><circle cx="237.0" cy="225.6" r="2.05"/><circle cx="247.1" cy="224.8" r="2.05"/><circle cx="241.6" cy="228.1" r="2.05"/><circle cx="226.7" cy="225.7" r="2.05"/><circle cx="223.8" cy="223.7" r="2.05"/><circle cx="226.1" cy="223.8" r="2.05"/><circle cx="287.1" cy="226.1" r="2.05"/><circle cx="245.5" cy="226.9" r="2.05"/><circle cx="263.2" cy="225.8" r="2.05"/><circle cx="239.9" cy="223.6" r="2.05"/><circle cx="249.0" cy="225.7" r="2.05"/><circle cx="222.6" cy="227.4" r="2.05"/><circle cx="237.4" cy="225.2" r="2.05"/><circle cx="234.9" cy="227.3" r="2.05"/><circle cx="247.6" cy="223.4" r="2.05"/><circle cx="244.1" cy="223.4" r="2.05"/><circle cx="262.1" cy="226.7" r="2.05"/><circle cx="245.1" cy="224.8" r="2.05"/><circle cx="222.9" cy="223.7" r="2.05"/><circle cx="205.8" cy="228.0" r="2.05"/><circle cx="217.3" cy="224.2" r="2.05"/><circle cx="244.7" cy="224.1" r="2.05"/><circle cx="179.4" cy="226.6" r="2.05"/><circle cx="209.9" cy="225.3" r="2.05"/><circle cx="228.4" cy="226.7" r="2.05"/><circle cx="369.3" cy="226.8" r="2.05"/><circle cx="333.3" cy="227.4" r="2.05"/></g>
<g fill="#b4ff43" stroke="#b4ff43"><circle cx="238.9" cy="219.7" r="2.05"/><circle cx="193.2" cy="222.3" r="2.05"/><circle cx="272.0" cy="220.7" r="2.05"/><circle cx="230.7" cy="222.6" r="2.05"/><circle cx="195.3" cy="222.4" r="2.05"/><circle cx="246.7" cy="218.8" r="2.05"/><circle cx="256.7" cy="221.8" r="2.05"/><circle cx="254.4" cy="223.1" r="2.05"/><circle cx="188.0" cy="218.7" r="2.05"/><circle cx="255.1" cy="222.7" r="2.05"/><circle cx="229.1" cy="220.2" r="2.05"/><circle cx="194.1" cy="219.5" r="2.05"/><circle cx="228.9" cy="221.7" r="2.05"/><circle cx="242.6" cy="220.6" r="2.05"/><circle cx="241.3" cy="222.9" r="2.05"/><circle cx="230.1" cy="218.4" r="2.05"/><circle cx="198.5" cy="221.2" r="2.05"/><circle cx="234.2" cy="219.8" r="2.05"/><circle cx="253.0" cy="221.0" r="2.05"/><circle cx="193.1" cy="221.1" r="2.05"/><circle cx="271.9" cy="221.9" r="2.05"/><circle cx="205.5" cy="221.4" r="2.05"/><circle cx="276.5" cy="220.6" r="2.05"/><circle cx="264.9" cy="219.1" r="2.05"/><circle cx="244.9" cy="221.4" r="2.05"/><circle cx="273.8" cy="219.2" r="2.05"/><circle cx="192.1" cy="222.6" r="2.05"/><circle cx="310.8" cy="222.3" r="2.05"/><circle cx="225.4" cy="221.3" r="2.05"/><circle cx="235.5" cy="223.1" r="2.05"/><circle cx="240.3" cy="223.1" r="2.05"/><circle cx="229.9" cy="218.9" r="2.05"/><circle cx="205.8" cy="220.8" r="2.05"/><circle cx="223.7" cy="218.7" r="2.05"/><circle cx="194.3" cy="222.0" r="2.05"/><circle cx="196.9" cy="219.6" r="2.05"/><circle cx="237.1" cy="220.5" r="2.05"/><circle cx="195.0" cy="220.2" r="2.05"/><circle cx="232.4" cy="218.2" r="2.05"/><circle cx="237.5" cy="220.3" r="2.05"/><circle cx="181.0" cy="222.7" r="2.05"/><circle cx="238.1" cy="222.5" r="2.05"/><circle cx="226.7" cy="220.2" r="2.05"/><circle cx="263.8" cy="221.1" r="2.05"/><circle cx="228.0" cy="222.0" r="2.05"/><circle cx="217.3" cy="220.2" r="2.05"/><circle cx="191.8" cy="221.5" r="2.05"/><circle cx="258.2" cy="222.3" r="2.05"/><circle cx="219.7" cy="219.5" r="2.05"/><circle cx="199.8" cy="221.2" r="2.05"/><circle cx="261.0" cy="219.4" r="2.05"/><circle cx="246.7" cy="221.2" r="2.05"/><circle cx="259.6" cy="218.7" r="2.05"/><circle cx="222.7" cy="223.0" r="2.05"/><circle cx="190.5" cy="218.8" r="2.05"/><circle cx="261.0" cy="219.6" r="2.05"/><circle cx="233.7" cy="219.8" r="2.05"/><circle cx="246.8" cy="221.1" r="2.05"/><circle cx="263.2" cy="219.0" r="2.05"/><circle cx="232.5" cy="222.3" r="2.05"/><circle cx="266.6" cy="220.8" r="2.05"/><circle cx="191.9" cy="218.9" r="2.05"/><circle cx="272.5" cy="219.2" r="2.05"/><circle cx="224.8" cy="222.2" r="2.05"/><circle cx="255.5" cy="222.4" r="2.05"/><circle cx="207.1" cy="222.5" r="2.05"/><circle cx="252.1" cy="223.0" r="2.05"/><circle cx="195.3" cy="218.5" r="2.05"/><circle cx="196.6" cy="222.3" r="2.05"/><circle cx="240.9" cy="219.6" r="2.05"/><circle cx="259.0" cy="222.0" r="2.05"/><circle cx="229.5" cy="222.5" r="2.05"/><circle cx="400.5" cy="220.9" r="2.05"/><circle cx="341.4" cy="220.9" r="2.05"/><circle cx="327.7" cy="221.9" r="2.05"/></g>
<g fill="#beff39" stroke="#beff39"><circle cx="233.2" cy="217.3" r="2.05"/><circle cx="252.2" cy="216.8" r="2.05"/><circle cx="261.1" cy="213.3" r="2.05"/><circle cx="251.0" cy="217.5" r="2.05"/><circle cx="188.9" cy="217.6" r="2.05"/><circle cx="239.4" cy="217.8" r="2.05"/><circle cx="242.1" cy="215.0" r="2.05"/><circle cx="185.0" cy="214.7" r="2.05"/><circle cx="256.0" cy="214.5" r="2.05"/><circle cx="240.4" cy="213.9" r="2.05"/><circle cx="244.9" cy="217.0" r="2.05"/><circle cx="221.7" cy="217.1" r="2.05"/><circle cx="225.4" cy="217.5" r="2.05"/><circle cx="237.2" cy="217.2" r="2.05"/><circle cx="248.1" cy="214.8" r="2.05"/><circle cx="235.4" cy="214.4" r="2.05"/><circle cx="213.4" cy="214.5" r="2.05"/><circle cx="199.7" cy="215.0" r="2.05"/><circle cx="259.6" cy="214.1" r="2.05"/><circle cx="250.8" cy="216.7" r="2.05"/><circle cx="231.6" cy="216.7" r="2.05"/><circle cx="176.0" cy="217.1" r="2.05"/><circle cx="240.2" cy="214.6" r="2.05"/><circle cx="290.5" cy="217.8" r="2.05"/><circle cx="235.9" cy="215.9" r="2.05"/><circle cx="204.0" cy="217.3" r="2.05"/><circle cx="238.4" cy="216.8" r="2.05"/><circle cx="230.1" cy="217.2" r="2.05"/><circle cx="264.3" cy="213.1" r="2.05"/><circle cx="232.1" cy="216.1" r="2.05"/><circle cx="232.2" cy="213.5" r="2.05"/><circle cx="205.5" cy="216.1" r="2.05"/><circle cx="241.4" cy="213.8" r="2.05"/><circle cx="242.8" cy="213.8" r="2.05"/><circle cx="223.2" cy="217.1" r="2.05"/><circle cx="245.0" cy="216.1" r="2.05"/><circle cx="234.7" cy="215.5" r="2.05"/><circle cx="152.9" cy="215.4" r="2.05"/><circle cx="230.9" cy="214.3" r="2.05"/><circle cx="192.8" cy="215.3" r="2.05"/><circle cx="250.3" cy="215.7" r="2.05"/><circle cx="236.3" cy="215.7" r="2.05"/><circle cx="278.7" cy="214.3" r="2.05"/><circle cx="250.0" cy="216.4" r="2.05"/><circle cx="224.1" cy="214.7" r="2.05"/><circle cx="269.7" cy="213.8" r="2.05"/><circle cx="261.6" cy="213.6" r="2.05"/><circle cx="244.0" cy="213.3" r="2.05"/><circle cx="258.3" cy="214.1" r="2.05"/><circle cx="234.1" cy="216.8" r="2.05"/><circle cx="269.2" cy="213.7" r="2.05"/><circle cx="230.6" cy="215.6" r="2.05"/><circle cx="189.7" cy="216.2" r="2.05"/><circle cx="225.7" cy="216.7" r="2.05"/><circle cx="251.8" cy="216.3" r="2.05"/><circle cx="211.7" cy="214.5" r="2.05"/><circle cx="250.9" cy="217.0" r="2.05"/><circle cx="233.7" cy="216.6" r="2.05"/><circle cx="234.5" cy="215.8" r="2.05"/><circle cx="233.3" cy="218.0" r="2.05"/><circle cx="225.8" cy="214.6" r="2.05"/><circle cx="222.6" cy="215.5" r="2.05"/><circle cx="262.8" cy="216.6" r="2.05"/><circle cx="247.0" cy="217.6" r="2.05"/><circle cx="224.3" cy="216.9" r="2.05"/><circle cx="237.0" cy="217.7" r="2.05"/><circle cx="225.0" cy="216.0" r="2.05"/><circle cx="230.1" cy="214.6" r="2.05"/><circle cx="232.9" cy="217.7" r="2.05"/><circle cx="256.8" cy="213.8" r="2.05"/><circle cx="222.2" cy="216.8" r="2.05"/><circle cx="239.1" cy="217.2" r="2.05"/><circle cx="161.1" cy="217.9" r="2.05"/><circle cx="236.3" cy="213.2" r="2.05"/><circle cx="265.6" cy="213.4" r="2.05"/><circle cx="168.4" cy="214.4" r="2.05"/></g>
<g fill="#c4ff33" stroke="#c4ff33"><circle cx="185.1" cy="212.9" r="2.05"/><circle cx="232.7" cy="213.0" r="2.05"/><circle cx="247.9" cy="212.3" r="2.05"/><circle cx="246.6" cy="210.7" r="2.05"/><circle cx="233.5" cy="212.5" r="2.05"/><circle cx="272.9" cy="212.9" r="2.05"/><circle cx="258.4" cy="212.1" r="2.05"/><circle cx="226.1" cy="213.0" r="2.05"/><circle cx="291.2" cy="208.5" r="2.05"/><circle cx="264.2" cy="212.2" r="2.05"/><circle cx="199.1" cy="210.1" r="2.05"/><circle cx="269.5" cy="209.1" r="2.05"/><circle cx="238.9" cy="212.4" r="2.05"/><circle cx="206.0" cy="212.7" r="2.05"/><circle cx="235.4" cy="212.1" r="2.05"/><circle cx="251.2" cy="212.9" r="2.05"/><circle cx="252.1" cy="208.8" r="2.05"/><circle cx="234.5" cy="208.7" r="2.05"/><circle cx="205.9" cy="212.9" r="2.05"/><circle cx="233.2" cy="210.6" r="2.05"/><circle cx="275.5" cy="208.1" r="2.05"/><circle cx="267.9" cy="212.0" r="2.05"/><circle cx="237.1" cy="209.3" r="2.05"/><circle cx="239.9" cy="208.1" r="2.05"/><circle cx="280.2" cy="208.6" r="2.05"/><circle cx="278.5" cy="208.6" r="2.05"/><circle cx="201.0" cy="209.5" r="2.05"/><circle cx="226.6" cy="212.4" r="2.05"/><circle cx="274.1" cy="210.4" r="2.05"/><circle cx="206.2" cy="210.9" r="2.05"/><circle cx="236.1" cy="211.3" r="2.05"/><circle cx="261.0" cy="210.9" r="2.05"/><circle cx="239.0" cy="208.8" r="2.05"/><circle cx="241.4" cy="208.2" r="2.05"/><circle cx="233.1" cy="211.5" r="2.05"/><circle cx="300.1" cy="211.8" r="2.05"/><circle cx="265.5" cy="208.2" r="2.05"/><circle cx="296.4" cy="210.1" r="2.05"/><circle cx="257.2" cy="209.4" r="2.05"/><circle cx="229.4" cy="211.1" r="2.05"/><circle cx="236.2" cy="210.6" r="2.05"/><circle cx="246.0" cy="208.9" r="2.05"/><circle cx="250.7" cy="208.7" r="2.05"/><circle cx="245.6" cy="208.1" r="2.05"/><circle cx="259.9" cy="213.0" r="2.05"/><circle cx="238.5" cy="211.1" r="2.05"/><circle cx="243.1" cy="211.2" r="2.05"/><circle cx="200.2" cy="210.0" r="2.05"/><circle cx="237.1" cy="212.8" r="2.05"/><circle cx="179.3" cy="209.6" r="2.05"/><circle cx="222.2" cy="212.0" r="2.05"/><circle cx="147.0" cy="209.6" r="2.05"/><circle cx="193.7" cy="212.7" r="2.05"/><circle cx="275.2" cy="209.7" r="2.05"/><circle cx="233.4" cy="209.8" r="2.05"/><circle cx="248.9" cy="211.9" r="2.05"/><circle cx="249.8" cy="212.6" r="2.05"/><circle cx="232.2" cy="208.1" r="2.05"/><circle cx="276.2" cy="211.4" r="2.05"/><circle cx="254.9" cy="210.7" r="2.05"/><circle cx="223.0" cy="212.8" r="2.05"/><circle cx="233.6" cy="209.4" r="2.05"/><circle cx="212.1" cy="209.8" r="2.05"/><circle cx="236.3" cy="209.9" r="2.05"/><circle cx="229.1" cy="211.2" r="2.05"/><circle cx="190.9" cy="210.0" r="2.05"/><circle cx="238.0" cy="209.3" r="2.05"/><circle cx="253.1" cy="208.1" r="2.05"/><circle cx="209.6" cy="210.4" r="2.05"/><circle cx="342.7" cy="208.6" r="2.05"/><circle cx="279.1" cy="208.4" r="2.05"/><circle cx="240.6" cy="211.9" r="2.05"/><circle cx="225.6" cy="212.3" r="2.05"/><circle cx="242.0" cy="209.6" r="2.05"/><circle cx="274.1" cy="208.2" r="2.05"/><circle cx="225.6" cy="211.6" r="2.05"/><circle cx="248.9" cy="209.3" r="2.05"/><circle cx="187.0" cy="211.0" r="2.05"/><circle cx="257.3" cy="210.8" r="2.05"/><circle cx="240.5" cy="210.9" r="2.05"/><circle cx="238.9" cy="208.3" r="2.05"/><circle cx="300.9" cy="210.4" r="2.05"/><circle cx="239.5" cy="212.0" r="2.05"/><circle cx="210.6" cy="212.1" r="2.05"/><circle cx="285.2" cy="211.8" r="2.05"/><circle cx="240.9" cy="210.1" r="2.05"/><circle cx="318.5" cy="212.1" r="2.05"/><circle cx="339.8" cy="211.1" r="2.05"/></g>
<g fill="#ceff29" stroke="#ceff29"><circle cx="273.4" cy="206.4" r="2.05"/><circle cx="204.1" cy="204.2" r="2.05"/><circle cx="249.5" cy="203.4" r="2.05"/><circle cx="272.0" cy="205.5" r="2.05"/><circle cx="249.8" cy="204.5" r="2.05"/><circle cx="230.7" cy="207.9" r="2.05"/><circle cx="236.9" cy="203.7" r="2.05"/><circle cx="159.3" cy="203.2" r="2.05"/><circle cx="211.1" cy="204.7" r="2.05"/><circle cx="193.0" cy="207.7" r="2.05"/><circle cx="251.6" cy="204.1" r="2.05"/><circle cx="262.6" cy="207.2" r="2.05"/><circle cx="250.1" cy="204.2" r="2.05"/><circle cx="247.9" cy="204.7" r="2.05"/><circle cx="271.5" cy="203.5" r="2.05"/><circle cx="277.2" cy="207.3" r="2.05"/><circle cx="233.3" cy="204.5" r="2.05"/><circle cx="153.2" cy="206.0" r="2.05"/><circle cx="214.0" cy="205.1" r="2.05"/><circle cx="227.0" cy="203.1" r="2.05"/><circle cx="300.9" cy="205.2" r="2.05"/><circle cx="215.5" cy="204.2" r="2.05"/><circle cx="263.1" cy="203.8" r="2.05"/><circle cx="181.6" cy="204.6" r="2.05"/><circle cx="213.6" cy="205.4" r="2.05"/><circle cx="254.8" cy="203.7" r="2.05"/><circle cx="251.3" cy="204.0" r="2.05"/><circle cx="244.1" cy="203.8" r="2.05"/><circle cx="236.5" cy="203.6" r="2.05"/><circle cx="218.0" cy="206.3" r="2.05"/><circle cx="250.4" cy="205.4" r="2.05"/><circle cx="213.3" cy="203.3" r="2.05"/><circle cx="250.4" cy="205.6" r="2.05"/><circle cx="269.1" cy="205.9" r="2.05"/><circle cx="233.2" cy="204.7" r="2.05"/><circle cx="329.0" cy="203.1" r="2.05"/><circle cx="208.5" cy="207.7" r="2.05"/><circle cx="236.7" cy="207.7" r="2.05"/><circle cx="240.5" cy="203.1" r="2.05"/><circle cx="241.4" cy="205.3" r="2.05"/><circle cx="235.7" cy="207.3" r="2.05"/><circle cx="240.9" cy="207.3" r="2.05"/><circle cx="268.0" cy="207.4" r="2.05"/><circle cx="213.5" cy="204.5" r="2.05"/><circle cx="242.5" cy="205.0" r="2.05"/><circle cx="255.9" cy="205.9" r="2.05"/><circle cx="240.3" cy="207.5" r="2.05"/><circle cx="233.2" cy="204.5" r="2.05"/><circle cx="340.9" cy="206.1" r="2.05"/><circle cx="249.0" cy="205.5" r="2.05"/><circle cx="244.6" cy="206.1" r="2.05"/><circle cx="239.5" cy="207.4" r="2.05"/><circle cx="250.9" cy="203.5" r="2.05"/><circle cx="253.6" cy="206.7" r="2.05"/><circle cx="253.5" cy="204.3" r="2.05"/><circle cx="214.2" cy="205.3" r="2.05"/><circle cx="246.0" cy="203.7" r="2.05"/><circle cx="220.1" cy="203.6" r="2.05"/><circle cx="277.5" cy="206.3" r="2.05"/><circle cx="253.2" cy="206.8" r="2.05"/><circle cx="250.5" cy="207.4" r="2.05"/><circle cx="236.7" cy="204.9" r="2.05"/><circle cx="177.5" cy="203.3" r="2.05"/><circle cx="211.4" cy="205.2" r="2.05"/><circle cx="278.9" cy="206.0" r="2.05"/><circle cx="248.3" cy="204.6" r="2.05"/><circle cx="246.8" cy="206.8" r="2.05"/><circle cx="247.1" cy="205.6" r="2.05"/><circle cx="247.3" cy="207.0" r="2.05"/><circle cx="227.1" cy="205.7" r="2.05"/><circle cx="270.5" cy="206.0" r="2.05"/><circle cx="250.3" cy="204.9" r="2.05"/><circle cx="253.1" cy="206.6" r="2.05"/><circle cx="216.8" cy="203.1" r="2.05"/><circle cx="241.4" cy="203.1" r="2.05"/><circle cx="236.2" cy="205.8" r="2.05"/><circle cx="278.7" cy="203.9" r="2.05"/><circle cx="203.7" cy="205.6" r="2.05"/><circle cx="233.1" cy="205.4" r="2.05"/><circle cx="275.6" cy="204.7" r="2.05"/><circle cx="201.0" cy="206.8" r="2.05"/><circle cx="326.7" cy="206.2" r="2.05"/><circle cx="163.4" cy="207.8" r="2.05"/><circle cx="174.9" cy="204.5" r="2.05"/></g>
<g fill="#d7ff1f" stroke="#d7ff1f"><circle cx="240.6" cy="202.3" r="2.05"/><circle cx="237.8" cy="199.9" r="2.05"/><circle cx="280.5" cy="201.5" r="2.05"/><circle cx="255.2" cy="198.8" r="2.05"/><circle cx="238.9" cy="198.7" r="2.05"/><circle cx="200.2" cy="199.4" r="2.05"/><circle cx="279.3" cy="198.9" r="2.05"/><circle cx="228.0" cy="198.2" r="2.05"/><circle cx="239.5" cy="198.8" r="2.05"/><circle cx="213.2" cy="199.7" r="2.05"/><circle cx="219.8" cy="201.9" r="2.05"/><circle cx="253.3" cy="202.3" r="2.05"/><circle cx="231.6" cy="199.0" r="2.05"/><circle cx="213.7" cy="201.4" r="2.05"/><circle cx="207.0" cy="202.8" r="2.05"/><circle cx="239.6" cy="199.7" r="2.05"/><circle cx="276.8" cy="202.1" r="2.05"/><circle cx="241.4" cy="199.4" r="2.05"/><circle cx="214.4" cy="200.0" r="2.05"/><circle cx="251.6" cy="198.9" r="2.05"/><circle cx="246.9" cy="202.9" r="2.05"/><circle cx="275.3" cy="200.2" r="2.05"/><circle cx="244.4" cy="200.3" r="2.05"/><circle cx="221.5" cy="199.8" r="2.05"/><circle cx="233.6" cy="200.8" r="2.05"/><circle cx="217.8" cy="202.4" r="2.05"/><circle cx="167.0" cy="200.3" r="2.05"/><circle cx="197.2" cy="200.8" r="2.05"/><circle cx="244.9" cy="199.4" r="2.05"/><circle cx="300.4" cy="200.7" r="2.05"/><circle cx="243.6" cy="202.2" r="2.05"/><circle cx="261.6" cy="199.6" r="2.05"/><circle cx="248.0" cy="201.4" r="2.05"/><circle cx="236.0" cy="202.0" r="2.05"/><circle cx="278.4" cy="201.7" r="2.05"/><circle cx="275.6" cy="199.3" r="2.05"/><circle cx="263.7" cy="199.3" r="2.05"/><circle cx="241.6" cy="201.6" r="2.05"/><circle cx="262.3" cy="200.8" r="2.05"/><circle cx="249.0" cy="202.1" r="2.05"/><circle cx="262.8" cy="200.7" r="2.05"/><circle cx="258.2" cy="199.1" r="2.05"/><circle cx="235.1" cy="198.6" r="2.05"/><circle cx="217.0" cy="199.4" r="2.05"/><circle cx="256.8" cy="202.5" r="2.05"/><circle cx="194.7" cy="200.6" r="2.05"/><circle cx="264.3" cy="198.9" r="2.05"/><circle cx="206.3" cy="201.5" r="2.05"/><circle cx="249.4" cy="200.9" r="2.05"/><circle cx="238.5" cy="201.5" r="2.05"/><circle cx="240.7" cy="199.0" r="2.05"/><circle cx="202.4" cy="200.8" r="2.05"/><circle cx="262.4" cy="199.9" r="2.05"/><circle cx="270.1" cy="201.9" r="2.05"/><circle cx="286.2" cy="199.4" r="2.05"/><circle cx="225.2" cy="198.9" r="2.05"/><circle cx="228.8" cy="199.3" r="2.05"/><circle cx="202.8" cy="200.5" r="2.05"/><circle cx="260.5" cy="202.9" r="2.05"/><circle cx="243.7" cy="199.3" r="2.05"/><circle cx="239.5" cy="198.8" r="2.05"/><circle cx="260.6" cy="198.1" r="2.05"/><circle cx="248.4" cy="200.2" r="2.05"/><circle cx="294.3" cy="201.5" r="2.05"/><circle cx="189.7" cy="199.5" r="2.05"/><circle cx="261.0" cy="199.9" r="2.05"/><circle cx="212.7" cy="201.7" r="2.05"/><circle cx="361.1" cy="199.6" r="2.05"/><circle cx="321.8" cy="202.9" r="2.05"/></g>
<g fill="#deff19" stroke="#deff19"><circle cx="255.3" cy="193.2" r="2.05"/><circle cx="241.8" cy="197.9" r="2.05"/><circle cx="246.8" cy="197.9" r="2.05"/><circle cx="234.9" cy="195.9" r="2.05"/><circle cx="248.1" cy="194.0" r="2.05"/><circle cx="246.9" cy="197.6" r="2.05"/><circle cx="300.0" cy="196.8" r="2.05"/><circle cx="241.7" cy="195.5" r="2.05"/><circle cx="250.8" cy="197.0" r="2.05"/><circle cx="266.4" cy="198.0" r="2.05"/><circle cx="228.6" cy="194.5" r="2.05"/><circle cx="246.7" cy="197.6" r="2.05"/><circle cx="237.5" cy="195.7" r="2.05"/><circle cx="251.6" cy="195.4" r="2.05"/><circle cx="208.0" cy="193.4" r="2.05"/><circle cx="246.6" cy="196.7" r="2.05"/><circle cx="263.3" cy="194.8" r="2.05"/><circle cx="260.4" cy="195.6" r="2.05"/><circle cx="269.4" cy="195.9" r="2.05"/><circle cx="250.3" cy="193.2" r="2.05"/><circle cx="236.9" cy="194.7" r="2.05"/><circle cx="260.2" cy="194.8" r="2.05"/><circle cx="237.8" cy="197.1" r="2.05"/><circle cx="234.6" cy="193.5" r="2.05"/><circle cx="252.3" cy="195.7" r="2.05"/><circle cx="296.2" cy="197.2" r="2.05"/><circle cx="267.9" cy="197.8" r="2.05"/><circle cx="224.2" cy="194.3" r="2.05"/><circle cx="234.1" cy="193.1" r="2.05"/><circle cx="246.9" cy="195.3" r="2.05"/><circle cx="303.1" cy="193.6" r="2.05"/><circle cx="228.9" cy="194.8" r="2.05"/><circle cx="265.6" cy="193.6" r="2.05"/><circle cx="268.7" cy="193.2" r="2.05"/><circle cx="287.3" cy="195.5" r="2.05"/><circle cx="294.7" cy="196.3" r="2.05"/><circle cx="234.6" cy="196.1" r="2.05"/><circle cx="251.0" cy="193.4" r="2.05"/><circle cx="235.4" cy="193.6" r="2.05"/><circle cx="258.1" cy="195.6" r="2.05"/><circle cx="229.1" cy="197.1" r="2.05"/><circle cx="251.2" cy="196.9" r="2.05"/><circle cx="231.6" cy="193.2" r="2.05"/><circle cx="267.9" cy="195.1" r="2.05"/><circle cx="252.9" cy="193.1" r="2.05"/><circle cx="252.2" cy="194.4" r="2.05"/><circle cx="339.8" cy="195.7" r="2.05"/><circle cx="140.5" cy="196.4" r="2.05"/><circle cx="183.1" cy="195.7" r="2.05"/></g>
<g fill="#e7ff0f" stroke="#e7ff0f"><circle cx="279.6" cy="188.2" r="2.05"/><circle cx="157.6" cy="190.5" r="2.05"/><circle cx="252.7" cy="191.8" r="2.05"/><circle cx="242.0" cy="190.6" r="2.05"/><circle cx="255.9" cy="192.4" r="2.05"/><circle cx="225.3" cy="190.3" r="2.05"/><circle cx="262.9" cy="188.9" r="2.05"/><circle cx="274.2" cy="188.9" r="2.05"/><circle cx="254.1" cy="189.0" r="2.05"/><circle cx="219.0" cy="192.6" r="2.05"/><circle cx="361.8" cy="190.8" r="2.05"/><circle cx="248.8" cy="191.7" r="2.05"/><circle cx="253.3" cy="189.7" r="2.05"/><circle cx="300.4" cy="191.0" r="2.05"/><circle cx="241.9" cy="192.2" r="2.05"/><circle cx="247.4" cy="188.7" r="2.05"/><circle cx="254.2" cy="191.4" r="2.05"/><circle cx="302.1" cy="192.9" r="2.05"/><circle cx="268.6" cy="188.4" r="2.05"/><circle cx="251.4" cy="191.3" r="2.05"/><circle cx="226.2" cy="190.9" r="2.05"/><circle cx="243.5" cy="190.0" r="2.05"/><circle cx="256.4" cy="188.5" r="2.05"/><circle cx="248.1" cy="191.4" r="2.05"/><circle cx="262.8" cy="190.2" r="2.05"/><circle cx="258.1" cy="189.6" r="2.05"/><circle cx="259.3" cy="189.2" r="2.05"/><circle cx="250.5" cy="192.0" r="2.05"/><circle cx="221.5" cy="192.5" r="2.05"/><circle cx="205.2" cy="191.8" r="2.05"/><circle cx="253.9" cy="192.8" r="2.05"/><circle cx="235.9" cy="191.4" r="2.05"/><circle cx="304.3" cy="190.9" r="2.05"/><circle cx="267.8" cy="191.1" r="2.05"/><circle cx="235.9" cy="188.7" r="2.05"/><circle cx="254.9" cy="188.6" r="2.05"/><circle cx="240.2" cy="192.0" r="2.05"/><circle cx="208.4" cy="191.8" r="2.05"/><circle cx="305.6" cy="188.2" r="2.05"/><circle cx="261.1" cy="188.9" r="2.05"/><circle cx="264.4" cy="192.6" r="2.05"/><circle cx="279.8" cy="188.6" r="2.05"/><circle cx="262.2" cy="189.4" r="2.05"/><circle cx="255.8" cy="191.4" r="2.05"/><circle cx="251.0" cy="188.6" r="2.05"/><circle cx="251.5" cy="190.4" r="2.05"/><circle cx="255.9" cy="188.0" r="2.05"/><circle cx="214.0" cy="192.1" r="2.05"/><circle cx="319.9" cy="190.3" r="2.05"/><circle cx="202.3" cy="192.7" r="2.05"/><circle cx="171.2" cy="188.2" r="2.05"/><circle cx="245.6" cy="188.1" r="2.05"/><circle cx="315.9" cy="190.5" r="2.05"/></g>
<g fill="#f1fc06" stroke="#f1fc06"><circle cx="278.8" cy="184.7" r="2.05"/><circle cx="259.1" cy="187.2" r="2.05"/><circle cx="213.4" cy="184.2" r="2.05"/><circle cx="346.7" cy="187.6" r="2.05"/><circle cx="276.8" cy="184.6" r="2.05"/><circle cx="250.5" cy="185.0" r="2.05"/><circle cx="267.6" cy="183.9" r="2.05"/><circle cx="256.1" cy="183.6" r="2.05"/><circle cx="226.0" cy="183.8" r="2.05"/><circle cx="257.3" cy="186.2" r="2.05"/><circle cx="263.5" cy="187.2" r="2.05"/><circle cx="324.3" cy="187.7" r="2.05"/><circle cx="250.8" cy="183.5" r="2.05"/><circle cx="222.6" cy="187.4" r="2.05"/><circle cx="247.3" cy="184.4" r="2.05"/><circle cx="245.6" cy="186.0" r="2.05"/><circle cx="248.3" cy="183.1" r="2.05"/><circle cx="254.2" cy="186.2" r="2.05"/><circle cx="267.8" cy="187.1" r="2.05"/><circle cx="272.2" cy="183.0" r="2.05"/><circle cx="210.2" cy="186.5" r="2.05"/><circle cx="301.5" cy="187.7" r="2.05"/><circle cx="246.1" cy="186.8" r="2.05"/><circle cx="213.3" cy="184.7" r="2.05"/><circle cx="239.9" cy="186.3" r="2.05"/><circle cx="253.8" cy="187.7" r="2.05"/><circle cx="278.8" cy="185.3" r="2.05"/><circle cx="252.4" cy="186.3" r="2.05"/><circle cx="253.8" cy="187.0" r="2.05"/><circle cx="311.1" cy="185.4" r="2.05"/><circle cx="261.2" cy="186.9" r="2.05"/><circle cx="254.8" cy="185.0" r="2.05"/><circle cx="264.0" cy="187.7" r="2.05"/><circle cx="245.2" cy="186.9" r="2.05"/><circle cx="212.4" cy="184.7" r="2.05"/><circle cx="256.0" cy="187.6" r="2.05"/><circle cx="266.9" cy="183.6" r="2.05"/><circle cx="234.0" cy="185.0" r="2.05"/><circle cx="181.4" cy="184.9" r="2.05"/><circle cx="192.9" cy="184.9" r="2.05"/><circle cx="174.7" cy="185.1" r="2.05"/><circle cx="181.3" cy="184.4" r="2.05"/><circle cx="192.7" cy="185.7" r="2.05"/></g>
<g fill="#f8f500" stroke="#f8f500"><circle cx="268.0" cy="180.8" r="2.05"/><circle cx="249.9" cy="178.4" r="2.05"/><circle cx="248.0" cy="182.0" r="2.05"/><circle cx="212.2" cy="180.9" r="2.05"/><circle cx="245.5" cy="178.0" r="2.05"/><circle cx="264.8" cy="181.3" r="2.05"/><circle cx="249.6" cy="182.4" r="2.05"/><circle cx="273.7" cy="181.5" r="2.05"/><circle cx="216.8" cy="179.8" r="2.05"/><circle cx="241.1" cy="179.1" r="2.05"/><circle cx="247.7" cy="181.5" r="2.05"/><circle cx="263.4" cy="178.9" r="2.05"/><circle cx="243.6" cy="181.6" r="2.05"/><circle cx="249.4" cy="179.6" r="2.05"/><circle cx="359.3" cy="180.9" r="2.05"/><circle cx="240.5" cy="181.8" r="2.05"/><circle cx="297.8" cy="179.6" r="2.05"/><circle cx="241.2" cy="181.6" r="2.05"/><circle cx="248.7" cy="178.4" r="2.05"/><circle cx="251.5" cy="180.9" r="2.05"/><circle cx="245.5" cy="178.9" r="2.05"/><circle cx="234.8" cy="180.2" r="2.05"/><circle cx="272.0" cy="178.4" r="2.05"/><circle cx="277.2" cy="182.8" r="2.05"/><circle cx="331.1" cy="180.6" r="2.05"/><circle cx="250.9" cy="181.7" r="2.05"/><circle cx="268.2" cy="178.2" r="2.05"/><circle cx="201.4" cy="181.1" r="2.05"/><circle cx="256.2" cy="178.8" r="2.05"/><circle cx="251.6" cy="180.7" r="2.05"/><circle cx="270.7" cy="181.4" r="2.05"/><circle cx="262.2" cy="182.8" r="2.05"/><circle cx="224.3" cy="179.4" r="2.05"/><circle cx="250.7" cy="179.2" r="2.05"/><circle cx="246.4" cy="178.9" r="2.05"/><circle cx="260.8" cy="180.8" r="2.05"/><circle cx="252.5" cy="182.4" r="2.05"/><circle cx="239.9" cy="179.8" r="2.05"/><circle cx="252.3" cy="180.7" r="2.05"/><circle cx="277.0" cy="182.6" r="2.05"/><circle cx="245.5" cy="178.6" r="2.05"/><circle cx="149.7" cy="181.6" r="2.05"/><circle cx="165.7" cy="182.6" r="2.05"/><circle cx="161.8" cy="181.6" r="2.05"/><circle cx="166.5" cy="179.5" r="2.05"/></g>
<g fill="#ffea00" stroke="#ffea00"><circle cx="259.1" cy="174.1" r="2.05"/><circle cx="233.4" cy="173.0" r="2.05"/><circle cx="273.0" cy="177.4" r="2.05"/><circle cx="265.4" cy="176.8" r="2.05"/><circle cx="261.6" cy="173.8" r="2.05"/><circle cx="309.9" cy="175.8" r="2.05"/><circle cx="262.1" cy="176.8" r="2.05"/><circle cx="247.7" cy="176.3" r="2.05"/><circle cx="172.8" cy="173.4" r="2.05"/><circle cx="272.6" cy="175.1" r="2.05"/><circle cx="243.4" cy="174.9" r="2.05"/><circle cx="212.9" cy="173.3" r="2.05"/><circle cx="252.5" cy="176.7" r="2.05"/><circle cx="261.0" cy="174.1" r="2.05"/><circle cx="285.5" cy="173.9" r="2.05"/><circle cx="242.8" cy="176.3" r="2.05"/><circle cx="259.8" cy="175.3" r="2.05"/><circle cx="334.6" cy="176.0" r="2.05"/><circle cx="224.7" cy="176.7" r="2.05"/><circle cx="245.5" cy="173.3" r="2.05"/><circle cx="261.1" cy="176.8" r="2.05"/><circle cx="307.8" cy="174.5" r="2.05"/><circle cx="256.8" cy="173.9" r="2.05"/><circle cx="205.2" cy="175.2" r="2.05"/><circle cx="297.3" cy="174.5" r="2.05"/><circle cx="249.6" cy="176.4" r="2.05"/><circle cx="189.0" cy="174.7" r="2.05"/><circle cx="210.5" cy="176.6" r="2.05"/><circle cx="208.3" cy="175.7" r="2.05"/><circle cx="264.7" cy="175.1" r="2.05"/><circle cx="200.9" cy="176.9" r="2.05"/><circle cx="218.9" cy="174.6" r="2.05"/></g>
<g fill="#ffde00" stroke="#ffde00"><circle cx="228.5" cy="171.3" r="2.05"/><circle cx="245.2" cy="168.0" r="2.05"/><circle cx="286.0" cy="168.6" r="2.05"/><circle cx="247.7" cy="168.6" r="2.05"/><circle cx="244.3" cy="171.7" r="2.05"/><circle cx="282.7" cy="172.4" r="2.05"/><circle cx="302.0" cy="172.0" r="2.05"/><circle cx="272.7" cy="171.4" r="2.05"/><circle cx="277.8" cy="168.7" r="2.05"/><circle cx="273.0" cy="172.8" r="2.05"/><circle cx="281.0" cy="168.2" r="2.05"/><circle cx="267.2" cy="168.7" r="2.05"/><circle cx="241.4" cy="169.0" r="2.05"/><circle cx="205.1" cy="171.2" r="2.05"/><circle cx="327.2" cy="169.3" r="2.05"/><circle cx="302.3" cy="172.3" r="2.05"/><circle cx="269.9" cy="169.7" r="2.05"/><circle cx="255.0" cy="169.4" r="2.05"/><circle cx="282.6" cy="169.9" r="2.05"/><circle cx="335.7" cy="168.5" r="2.05"/><circle cx="305.9" cy="169.5" r="2.05"/><circle cx="337.1" cy="170.5" r="2.05"/><circle cx="277.3" cy="168.5" r="2.05"/><circle cx="278.1" cy="171.7" r="2.05"/><circle cx="256.6" cy="172.8" r="2.05"/><circle cx="240.9" cy="170.6" r="2.05"/><circle cx="236.8" cy="172.5" r="2.05"/><circle cx="295.6" cy="172.1" r="2.05"/><circle cx="283.8" cy="172.3" r="2.05"/><circle cx="329.9" cy="172.4" r="2.05"/><circle cx="254.5" cy="168.0" r="2.05"/><circle cx="236.1" cy="169.9" r="2.05"/><circle cx="241.8" cy="170.6" r="2.05"/><circle cx="293.2" cy="170.0" r="2.05"/><circle cx="260.3" cy="171.2" r="2.05"/><circle cx="196.5" cy="172.1" r="2.05"/><circle cx="279.9" cy="169.9" r="2.05"/><circle cx="275.7" cy="169.0" r="2.05"/><circle cx="197.0" cy="168.7" r="2.05"/><circle cx="215.6" cy="172.6" r="2.05"/></g>
<g fill="#ffd700" stroke="#ffd700"><circle cx="259.5" cy="163.3" r="2.05"/><circle cx="257.6" cy="166.7" r="2.05"/><circle cx="276.5" cy="165.7" r="2.05"/><circle cx="224.4" cy="166.9" r="2.05"/><circle cx="252.7" cy="164.1" r="2.05"/><circle cx="277.9" cy="164.4" r="2.05"/><circle cx="243.4" cy="167.8" r="2.05"/><circle cx="276.5" cy="164.6" r="2.05"/><circle cx="253.6" cy="167.8" r="2.05"/><circle cx="292.4" cy="164.8" r="2.05"/><circle cx="273.2" cy="166.1" r="2.05"/><circle cx="257.5" cy="166.2" r="2.05"/><circle cx="270.7" cy="165.0" r="2.05"/><circle cx="255.7" cy="163.9" r="2.05"/><circle cx="209.5" cy="163.0" r="2.05"/><circle cx="278.6" cy="165.8" r="2.05"/><circle cx="191.3" cy="165.7" r="2.05"/><circle cx="286.2" cy="166.1" r="2.05"/><circle cx="252.5" cy="166.8" r="2.05"/><circle cx="259.5" cy="164.3" r="2.05"/><circle cx="260.7" cy="166.3" r="2.05"/><circle cx="262.4" cy="167.7" r="2.05"/><circle cx="236.2" cy="166.3" r="2.05"/><circle cx="268.2" cy="166.1" r="2.05"/></g>
<g fill="#ffcc00" stroke="#ffcc00"><circle cx="321.0" cy="158.0" r="2.05"/><circle cx="265.2" cy="158.0" r="2.05"/><circle cx="254.9" cy="162.7" r="2.05"/><circle cx="250.3" cy="160.9" r="2.05"/><circle cx="289.1" cy="162.0" r="2.05"/><circle cx="260.2" cy="159.2" r="2.05"/><circle cx="288.8" cy="160.0" r="2.05"/><circle cx="351.0" cy="161.4" r="2.05"/><circle cx="258.8" cy="161.2" r="2.05"/><circle cx="297.0" cy="161.9" r="2.05"/><circle cx="278.3" cy="161.6" r="2.05"/><circle cx="259.8" cy="162.7" r="2.05"/><circle cx="274.0" cy="160.4" r="2.05"/><circle cx="282.5" cy="162.6" r="2.05"/><circle cx="209.1" cy="162.2" r="2.05"/></g>
<g fill="#ffc100" stroke="#ffc100"><circle cx="267.2" cy="157.0" r="2.05"/><circle cx="281.9" cy="157.6" r="2.05"/><circle cx="268.8" cy="157.1" r="2.05"/><circle cx="215.4" cy="156.8" r="2.05"/><circle cx="329.1" cy="156.3" r="2.05"/><circle cx="244.2" cy="155.7" r="2.05"/><circle cx="280.2" cy="155.8" r="2.05"/><circle cx="264.2" cy="157.2" r="2.05"/><circle cx="315.7" cy="153.8" r="2.05"/><circle cx="255.4" cy="156.0" r="2.05"/><circle cx="258.4" cy="155.9" r="2.05"/><circle cx="221.0" cy="157.6" r="2.05"/><circle cx="266.1" cy="155.0" r="2.05"/></g>
<g fill="#ffb900" stroke="#ffb900"><circle cx="270.5" cy="150.9" r="2.05"/><circle cx="204.5" cy="148.0" r="2.05"/><circle cx="287.5" cy="150.6" r="2.05"/><circle cx="340.1" cy="151.9" r="2.05"/><circle cx="298.9" cy="149.1" r="2.05"/><circle cx="242.0" cy="151.3" r="2.05"/><circle cx="180.3" cy="150.7" r="2.05"/><circle cx="202.5" cy="148.4" r="2.05"/><circle cx="209.1" cy="152.4" r="2.05"/><circle cx="212.4" cy="150.7" r="2.05"/><circle cx="235.3" cy="152.4" r="2.05"/><circle cx="245.1" cy="149.1" r="2.05"/></g>
<g fill="#ffae00" stroke="#ffae00"><circle cx="310.6" cy="144.0" r="2.05"/><circle cx="211.9" cy="145.5" r="2.05"/><circle cx="335.1" cy="143.0" r="2.05"/><circle cx="278.7" cy="147.7" r="2.05"/><circle cx="278.2" cy="146.4" r="2.05"/><circle cx="285.2" cy="143.7" r="2.05"/><circle cx="270.0" cy="146.1" r="2.05"/><circle cx="300.6" cy="147.2" r="2.05"/><circle cx="256.2" cy="143.2" r="2.05"/><circle cx="288.7" cy="145.0" r="2.05"/><circle cx="236.1" cy="144.8" r="2.05"/><circle cx="281.9" cy="143.2" r="2.05"/><circle cx="265.5" cy="145.3" r="2.05"/><circle cx="238.5" cy="145.3" r="2.05"/><circle cx="253.8" cy="147.2" r="2.05"/><circle cx="277.0" cy="147.4" r="2.05"/><circle cx="350.6" cy="143.2" r="2.05"/><circle cx="171.5" cy="147.4" r="2.05"/><circle cx="230.4" cy="144.2" r="2.05"/><circle cx="254.9" cy="144.2" r="2.05"/></g>
<g fill="#ffa300" stroke="#ffa300"><circle cx="290.7" cy="141.9" r="2.05"/><circle cx="260.8" cy="141.7" r="2.05"/><circle cx="326.8" cy="139.7" r="2.05"/><circle cx="298.8" cy="141.3" r="2.05"/><circle cx="284.8" cy="140.8" r="2.05"/><circle cx="209.5" cy="141.8" r="2.05"/><circle cx="263.0" cy="139.0" r="2.05"/><circle cx="351.1" cy="140.8" r="2.05"/><circle cx="289.9" cy="141.6" r="2.05"/><circle cx="260.6" cy="138.6" r="2.05"/><circle cx="279.0" cy="139.6" r="2.05"/><circle cx="358.9" cy="142.1" r="2.05"/></g>
<g fill="#ff9c00" stroke="#ff9c00"><circle cx="286.9" cy="134.6" r="2.05"/><circle cx="279.4" cy="134.2" r="2.05"/><circle cx="311.4" cy="132.8" r="2.05"/><circle cx="270.2" cy="136.2" r="2.05"/><circle cx="321.6" cy="133.8" r="2.05"/><circle cx="289.0" cy="137.2" r="2.05"/><circle cx="283.8" cy="134.8" r="2.05"/><circle cx="275.8" cy="135.1" r="2.05"/><circle cx="293.7" cy="133.0" r="2.05"/><circle cx="372.8" cy="135.9" r="2.05"/><circle cx="346.7" cy="133.4" r="2.05"/><circle cx="222.2" cy="134.4" r="2.05"/><circle cx="227.1" cy="137.6" r="2.05"/><circle cx="235.9" cy="136.0" r="2.05"/></g>
<g fill="#ff9100" stroke="#ff9100"><circle cx="263.0" cy="130.1" r="2.05"/><circle cx="331.5" cy="130.7" r="2.05"/><circle cx="293.0" cy="128.4" r="2.05"/><circle cx="300.8" cy="128.5" r="2.05"/><circle cx="292.2" cy="128.1" r="2.05"/><circle cx="331.7" cy="128.9" r="2.05"/><circle cx="338.4" cy="131.2" r="2.05"/><circle cx="280.0" cy="130.3" r="2.05"/><circle cx="326.2" cy="130.9" r="2.05"/><circle cx="317.4" cy="128.0" r="2.05"/><circle cx="250.4" cy="132.4" r="2.05"/><circle cx="267.8" cy="128.9" r="2.05"/><circle cx="273.0" cy="130.0" r="2.05"/><circle cx="238.5" cy="127.8" r="2.05"/><circle cx="250.0" cy="132.1" r="2.05"/><circle cx="268.0" cy="129.5" r="2.05"/><circle cx="272.9" cy="128.8" r="2.05"/></g>
<g fill="#ff8600" stroke="#ff8600"><circle cx="295.4" cy="124.0" r="2.05"/><circle cx="293.9" cy="127.3" r="2.05"/><circle cx="337.2" cy="126.0" r="2.05"/><circle cx="310.7" cy="125.7" r="2.05"/><circle cx="311.8" cy="126.9" r="2.05"/><circle cx="302.6" cy="124.5" r="2.05"/><circle cx="260.2" cy="124.7" r="2.05"/><circle cx="259.8" cy="123.6" r="2.05"/></g>
<g fill="#ff7e00" stroke="#ff7e00"><circle cx="282.1" cy="119.3" r="2.05"/><circle cx="340.8" cy="121.3" r="2.05"/><circle cx="274.5" cy="120.3" r="2.05"/></g>
<g fill="#ff7300" stroke="#ff7300"><circle cx="302.5" cy="117.5" r="2.05"/><circle cx="340.7" cy="114.1" r="2.05"/><circle cx="345.8" cy="113.4" r="2.05"/><circle cx="345.3" cy="114.7" r="2.05"/><circle cx="280.0" cy="114.3" r="2.05"/><circle cx="279.4" cy="117.0" r="2.05"/></g>
<g fill="#ff6800" stroke="#ff6800"><circle cx="304.5" cy="109.1" r="2.05"/><circle cx="310.3" cy="109.8" r="2.05"/><circle cx="284.5" cy="110.8" r="2.05"/><circle cx="299.1" cy="110.1" r="2.05"/><circle cx="303.6" cy="111.5" r="2.05"/><circle cx="353.0" cy="110.8" r="2.05"/><circle cx="356.5" cy="112.6" r="2.05"/><circle cx="283.7" cy="111.5" r="2.05"/></g>
<g fill="#ff6000" stroke="#ff6000"><circle cx="309.2" cy="104.1" r="2.05"/><circle cx="309.8" cy="104.9" r="2.05"/><circle cx="318.1" cy="107.6" r="2.05"/><circle cx="316.3" cy="106.6" r="2.05"/><circle cx="298.1" cy="103.4" r="2.05"/><circle cx="292.2" cy="104.6" r="2.05"/><circle cx="323.4" cy="103.9" r="2.05"/><circle cx="326.9" cy="107.4" r="2.05"/><circle cx="290.9" cy="104.9" r="2.05"/><circle cx="301.4" cy="106.5" r="2.05"/></g>
<g fill="#ff5500" stroke="#ff5500"><circle cx="291.4" cy="101.8" r="2.05"/><circle cx="338.6" cy="98.1" r="2.05"/><circle cx="275.8" cy="99.7" r="2.05"/><circle cx="318.2" cy="102.1" r="2.05"/><circle cx="334.6" cy="99.7" r="2.05"/><circle cx="342.6" cy="99.7" r="2.05"/><circle cx="275.2" cy="101.6" r="2.05"/></g>
<g fill="#ff4a00" stroke="#ff4a00"><circle cx="294.3" cy="95.6" r="2.05"/><circle cx="330.0" cy="94.5" r="2.05"/><circle cx="317.2" cy="93.4" r="2.05"/><circle cx="356.5" cy="94.5" r="2.05"/><circle cx="363.4" cy="92.8" r="2.05"/></g>
<g fill="#ff4300" stroke="#ff4300"><circle cx="321.8" cy="89.1" r="2.05"/><circle cx="311.0" cy="90.8" r="2.05"/><circle cx="248.7" cy="90.7" r="2.05"/><circle cx="304.7" cy="88.2" r="2.05"/><circle cx="315.8" cy="90.7" r="2.05"/><circle cx="331.0" cy="91.0" r="2.05"/><circle cx="337.4" cy="91.0" r="2.05"/></g>
<g fill="#ff3800" stroke="#ff3800"><circle cx="320.2" cy="85.2" r="2.05"/><circle cx="315.5" cy="83.0" r="2.05"/></g>
<g fill="#ff2d00" stroke="#ff2d00"><circle cx="321.7" cy="82.3" r="2.05"/></g>
<g fill="#ff2500" stroke="#ff2500"><circle cx="298.0" cy="73.3" r="2.05"/></g>
<g fill="#ff1a00" stroke="#ff1a00"><circle cx="333.3" cy="68.8" r="2.05"/><circle cx="382.2" cy="68.0" r="2.05"/></g>
<g fill="#fa0f00" stroke="#fa0f00"><circle cx="318.6" cy="62.6" r="2.05"/><circle cx="268.9" cy="65.6" r="2.05"/><circle cx="301.9" cy="63.2" r="2.05"/></g>
<g fill="#a80000" stroke="#a80000"><circle cx="323.4" cy="27.4" r="2.05"/></g>
<g fill="#9b0000" stroke="#9b0000"><circle cx="376.6" cy="25.0" r="2.05"/></g>
<g fill="#8d0000" stroke="#8d0000"><circle cx="328.7" cy="18.7" r="2.05"/><circle cx="338.4" cy="21.1" r="2.05"/><circle cx="362.4" cy="21.5" r="2.05"/></g>
<g fill="#840000" stroke="#840000"><circle cx="361.0" cy="13.5" r="2.05"/></g>
</g>
<line x1="81.30" y1="479.80" x2="410.30" y2="-74.60" stroke="#000" stroke-width="1.7"/>
<line x1="81.30" y1="476.42" x2="410.30" y2="-24.43" stroke="#f00" stroke-width="1.6" stroke-dasharray="5.2 2.2"/>
</g>
<rect x="421.3" y="12.7" width="23.3" height="467.1" fill="url(#cb)"/>
</g>
<rect x="81.3" y="12.7" width="319.9" height="467.1" fill="none" stroke="#000" stroke-width="1.07"/>
<line x1="81.30" y1="479.8" x2="81.30" y2="484.7" stroke="#000" stroke-width="1.07"/>
<text class="t" x="81.30" y="500.4" text-anchor="middle">0</text>
<line x1="128.30" y1="479.8" x2="128.30" y2="484.7" stroke="#000" stroke-width="1.07"/>
<text class="t" x="128.30" y="500.4" text-anchor="middle">100</text>
<line x1="175.30" y1="479.8" x2="175.30" y2="484.7" stroke="#000" stroke-width="1.07"/>
<text class="t" x="175.30" y="500.4" text-anchor="middle">200</text>
<line x1="222.30" y1="479.8" x2="222.30" y2="484.7" stroke="#000" stroke-width="1.07"/>
<text class="t" x="222.30" y="500.4" text-anchor="middle">300</text>
<line x1="269.30" y1="479.8" x2="269.30" y2="484.7" stroke="#000" stroke-width="1.07"/>
<text class="t" x="269.30" y="500.4" text-anchor="middle">400</text>
<line x1="316.30" y1="479.8" x2="316.30" y2="484.7" stroke="#000" stroke-width="1.07"/>
<text class="t" x="316.30" y="500.4" text-anchor="middle">500</text>
<line x1="363.30" y1="479.8" x2="363.30" y2="484.7" stroke="#000" stroke-width="1.07"/>
<text class="t" x="363.30" y="500.4" text-anchor="middle">600</text>
<line x1="76.4" y1="479.80" x2="81.3" y2="479.80" stroke="#000" stroke-width="1.07"/>
<text class="t" x="71.6" y="484.90" text-anchor="end">0</text>
<line x1="76.4" y1="400.60" x2="81.3" y2="400.60" stroke="#000" stroke-width="1.07"/>
<text class="t" x="71.6" y="405.70" text-anchor="end">100</text>
<line x1="76.4" y1="321.40" x2="81.3" y2="321.40" stroke="#000" stroke-width="1.07"/>
<text class="t" x="71.6" y="326.50" text-anchor="end">200</text>
<line x1="76.4" y1="242.20" x2="81.3" y2="242.20" stroke="#000" stroke-width="1.07"/>
<text class="t" x="71.6" y="247.30" text-anchor="end">300</text>
<line x1="76.4" y1="163.00" x2="81.3" y2="163.00" stroke="#000" stroke-width="1.07"/>
<text class="t" x="71.6" y="168.10" text-anchor="end">400</text>
<line x1="76.4" y1="83.80" x2="81.3" y2="83.80" stroke="#000" stroke-width="1.07"/>
<text class="t" x="71.6" y="88.90" text-anchor="end">500</text>
<rect x="421.3" y="12.7" width="23.3" height="467.1" fill="none" stroke="#000" stroke-width="1.07"/>
<line x1="444.6" y1="465.50" x2="449.5" y2="465.50" stroke="#000" stroke-width="1.07"/>
<text class="t" x="454.3" y="470.60">0</text>
<line x1="444.6" y1="388.76" x2="449.5" y2="388.76" stroke="#000" stroke-width="1.07"/>
<text class="t" x="454.3" y="393.86">100</text>
<line x1="444.6" y1="312.02" x2="449.5" y2="312.02" stroke="#000" stroke-width="1.07"/>
<text class="t" x="454.3" y="317.12">200</text>
<line x1="444.6" y1="235.28" x2="449.5" y2="235.28" stroke="#000" stroke-width="1.07"/>
<text class="t" x="454.3" y="240.38">300</text>
<line x1="444.6" y1="158.54" x2="449.5" y2="158.54" stroke="#000" stroke-width="1.07"/>
<text class="t" x="454.3" y="163.64">400</text>
<line x1="444.6" y1="81.80" x2="449.5" y2="81.80" stroke="#000" stroke-width="1.07"/>
<text class="t" x="454.3" y="86.90">500</text>
<text class="s" x="107.4" y="50.6" font-size="21" word-spacing="0">Y = 0.9X + 4.27</text>
<text class="s" x="107.4" y="74.0" font-size="21">R<tspan dy="-7.3" font-size="15.5" font-family="DejaVu Sans,sans-serif">2</tspan><tspan dy="7.3" word-spacing="1"> = 0.904</tspan></text>
<text class="s" x="107.4" y="96.5" font-size="21" word-spacing="1">MAE = 6.523</text>
<text class="s" x="107.4" y="119.1" font-size="21" word-spacing="1">RMSE = 11.027</text>
<text class="s" x="316" y="451.7" font-size="25">(g)all</text>
<text class="s" x="107.2" y="536.6" font-size="24.2">PM2.5 Observation(μg/m<tspan dx="3" dy="-12.3" font-size="19">3</tspan><tspan dx="1" dy="12.3">)</tspan></text>
<text class="s" transform="translate(33,373) rotate(-90)" font-size="24.2">PM2.5 Prediction(μg/m<tspan dx="3" dy="-12.3" font-size="19">3</tspan><tspan dx="1" dy="12.3">)</tspan></text>
</svg></body></html>
